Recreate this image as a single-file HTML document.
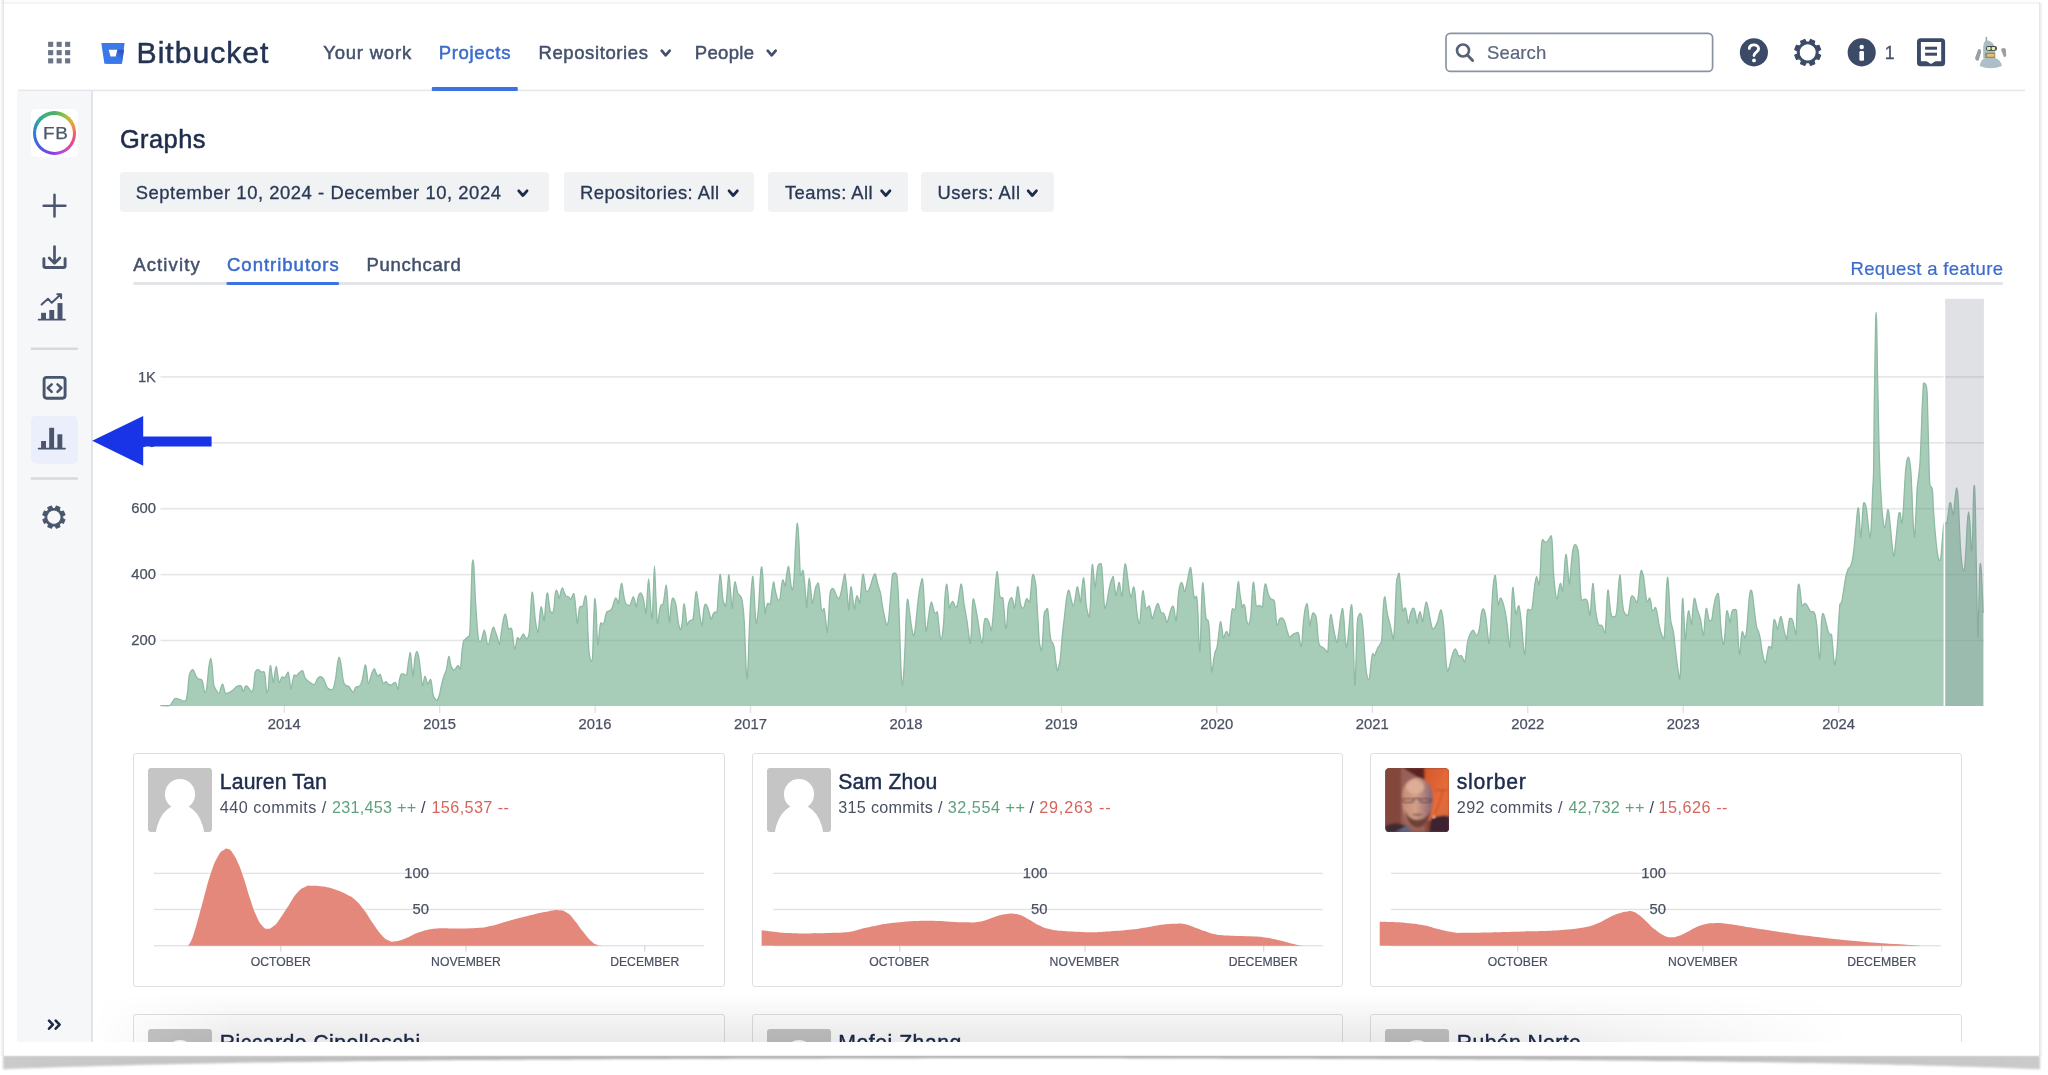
<!DOCTYPE html>
<html lang="en"><head><meta charset="utf-8"><title>Graphs - Bitbucket</title>
<style>

*{box-sizing:border-box;margin:0;padding:0}
html,body{width:2048px;height:1075px;overflow:hidden;background:#fff}
body{font-family:"Liberation Sans",Arial,Helvetica,sans-serif;position:relative}
#sheet{position:absolute;left:0;top:0;width:2048px;height:1075px;overflow:hidden;will-change:transform}
.t{position:absolute;white-space:nowrap;display:block}
.abs{position:absolute}
svg{position:absolute;overflow:visible}
.btn{position:absolute;background:#f1f2f4;border-radius:4px;height:40px;top:172px}
.card{position:absolute;border:1.6px solid #dfdfe2;border-radius:3px;background:#fff}

</style></head>
<body>
<div id="sheet">
<svg width="2048" height="100" style="left:0;top:0"><rect x="48.1" y="41.8" width="5.1" height="5.1" fill="#6c7586"/><rect x="56.6" y="41.8" width="5.1" height="5.1" fill="#6c7586"/><rect x="65.1" y="41.8" width="5.1" height="5.1" fill="#6c7586"/><rect x="48.1" y="50.1" width="5.1" height="5.1" fill="#6c7586"/><rect x="56.6" y="50.1" width="5.1" height="5.1" fill="#6c7586"/><rect x="65.1" y="50.1" width="5.1" height="5.1" fill="#6c7586"/><rect x="48.1" y="58.3" width="5.1" height="5.1" fill="#6c7586"/><rect x="56.6" y="58.3" width="5.1" height="5.1" fill="#6c7586"/><rect x="65.1" y="58.3" width="5.1" height="5.1" fill="#6c7586"/>
<defs><filter id="rbl"><feGaussianBlur stdDeviation="0.45"/></filter><linearGradient id="bbg" x1="1" y1="0.35" x2="0.45" y2="0.8"><stop offset="0" stop-color="#2a57c8"/><stop offset="0.6" stop-color="#3b78ea"/><stop offset="1" stop-color="#3b78ea"/></linearGradient></defs>
<path d="M101.3,43 L124.6,43 L121.9,63.8 L104.4,63.8 Z" fill="#3b78ea"/>
<path d="M124.1,49.7 L117.3,49.7 L115.6,56.6 L112,56.6 L106,63.8 L121.9,63.8 Z" fill="url(#bbg)"/>
<path d="M108.7,49.7 L117.3,49.7 L115.6,56.6 L110.5,56.6 Z" fill="#fff"/>
<rect x="18" y="89.6" width="2007" height="1.6" fill="#e6e7ea"/>
<rect x="431.8" y="87" width="86" height="4" rx="1" fill="#3b74e0"/>
<path d="M661.7,50.7 L665.7,55.3 L669.7,50.7" fill="none" stroke="#44516b" stroke-width="2.8" stroke-linecap="round" stroke-linejoin="round"/>
<path d="M767.7,50.7 L771.7,55.3 L775.7,50.7" fill="none" stroke="#44516b" stroke-width="2.8" stroke-linecap="round" stroke-linejoin="round"/>
<rect x="1446" y="33.4" width="266.6" height="38" rx="4.5" fill="#fff" stroke="#8b93a3" stroke-width="1.7"/>
<circle cx="1463" cy="50.5" r="6" fill="none" stroke="#56627a" stroke-width="2.6"/><path d="M1467.6,55.3 L1472.6,60.4" stroke="#56627a" stroke-width="2.9" stroke-linecap="round"/>
<circle cx="1753.9" cy="52.4" r="14.05" fill="#3b4a66"/>
<path d="M1749.3,48.6 C1749.3,43.6 1758.6,43.6 1758.6,48.8 C1758.6,52.2 1754,52 1754,55.6" fill="none" stroke="#fff" stroke-width="2.9" stroke-linecap="round"/><circle cx="1754" cy="60.4" r="1.9" fill="#fff"/>
<path transform="rotate(22.5 1807.7 52.4)" d="M1817.86,49.75L1820.85,50.09L1820.85,54.71L1817.86,55.05L1816.76,57.71L1818.63,60.07L1815.37,63.33L1813.01,61.46L1810.35,62.56L1810.01,65.55L1805.39,65.55L1805.05,62.56L1802.39,61.46L1800.03,63.33L1796.77,60.07L1798.64,57.71L1797.54,55.05L1794.55,54.71L1794.55,50.09L1797.54,49.75L1798.64,47.09L1796.77,44.73L1800.03,41.47L1802.39,43.34L1805.05,42.24L1805.39,39.25L1810.01,39.25L1810.35,42.24L1813.01,43.34L1815.37,41.47L1818.63,44.73L1816.76,47.09ZM1799.10,52.40 a8.60,8.60 0 1,0 17.20,0 a8.60,8.60 0 1,0 -17.20,0Z" fill="#3b4a66" fill-rule="evenodd" stroke="#3b4a66" stroke-width="1" stroke-linejoin="round"/>
<circle cx="1861.7" cy="52.4" r="14.05" fill="#3b4a66"/>
<circle cx="1861.7" cy="47" r="2.25" fill="#fff"/><rect x="1859.4" y="50.9" width="4.6" height="9.8" rx="1.3" fill="#fff"/>
<rect x="1917" y="38.3" width="28.1" height="28" rx="3.6" fill="#3b4a66"/>
<path d="M1920.9,41.9 H1941.2 V61.3 H1935.4 L1931,64 L1926.6,61.3 H1920.9 Z" fill="#fff"/>
<rect x="1925.1" y="46.7" width="11.9" height="3" fill="#3b4a66"/><rect x="1925.1" y="52.7" width="11.9" height="3" fill="#3b4a66"/>
<g filter="url(#rbl)">
<path d="M1979.6,66 Q1981,59 1985.4,58 L1995.2,58 Q2000.6,59.4 2002,66 Q1991,70.5 1979.6,66 Z" fill="#aebfc9"/>
<path d="M1983.2,58.4 L1983.2,47 Q1983.6,41 1987,40.3 Q1993.5,41.5 1995.2,48 L1995.2,58.4 Z" fill="#a9bbc5"/>
<rect x="1985.6" y="36.8" width="1.5" height="4.6" fill="#9aa7ad"/>
<rect x="1986" y="45.9" width="11" height="4.9" rx="2.3" fill="#3c4a3a"/>
<rect x="1987" y="46.9" width="3.6" height="3" rx="0.8" fill="#e6ecb4"/><rect x="1991.6" y="46.9" width="3.6" height="3" rx="0.8" fill="#e6ecb4"/>
<rect x="1985.2" y="52.8" width="10" height="5.2" rx="1" fill="#a58a42"/>
<rect x="1987" y="54" width="7.4" height="2.8" rx="0.8" fill="#dcc474"/>
<path d="M1978.4,49 Q1981.4,48.6 1981,52.4 L1978.6,60.4 Q1975.6,61.4 1975,58 Z" fill="#9c9fa2"/>
<path d="M2001,49.4 Q2003.4,46.8 2005.8,49 L2006.2,55.6 Q2005,58 2003.6,56.6 Z" fill="#9c9fa2"/>
</g>
</svg>
<span class="t" id="t1" style="left:136.60px;top:38.13px;font-size:30.20px;line-height:30.20px;color:#243352;letter-spacing:0.954px;-webkit-text-stroke:0.45px #243352;">Bitbucket</span>
<span class="t" id="t2" style="left:323.20px;top:44.27px;font-size:18.50px;line-height:18.50px;color:#44516b;letter-spacing:0.801px;-webkit-text-stroke:0.50px #44516b;">Your work</span>
<span class="t" id="t3" style="left:438.70px;top:44.27px;font-size:18.50px;line-height:18.50px;color:#3b6bcc;letter-spacing:0.696px;-webkit-text-stroke:0.50px #3b6bcc;">Projects</span>
<span class="t" id="t4" style="left:538.50px;top:44.27px;font-size:18.50px;line-height:18.50px;color:#44516b;letter-spacing:0.597px;-webkit-text-stroke:0.50px #44516b;">Repositories</span>
<span class="t" id="t5" style="left:694.80px;top:44.27px;font-size:18.50px;line-height:18.50px;color:#44516b;letter-spacing:0.338px;-webkit-text-stroke:0.50px #44516b;">People</span>
<span class="t" id="t6" style="left:1487.00px;top:43.88px;font-size:18.50px;line-height:18.50px;color:#5b677d;letter-spacing:0.135px;-webkit-text-stroke:0.20px #5b677d;">Search</span>
<span class="t" id="t7" style="left:1884.80px;top:44.64px;font-size:17.60px;line-height:17.60px;color:#44516b;-webkit-text-stroke:0.30px #44516b;">1</span>
<div class="abs" style="left:17.2px;top:91px;width:75.9px;height:951px;background:#f6f7f9"></div>
<div class="abs" style="left:91.1px;top:91px;width:1.9px;height:951px;background:#e2e4ea"></div>
<div class="abs" style="left:31.4px;top:108.6px;width:46.4px;height:48.2px;background:#fff;border-radius:5px"></div>
<div class="abs" style="left:33px;top:111.4px;width:43.2px;height:43.2px;border-radius:50%;background:conic-gradient(from 0deg,#4db06a 0deg,#9bc43c 35deg,#f0a63a 60deg,#ee5d6a 95deg,#e0489a 125deg,#b347e0 165deg,#8a3de8 185deg,#4a58e6 225deg,#2f7fd8 270deg,#2fa3a8 305deg,#45b076 335deg,#4db06a 360deg)"></div>
<div class="abs" style="left:36.1px;top:114.5px;width:37px;height:37px;border-radius:50%;background:#fff"></div>
<span class="t" id="t8" style="left:42.70px;top:125.23px;font-size:16.20px;line-height:16.20px;color:#4d586b;-webkit-text-stroke:0.25px #4d586b;transform:scaleX(1.17);transform-origin:0 0;letter-spacing:0.6px;">FB</span>
<svg width="100" height="1075" style="left:0;top:0">
<path d="M43.6,205.7 H65.4 M54.5,194.8 V216.6" stroke="#4a566e" stroke-width="2.5" stroke-linecap="round" fill="none"/>
<path d="M43.9,258.6 V265.9 a1.6,1.6 0 0 0 1.6,1.6 H63.5 a1.6,1.6 0 0 0 1.6,-1.6 V258.6" stroke="#4a566e" stroke-width="2.9" stroke-linecap="round" stroke-linejoin="round" fill="none"/>
<path d="M54.5,246.6 V262.6 M49.2,258 L54.5,263.2 L59.8,258" stroke="#4a566e" stroke-width="2.7" stroke-linecap="round" stroke-linejoin="round" fill="none"/>
<path d="M38.6,319.7 H65" stroke="#4a566e" stroke-width="1.8" stroke-linecap="round"/>
<rect x="41.1" y="312.8" width="4.9" height="6.4" fill="#4a566e"/><rect x="49.3" y="310" width="4.9" height="9.2" fill="#4a566e"/><rect x="57.5" y="303.1" width="5" height="16.1" fill="#4a566e"/>
<path d="M41.6,304.6 L48,298.7 L51.7,302.8 L60.4,294.8 M57.3,294.2 H61.1 V298.2" stroke="#4a566e" stroke-width="2" stroke-linecap="round" stroke-linejoin="round" fill="none"/>
<rect x="30.6" y="347.6" width="47.4" height="2.4" rx="1.2" fill="#d6d9e0"/>
<rect x="30.6" y="477.3" width="47.4" height="2.4" rx="1.2" fill="#d6d9e0"/>
<rect x="44.1" y="377.4" width="21" height="20.8" rx="2.6" stroke="#4a566e" stroke-width="2.9" fill="none"/>
<path d="M51.7,384.3 L47.8,388 L51.7,391.8 M57.5,384.3 L61.4,388 L57.5,391.8" stroke="#4a566e" stroke-width="2.5" stroke-linecap="round" stroke-linejoin="round" fill="none"/>
<rect x="31" y="415.8" width="47" height="47.9" rx="5" fill="#eaeffb"/>
<path d="M38.6,448.6 H65" stroke="#4a566e" stroke-width="1.8" stroke-linecap="round"/>
<rect x="41.1" y="441" width="4.9" height="7" fill="#4a566e"/><rect x="49.2" y="427.8" width="4.9" height="20.2" fill="#4a566e"/><rect x="57.4" y="434.3" width="4.9" height="13.7" fill="#4a566e"/>
<path transform="rotate(22.5 53.9 517.2)" d="M62.51,514.95L65.13,515.23L65.13,519.17L62.51,519.45L61.58,521.70L63.23,523.75L60.45,526.53L58.40,524.88L56.15,525.81L55.87,528.43L51.93,528.43L51.65,525.81L49.40,524.88L47.35,526.53L44.57,523.75L46.22,521.70L45.29,519.45L42.67,519.17L42.67,515.23L45.29,514.95L46.22,512.70L44.57,510.65L47.35,507.87L49.40,509.52L51.65,508.59L51.93,505.97L55.87,505.97L56.15,508.59L58.40,509.52L60.45,507.87L63.23,510.65L61.58,512.70ZM46.80,517.20 a7.10,7.10 0 1,0 14.20,0 a7.10,7.10 0 1,0 -14.20,0Z" fill="#4a566e" fill-rule="evenodd" stroke="#4a566e" stroke-width="1" stroke-linejoin="round"/>
<path d="M49,1020.7 L52.9,1024.7 L49,1028.7 M55.7,1020.7 L59.6,1024.7 L55.7,1028.7" stroke="#1d2a45" stroke-width="2.6" stroke-linecap="round" stroke-linejoin="round" fill="none"/>
</svg>
<span class="t" id="t9" style="left:119.90px;top:126.81px;font-size:25.40px;line-height:25.40px;color:#1d2b4c;letter-spacing:0.467px;-webkit-text-stroke:0.55px #1d2b4c;">Graphs</span>
<div class="btn" style="left:120.0px;width:429.2px"></div>
<div class="btn" style="left:563.6px;width:190.4px"></div>
<div class="btn" style="left:768.0px;width:139.6px"></div>
<div class="btn" style="left:921.4px;width:132.6px"></div>
<span class="t" id="t10" style="left:135.70px;top:184.06px;font-size:18.40px;line-height:18.40px;color:#2a3856;letter-spacing:0.559px;-webkit-text-stroke:0.30px #2a3856;">September 10, 2024 - December 10, 2024</span>
<span class="t" id="t11" style="left:580.00px;top:184.06px;font-size:18.40px;line-height:18.40px;color:#2a3856;letter-spacing:0.446px;-webkit-text-stroke:0.30px #2a3856;">Repositories: All</span>
<span class="t" id="t12" style="left:785.00px;top:184.06px;font-size:18.40px;line-height:18.40px;color:#2a3856;letter-spacing:0.410px;-webkit-text-stroke:0.30px #2a3856;">Teams: All</span>
<span class="t" id="t13" style="left:937.50px;top:184.06px;font-size:18.40px;line-height:18.40px;color:#2a3856;letter-spacing:0.536px;-webkit-text-stroke:0.30px #2a3856;">Users: All</span>
<svg width="2048" height="480" style="left:0;top:0">
<path d="M518.8,190.9 L522.9,195.5 L527.0,190.9" fill="none" stroke="#1d2b4c" stroke-width="2.9" stroke-linecap="round" stroke-linejoin="round"/>
<path d="M729.1,190.9 L733.2,195.5 L737.3,190.9" fill="none" stroke="#1d2b4c" stroke-width="2.9" stroke-linecap="round" stroke-linejoin="round"/>
<path d="M881.7,190.9 L885.8,195.5 L889.9,190.9" fill="none" stroke="#1d2b4c" stroke-width="2.9" stroke-linecap="round" stroke-linejoin="round"/>
<path d="M1028.2,190.9 L1032.3,195.5 L1036.4,190.9" fill="none" stroke="#1d2b4c" stroke-width="2.9" stroke-linecap="round" stroke-linejoin="round"/>
<rect x="133.3" y="282" width="1870" height="3" rx="1.5" fill="#e3e5e9"/>
<rect x="226.4" y="282" width="112.8" height="3" rx="1.5" fill="#3b74e0"/>
</svg>
<span class="t" id="t14" style="left:133.30px;top:256.47px;font-size:18.50px;line-height:18.50px;color:#44516b;letter-spacing:1.115px;-webkit-text-stroke:0.50px #44516b;">Activity</span>
<span class="t" id="t15" style="left:227.00px;top:256.47px;font-size:18.50px;line-height:18.50px;color:#3b6bcc;letter-spacing:0.994px;-webkit-text-stroke:0.50px #3b6bcc;">Contributors</span>
<span class="t" id="t16" style="left:366.50px;top:256.47px;font-size:18.50px;line-height:18.50px;color:#44516b;letter-spacing:0.731px;-webkit-text-stroke:0.50px #44516b;">Punchcard</span>
<span class="t" id="t17" style="left:1850.50px;top:260.17px;font-size:18.50px;line-height:18.50px;color:#3b6bcc;letter-spacing:0.339px;-webkit-text-stroke:0.20px #3b6bcc;">Request a feature</span>
<svg width="2048" height="760" style="left:0;top:0">
<rect x="160.5" y="376.1" width="1823.5" height="1.6" fill="#e6e6e9"/>
<rect x="160.5" y="442.0" width="1823.5" height="1.6" fill="#e6e6e9"/>
<rect x="160.5" y="507.9" width="1823.5" height="1.6" fill="#e6e6e9"/>
<rect x="160.5" y="573.8" width="1823.5" height="1.6" fill="#e6e6e9"/>
<rect x="160.5" y="639.7" width="1823.5" height="1.6" fill="#e6e6e9"/>
<path d="M160.5,705.6C161.9,705.6 167.2,706.0 169.1,705.6C170.9,705.3 170.5,704.7 171.4,703.6C172.3,702.5 173.6,699.7 174.5,698.9C175.4,698.1 175.8,698.4 176.9,698.6C177.9,698.8 179.6,699.6 180.8,700.0C182.0,700.4 183.0,701.3 183.9,701.2C184.8,701.2 185.6,701.5 186.2,699.7C186.9,697.9 187.3,694.5 187.8,690.3C188.3,686.1 188.6,678.1 189.4,674.7C190.1,671.2 191.4,670.2 192.2,669.7C193.0,669.2 193.4,670.5 194.1,671.6C194.7,672.6 195.2,674.7 195.9,675.9C196.7,677.2 197.6,678.5 198.4,679.1C199.3,679.6 200.4,678.8 201.1,679.4C201.8,679.9 202.1,680.4 202.7,682.5C203.3,684.6 204.0,691.1 204.7,692.2C205.3,693.2 205.9,693.0 206.6,688.8C207.3,684.5 208.2,672.0 208.9,666.9C209.6,661.8 210.2,658.3 210.8,658.3C211.3,658.3 211.7,662.6 212.2,666.9C212.7,671.2 213.0,680.3 213.6,684.1C214.2,687.8 215.0,688.0 215.9,689.5C216.8,691.1 218.3,693.6 219.1,693.4C219.8,693.3 220.1,690.4 220.6,688.8C221.2,687.1 221.9,683.8 222.5,683.8C223.1,683.8 223.5,687.2 224.1,688.8C224.6,690.3 224.6,692.6 225.6,693.1C226.6,693.7 228.8,692.7 230.0,692.2C231.2,691.7 232.1,690.9 233.1,690.0C234.2,689.1 235.1,687.6 236.2,686.9C237.4,686.1 239.2,685.6 240.2,685.6C241.1,685.7 241.4,686.2 241.9,687.2C242.4,688.2 242.7,691.7 243.3,691.6C243.9,691.4 244.7,687.3 245.3,686.4C246.0,685.5 246.5,685.9 247.2,686.4C247.9,686.9 248.7,688.7 249.5,689.5C250.4,690.4 251.5,692.2 252.2,691.6C252.9,690.9 253.3,688.7 253.8,685.6C254.2,682.6 254.4,675.8 255.0,673.1C255.6,670.5 256.6,670.2 257.3,669.7C258.1,669.2 258.7,669.9 259.4,670.3C260.0,670.7 260.4,671.7 261.2,672.0C262.1,672.4 263.7,670.9 264.4,672.3C265.1,673.8 265.1,677.6 265.5,680.9C265.9,684.2 266.2,690.9 266.7,692.2C267.2,693.5 267.8,692.2 268.3,688.8C268.8,685.3 269.1,675.4 269.5,671.6C269.9,667.7 270.3,665.4 270.6,665.6C271.0,665.9 271.2,670.3 271.7,673.1C272.2,675.9 272.9,682.5 273.4,682.5C274.0,682.5 274.4,675.8 274.8,673.1C275.3,670.4 275.8,666.4 276.2,666.4C276.7,666.4 277.0,670.4 277.5,673.1C278.0,675.8 278.5,681.8 279.2,682.5C279.9,683.2 281.0,677.8 281.9,677.0C282.8,676.2 283.8,678.3 284.7,677.8C285.5,677.3 286.4,674.8 287.0,673.9C287.6,673.0 287.9,671.6 288.3,672.3C288.7,673.1 288.9,675.9 289.4,678.6C289.8,681.3 290.4,688.2 290.9,688.8C291.5,689.3 292.0,684.0 292.5,681.7C293.0,679.5 293.4,676.1 294.1,675.2C294.7,674.2 295.6,676.3 296.4,675.9C297.2,675.6 297.7,674.0 298.8,673.1C299.8,672.3 301.6,670.0 302.7,670.8C303.7,671.6 304.0,676.0 305.0,677.8C306.0,679.6 307.3,680.6 308.9,681.7C310.5,682.8 312.9,685.1 314.4,684.5C315.8,684.0 316.5,679.9 317.5,678.6C318.5,677.3 319.6,676.4 320.6,676.6C321.7,676.7 322.7,677.6 323.8,679.4C324.8,681.1 325.8,685.5 326.9,687.2C327.9,688.9 329.0,689.3 330.0,689.5C331.0,689.8 332.2,690.4 333.1,688.8C334.0,687.1 334.7,683.5 335.5,679.4C336.2,675.2 336.9,667.4 337.5,663.8C338.1,660.1 338.5,657.2 339.1,657.2C339.6,657.2 340.2,659.8 340.9,663.8C341.6,667.7 342.5,677.3 343.3,680.9C344.1,684.5 344.7,684.4 345.6,685.3C346.5,686.2 347.8,685.6 348.8,686.4C349.7,687.2 350.3,689.0 351.1,690.0C351.9,691.0 352.7,692.7 353.4,692.2C354.2,691.7 354.7,688.2 355.8,687.2C356.8,686.1 358.6,687.0 359.7,685.9C360.7,684.9 361.3,683.6 362.0,680.9C362.8,678.3 363.5,672.7 364.1,670.0C364.6,667.3 365.0,664.3 365.5,665.0C366.0,665.7 366.6,670.7 367.0,673.9C367.5,677.1 367.6,683.9 368.3,684.1C369.0,684.2 370.4,677.2 371.4,674.7C372.4,672.1 373.4,669.0 374.2,668.8C375.0,668.5 375.4,671.9 376.1,673.1C376.7,674.4 377.4,676.0 378.1,676.2C378.8,676.5 379.5,673.5 380.3,674.7C381.1,675.9 382.2,682.1 383.1,683.3C384.1,684.5 385.0,681.5 385.9,681.7C386.8,681.9 387.6,683.9 388.6,684.4C389.6,684.9 390.5,685.2 391.7,684.8C392.9,684.5 394.6,681.7 395.6,682.5C396.7,683.3 397.3,690.1 398.0,689.5C398.6,689.0 399.0,681.9 399.5,679.4C400.1,676.8 400.4,675.3 401.1,674.4C401.7,673.5 402.5,673.9 403.4,673.9C404.3,674.0 405.7,676.6 406.6,674.7C407.4,672.7 407.8,665.8 408.4,662.2C409.1,658.5 409.8,652.3 410.3,652.8C410.9,653.3 411.2,661.4 411.7,665.3C412.2,669.2 412.6,677.3 413.1,676.2C413.6,675.2 414.2,663.2 414.8,659.1C415.4,654.9 416.1,651.8 416.7,651.6C417.4,651.3 418.1,654.2 418.8,657.5C419.4,660.8 420.0,666.9 420.6,671.6C421.2,676.2 421.8,684.8 422.5,685.6C423.2,686.4 424.1,676.5 425.0,676.2C425.9,676.0 426.7,683.5 427.7,684.1C428.6,684.6 429.9,677.9 430.8,679.7C431.7,681.5 432.5,691.9 433.1,695.0C433.8,698.1 434.0,697.2 434.7,698.1C435.3,699.0 436.2,701.0 437.0,700.5C437.8,699.9 438.6,697.7 439.4,695.0C440.2,692.3 440.9,687.3 441.7,684.1C442.5,680.8 443.3,677.8 444.1,675.5C444.8,673.1 445.6,673.2 446.4,670.0C447.2,666.8 448.0,657.2 448.8,656.4C449.5,655.6 450.0,663.0 450.8,665.3C451.6,667.6 452.6,669.5 453.4,670.0C454.3,670.5 455.0,669.2 455.8,668.4C456.6,667.7 457.3,665.3 458.1,665.3C458.9,665.3 459.8,670.8 460.5,668.4C461.1,666.1 461.5,655.8 462.0,651.2C462.6,646.7 463.1,643.0 463.6,641.1C464.1,639.1 464.3,640.3 465.0,639.5C465.7,638.8 467.2,637.7 468.0,636.6C468.8,635.4 469.3,638.9 469.8,632.8C470.3,626.8 470.6,611.0 471.0,600.1C471.3,589.2 471.7,574.0 472.0,567.3C472.3,560.7 472.6,559.9 472.9,559.9C473.2,559.9 473.5,560.7 473.9,567.3C474.4,574.0 474.9,590.2 475.4,600.1C476.0,610.0 476.7,620.2 477.2,626.9C477.8,633.6 478.0,638.0 478.7,640.3C479.4,642.5 480.7,641.3 481.4,640.3C482.1,639.3 482.4,636.0 482.9,634.3C483.4,632.7 483.9,630.1 484.3,630.3C484.8,630.6 485.3,633.5 485.8,635.8C486.3,638.1 486.8,642.8 487.3,644.0C487.9,645.2 488.5,644.9 489.1,643.3C489.7,641.6 490.4,637.0 491.0,634.3C491.7,631.7 492.6,627.8 493.3,627.3C494.0,626.8 494.5,629.4 495.2,631.3C496.0,633.3 497.0,636.7 497.7,638.8C498.5,640.9 499.1,645.2 499.7,644.0C500.3,642.8 500.8,635.4 501.5,631.3C502.1,627.3 502.8,622.3 503.4,619.4C504.0,616.6 504.7,614.0 505.3,614.2C505.9,614.5 506.5,618.4 507.0,620.9C507.5,623.4 507.7,627.9 508.5,629.1C509.2,630.4 510.7,627.0 511.4,628.4C512.2,629.7 512.4,633.8 512.9,637.3C513.4,640.8 514.0,648.2 514.6,649.2C515.1,650.2 515.9,645.2 516.3,643.3C516.8,641.3 516.9,638.4 517.4,637.7C517.9,637.1 518.7,639.6 519.3,639.5C520.0,639.5 520.6,638.2 521.3,637.3C521.9,636.4 522.7,633.9 523.3,633.9C524.0,633.9 524.7,636.5 525.3,637.3C525.8,638.1 526.1,639.3 526.8,638.8C527.4,638.3 528.4,637.6 529.0,634.3C529.6,631.1 529.8,625.4 530.2,619.4C530.6,613.5 531.0,603.1 531.4,598.6C531.8,594.1 532.0,591.5 532.4,592.2C532.8,592.9 533.3,598.3 533.8,603.1C534.3,607.9 534.7,616.1 535.4,620.9C536.1,625.8 537.3,631.6 537.9,632.1C538.6,632.6 538.7,627.5 539.1,623.9C539.5,620.3 539.9,613.3 540.3,610.5C540.7,607.7 541.1,606.6 541.5,607.1C541.9,607.6 542.2,611.2 542.7,613.5C543.1,615.8 543.7,621.9 544.2,620.9C544.6,619.9 545.0,611.8 545.4,607.5C545.8,603.3 546.2,598.0 546.6,595.6C546.9,593.2 547.3,592.4 547.6,593.1C548.0,593.8 548.2,597.2 548.6,600.1C549.1,603.0 549.5,608.4 550.1,610.5C550.8,612.6 551.9,613.2 552.5,612.7C553.2,612.2 553.6,610.6 554.0,607.5C554.5,604.4 554.8,597.0 555.2,594.1C555.6,591.2 556.1,590.1 556.5,590.1C557.0,590.1 557.6,592.7 558.0,594.1C558.5,595.6 558.7,599.1 559.2,598.6C559.7,598.1 560.5,592.9 561.0,591.2C561.5,589.4 562.0,587.8 562.5,587.9C563.0,588.0 563.4,590.6 564.0,591.9C564.5,593.2 565.2,595.1 565.9,595.9C566.7,596.7 567.6,596.2 568.4,596.8C569.3,597.4 570.3,599.5 571.0,599.3C571.6,599.2 572.0,596.5 572.5,595.6C573.0,594.7 573.5,592.8 573.9,593.8C574.4,594.8 574.7,598.1 575.1,601.6C575.5,605.1 575.9,611.3 576.3,615.0C576.7,618.7 577.1,624.2 577.5,623.9C577.9,623.7 578.3,616.3 578.7,613.5C579.1,610.6 579.2,608.0 579.9,606.8C580.6,605.6 582.1,607.3 582.9,606.0C583.6,604.8 583.9,601.0 584.4,599.3C584.9,597.7 585.4,594.6 585.9,595.9C586.3,597.3 586.7,601.6 587.0,607.5C587.4,613.4 587.6,624.4 587.9,631.3C588.2,638.3 588.5,644.7 588.8,649.2C589.2,653.7 589.6,656.2 590.0,658.1C590.5,660.1 591.1,661.6 591.5,661.1C592.0,660.6 592.4,661.6 592.7,655.2C593.0,648.7 593.3,631.3 593.6,622.4C593.9,613.5 594.2,605.3 594.5,601.6C594.8,597.9 594.9,598.1 595.2,600.1C595.5,602.1 596.0,607.3 596.3,613.5C596.6,619.7 596.8,632.1 597.2,637.3C597.5,642.5 597.8,645.7 598.2,644.7C598.6,643.8 599.0,634.9 599.4,631.3C599.8,627.8 600.2,624.4 600.7,623.2C601.3,622.0 602.1,624.3 602.7,624.2C603.2,624.1 603.7,624.0 604.2,622.4C604.7,620.9 605.2,616.8 605.7,615.0C606.1,613.2 606.4,612.4 607.1,611.7C607.9,611.0 609.2,611.2 610.1,610.5C611.0,609.8 611.7,609.0 612.3,607.5C613.0,606.0 613.6,603.2 614.1,601.6C614.7,600.0 615.2,598.0 615.8,597.9C616.3,597.7 617.1,600.0 617.6,600.8C618.1,601.7 618.3,604.7 618.7,603.1C619.2,601.5 619.5,594.5 620.0,591.2C620.5,587.9 621.2,583.0 621.8,583.3C622.3,583.5 622.8,589.7 623.3,592.7C623.8,595.6 624.2,598.9 624.8,600.8C625.3,602.8 625.8,603.9 626.7,604.6C627.6,605.2 629.3,605.6 630.1,604.9C631.0,604.1 631.4,601.4 631.9,600.1C632.5,598.8 632.9,596.6 633.4,596.8C633.9,597.1 634.4,599.9 634.9,601.6C635.4,603.2 635.8,607.5 636.4,606.8C636.9,606.0 637.5,599.4 638.2,597.1C638.8,594.8 639.4,593.5 640.1,593.1C640.7,592.7 641.5,593.8 642.0,594.9C642.6,595.9 643.0,597.0 643.5,599.3C644.0,601.7 644.6,606.8 645.0,609.0C645.5,611.3 645.8,615.5 646.2,612.7C646.6,610.0 647.0,598.3 647.4,592.7C647.8,587.0 648.2,578.8 648.6,578.8C649.0,578.8 649.4,587.1 649.8,592.7C650.2,598.2 650.5,607.8 651.0,612.0C651.4,616.2 651.9,620.9 652.3,617.7C652.7,614.4 653.0,601.2 653.3,592.7C653.7,584.1 654.1,566.2 654.5,566.2C654.9,566.2 655.3,584.0 655.7,592.7C656.1,601.3 656.6,612.8 656.9,618.0C657.3,623.1 657.4,624.6 657.8,623.6C658.2,622.6 658.9,615.1 659.4,612.0C660.0,608.9 660.3,606.7 660.9,605.3C661.6,603.9 662.5,605.2 663.2,603.4C663.8,601.5 664.2,597.2 664.7,594.1C665.1,591.1 665.7,584.9 666.1,584.9C666.6,584.9 666.9,589.4 667.3,594.1C667.7,598.9 668.1,608.8 668.5,613.5C668.9,618.2 669.3,623.4 669.7,622.4C670.1,621.4 670.5,611.5 670.9,607.5C671.3,603.6 671.8,599.9 672.4,598.6C673.0,597.3 673.7,598.7 674.3,599.8C674.9,600.9 675.4,602.5 676.0,605.3C676.5,608.1 677.0,613.1 677.5,616.5C677.9,619.8 678.4,623.2 678.9,625.4C679.5,627.6 680.2,630.1 680.7,629.6C681.3,629.1 681.8,626.1 682.2,622.4C682.7,618.7 683.1,610.6 683.4,607.5C683.8,604.5 684.0,603.4 684.3,604.1C684.6,604.9 685.0,608.6 685.5,612.0C685.9,615.4 686.4,623.0 687.0,624.7C687.5,626.3 688.1,622.4 688.8,621.7C689.4,620.9 690.0,620.6 690.7,620.2C691.4,619.8 692.4,621.1 692.9,619.4C693.5,617.8 693.7,614.2 694.1,610.5C694.5,606.8 694.9,600.3 695.3,597.1C695.7,594.0 696.0,591.4 696.4,591.6C696.8,591.9 697.2,595.5 697.7,598.6C698.2,601.8 698.7,606.8 699.2,610.5C699.7,614.2 700.2,618.4 700.7,620.9C701.2,623.4 701.7,627.1 702.2,625.4C702.7,623.7 703.2,614.0 703.6,610.5C704.1,607.0 704.6,605.0 705.1,604.3C705.7,603.5 706.5,605.0 707.1,606.0C707.6,607.1 708.1,608.9 708.6,610.5C709.1,612.1 709.6,614.2 710.0,615.7C710.5,617.2 710.9,619.7 711.4,619.4C711.9,619.2 712.5,615.5 713.0,614.2C713.6,613.0 714.1,612.5 714.8,612.0C715.5,611.5 716.5,614.0 717.0,611.3C717.6,608.5 717.9,600.7 718.2,595.6C718.6,590.5 718.9,584.3 719.3,580.7C719.6,577.2 719.9,574.0 720.3,574.5C720.7,575.0 721.1,579.7 721.5,583.7C721.9,587.7 722.3,595.3 722.7,598.6C723.1,602.0 723.7,602.6 724.2,603.8C724.7,605.1 725.2,607.4 725.7,606.0C726.1,604.7 726.5,599.8 726.9,595.6C727.3,591.4 727.7,584.2 728.1,580.7C728.4,577.3 728.6,574.1 728.9,575.1C729.3,576.1 729.7,582.3 730.1,586.7C730.5,591.1 731.0,598.0 731.3,601.6C731.7,605.2 732.0,609.5 732.4,608.3C732.7,607.0 733.1,598.0 733.4,594.1C733.7,590.3 734.0,587.2 734.3,585.2C734.6,583.2 734.9,581.7 735.2,581.9C735.5,582.2 735.9,584.8 736.4,586.7C736.8,588.6 737.3,592.0 737.9,593.4C738.4,594.8 739.2,594.6 739.8,595.3C740.4,596.1 740.9,596.1 741.5,597.9C742.0,599.6 742.5,602.4 742.9,606.0C743.4,609.6 743.8,613.7 744.1,619.4C744.5,625.1 744.7,632.8 745.0,640.3C745.3,647.7 745.6,657.6 745.9,664.1C746.2,670.5 746.6,678.5 747.0,679.0C747.3,679.5 747.7,674.0 748.0,667.1C748.3,660.1 748.7,646.7 749.0,637.3C749.4,627.9 749.7,618.4 750.1,610.5C750.5,602.6 750.9,594.8 751.3,589.7C751.6,584.6 751.9,582.1 752.2,580.0C752.4,577.9 752.6,575.4 752.9,577.0C753.2,578.6 753.6,583.8 754.0,589.7C754.3,595.5 754.8,606.4 755.1,612.0C755.5,617.6 755.8,622.2 756.2,623.2C756.6,624.2 757.1,621.1 757.5,618.0C757.9,614.9 758.3,610.3 758.7,604.6C759.1,598.9 759.5,589.4 759.9,583.7C760.3,578.0 760.6,573.1 760.9,570.3C761.3,567.6 761.5,566.1 761.8,567.3C762.2,568.6 762.5,572.6 762.9,577.8C763.2,583.0 763.6,592.7 763.9,598.6C764.3,604.6 764.7,612.0 765.1,613.5C765.5,615.0 765.9,609.2 766.3,607.5C766.7,605.8 767.1,603.9 767.6,603.4C768.2,602.8 769.1,604.3 769.6,604.3C770.1,604.2 770.3,605.0 770.6,603.1C771.0,601.1 771.4,595.8 771.8,592.7C772.2,589.6 772.7,586.2 773.0,584.5C773.4,582.7 773.6,581.4 773.9,582.2C774.2,583.1 774.5,586.8 775.1,589.7C775.7,592.5 776.8,597.8 777.7,599.3C778.5,600.8 779.3,601.0 779.9,598.9C780.6,596.9 780.9,590.1 781.4,586.9C781.8,583.7 782.3,580.4 782.8,579.9C783.2,579.3 783.8,582.4 784.2,583.4C784.6,584.4 784.8,587.5 785.3,586.0C785.7,584.6 786.1,577.9 786.7,574.6C787.2,571.2 787.9,566.1 788.4,566.1C789.0,566.1 789.4,571.1 789.8,574.6C790.3,578.0 790.7,584.6 791.3,586.9C791.8,589.3 792.5,591.3 793.0,588.7C793.6,586.0 794.0,579.3 794.4,571.0C794.9,562.8 795.4,547.2 795.9,539.2C796.4,531.3 796.9,523.0 797.4,523.3C797.9,523.6 798.4,533.0 798.9,541.0C799.3,548.9 799.7,565.3 800.1,571.0C800.5,576.8 800.7,575.6 801.2,575.4C801.6,575.3 802.4,569.4 802.9,570.1C803.5,570.9 803.9,575.3 804.3,579.9C804.8,584.4 805.3,593.0 805.8,597.5C806.2,602.1 806.4,608.7 806.8,607.3C807.2,605.8 807.6,593.6 808.1,588.7C808.5,583.8 808.8,578.1 809.3,578.1C809.7,578.1 810.2,584.6 810.7,588.7C811.2,592.8 811.6,601.1 812.1,602.8C812.6,604.6 813.0,601.7 813.5,599.3C814.1,596.9 814.7,591.2 815.3,588.7C815.9,586.2 816.5,585.1 817.1,584.3C817.6,583.5 818.0,582.1 818.5,583.7C818.9,585.4 819.4,589.8 819.9,594.0C820.4,598.2 820.8,606.2 821.3,609.0C821.8,611.8 822.2,610.8 822.7,610.8C823.2,610.7 823.7,607.3 824.1,608.7C824.6,610.0 825.0,614.7 825.5,618.7C826.1,622.8 826.8,633.2 827.3,632.9C827.8,632.6 828.1,623.2 828.6,617.0C829.0,610.8 829.3,600.3 829.8,595.8C830.2,591.2 830.6,590.8 831.2,589.6C831.8,588.4 832.7,588.3 833.3,588.7C834.0,589.1 834.5,590.9 835.1,592.2C835.7,593.6 836.2,595.6 836.9,596.6C837.5,597.7 838.3,598.9 839.0,598.4C839.6,598.0 840.2,596.2 840.7,594.0C841.3,591.8 842.0,588.0 842.5,585.2C843.0,582.4 843.5,579.0 843.9,577.2C844.3,575.4 844.6,572.9 845.0,574.2C845.4,575.5 845.9,580.7 846.4,585.2C846.9,589.6 847.4,596.9 847.8,601.1C848.2,605.2 848.5,610.8 848.9,609.9C849.2,609.0 849.6,599.6 849.9,595.8C850.3,591.9 850.6,587.5 851.0,586.9C851.4,586.3 851.7,589.9 852.1,592.2C852.4,594.6 852.7,598.1 853.1,601.1C853.5,604.0 854.1,609.9 854.5,609.9C854.9,609.9 855.2,603.4 855.6,601.1C856.0,598.7 856.5,596.1 857.0,595.8C857.5,595.5 858.0,598.1 858.4,599.3C858.9,600.5 859.4,604.6 859.8,602.8C860.3,601.1 860.8,593.0 861.2,588.7C861.7,584.4 862.0,579.6 862.3,577.2C862.7,574.9 863.0,573.5 863.4,574.6C863.8,575.6 864.3,580.6 864.8,583.4C865.3,586.2 865.6,590.1 866.2,591.3C866.8,592.6 867.6,591.7 868.3,590.8C869.0,589.9 869.8,587.9 870.4,586.0C871.1,584.2 871.6,581.7 872.2,579.9C872.8,578.0 873.4,575.9 874.0,574.9C874.5,574.0 874.9,573.4 875.4,574.2C875.9,575.0 876.3,577.7 876.8,579.9C877.3,582.0 877.9,584.6 878.6,586.9C879.2,589.3 880.0,590.8 880.7,594.0C881.3,597.2 881.8,602.5 882.5,606.4C883.1,610.2 883.9,613.9 884.6,617.0C885.3,620.1 886.1,624.3 886.7,624.9C887.3,625.5 887.9,623.9 888.5,620.5C889.0,617.1 889.4,610.2 889.9,604.6C890.4,599.0 890.9,591.8 891.3,586.9C891.7,582.1 892.0,577.7 892.4,575.4C892.7,573.2 892.9,573.7 893.4,573.3C893.9,573.0 894.9,572.8 895.5,573.3C896.1,573.8 896.5,573.2 897.0,576.3C897.4,579.5 897.8,585.5 898.2,592.2C898.6,599.0 898.9,608.1 899.2,617.0C899.6,625.8 899.8,635.8 900.1,645.3C900.5,654.7 900.8,666.8 901.2,673.5C901.5,680.3 901.8,685.9 902.3,685.9C902.7,685.9 903.2,680.3 903.7,673.5C904.1,666.8 904.7,654.7 905.1,645.3C905.5,635.8 905.8,624.0 906.1,617.0C906.5,609.9 906.7,605.7 907.0,602.8C907.3,599.9 907.5,598.5 907.9,599.7C908.3,600.8 908.8,605.8 909.3,609.9C909.9,614.0 910.5,620.1 911.1,624.0C911.7,628.0 912.3,632.0 912.9,633.8C913.4,635.5 913.8,636.3 914.3,634.6C914.7,633.0 915.2,628.8 915.7,624.0C916.2,619.3 916.9,611.7 917.5,606.4C918.0,601.1 918.6,596.2 919.2,592.2C919.8,588.3 920.5,584.7 921.0,582.5C921.5,580.3 922.0,577.9 922.4,579.0C922.8,580.0 923.0,582.4 923.5,588.7C923.9,595.0 924.5,609.9 924.9,617.0C925.3,624.0 925.5,629.6 925.9,631.1C926.3,632.6 926.9,628.5 927.4,625.8C927.8,623.2 928.3,618.4 928.8,615.2C929.2,612.0 929.5,609.0 930.0,606.8C930.5,604.6 931.0,602.0 931.5,602.0C932.0,602.0 932.5,605.0 933.0,606.8C933.5,608.6 933.9,611.7 934.5,612.7C935.0,613.8 935.8,613.1 936.3,613.0C936.7,613.0 937.0,610.7 937.4,612.3C937.8,613.9 938.2,618.7 938.6,622.4C939.0,626.1 939.4,631.5 939.8,634.3C940.2,637.1 940.7,639.1 941.2,639.1C941.6,639.1 942.1,637.1 942.5,634.3C942.9,631.5 943.3,628.4 943.7,622.4C944.1,616.5 944.5,604.7 944.9,598.6C945.3,592.5 945.7,588.2 946.1,586.0C946.4,583.7 946.6,583.6 947.0,585.2C947.3,586.8 947.8,591.9 948.2,595.6C948.6,599.4 948.9,606.3 949.3,607.8C949.8,609.3 950.3,605.6 950.8,604.6C951.3,603.5 951.8,601.8 952.3,601.6C952.8,601.3 953.3,602.1 953.8,603.1C954.4,604.1 955.0,607.3 955.6,607.5C956.2,607.8 957.0,606.5 957.5,604.6C958.1,602.6 958.6,598.6 959.0,595.6C959.5,592.7 960.0,588.6 960.4,586.7C960.7,584.8 960.9,583.7 961.3,584.2C961.6,584.7 962.0,586.5 962.4,589.7C962.9,592.8 963.4,599.1 963.9,603.1C964.5,607.0 965.2,610.3 965.7,613.5C966.3,616.7 966.7,618.9 967.2,622.4C967.7,625.9 968.2,630.9 968.7,634.3C969.2,637.8 969.7,643.8 970.2,643.3C970.6,642.8 971.0,637.3 971.4,631.3C971.7,625.4 972.0,612.9 972.3,607.5C972.6,602.1 972.8,599.6 973.2,598.9C973.6,598.2 974.1,600.9 974.7,603.1C975.2,605.3 975.8,608.5 976.4,612.0C977.1,615.5 977.7,619.9 978.4,623.9C979.0,627.9 979.7,632.6 980.3,635.8C980.9,639.0 981.3,643.0 981.8,643.3C982.2,643.5 982.6,640.5 983.0,637.3C983.3,634.1 983.5,627.0 983.9,623.9C984.2,620.8 984.6,619.5 985.1,618.7C985.6,617.9 986.3,618.5 986.9,618.8C987.4,619.2 987.8,619.8 988.3,620.9C988.8,622.0 989.3,623.8 989.8,625.4C990.3,627.0 990.9,631.1 991.3,630.6C991.8,630.1 992.1,626.8 992.5,622.4C993.0,618.1 993.5,611.0 994.0,604.6C994.5,598.1 995.0,588.9 995.5,583.7C995.9,578.5 996.4,575.2 996.7,573.3C997.0,571.4 997.1,571.1 997.4,572.6C997.7,574.0 998.1,578.4 998.5,582.2C998.8,586.1 999.2,593.0 999.7,595.6C1000.2,598.2 1000.9,597.4 1001.4,597.9C1002.0,598.4 1002.5,596.5 1002.9,598.6C1003.4,600.7 1003.7,606.0 1004.1,610.5C1004.5,615.0 1005.0,622.4 1005.3,625.4C1005.7,628.4 1005.9,628.9 1006.2,628.4C1006.5,627.9 1006.8,625.9 1007.1,622.4C1007.4,618.9 1007.6,611.0 1008.0,607.5C1008.3,604.1 1008.7,603.1 1009.2,601.6C1009.6,600.0 1010.2,598.9 1010.7,598.3C1011.1,597.7 1011.5,597.3 1011.9,597.9C1012.3,598.4 1012.6,599.8 1013.1,601.6C1013.5,603.3 1014.0,608.8 1014.5,608.3C1015.0,607.8 1015.6,601.8 1016.0,598.6C1016.5,595.4 1016.9,590.9 1017.2,588.9C1017.6,587.0 1017.8,585.9 1018.1,587.0C1018.5,588.1 1018.9,592.6 1019.3,595.6C1019.7,598.7 1020.2,603.2 1020.8,605.3C1021.4,607.4 1022.3,608.2 1022.9,608.3C1023.5,608.4 1023.9,607.4 1024.4,606.0C1024.9,604.7 1025.4,601.3 1025.9,600.1C1026.3,598.9 1026.6,598.5 1027.0,598.6C1027.4,598.7 1027.8,600.3 1028.2,600.8C1028.7,601.3 1029.3,603.2 1029.7,601.6C1030.2,600.0 1030.5,595.1 1030.9,591.2C1031.3,587.2 1031.7,580.5 1032.1,577.8C1032.5,575.0 1032.9,574.5 1033.3,574.5C1033.7,574.5 1034.0,575.7 1034.5,577.8C1034.9,579.8 1035.6,582.7 1036.0,586.7C1036.4,590.7 1036.5,595.6 1036.9,601.6C1037.2,607.5 1037.7,616.0 1038.1,622.4C1038.5,628.9 1038.8,636.1 1039.2,640.3C1039.6,644.5 1040.0,646.0 1040.4,647.7C1040.8,649.5 1041.2,652.4 1041.6,650.7C1042.0,649.0 1042.5,642.5 1042.8,637.3C1043.2,632.1 1043.4,623.7 1043.7,619.4C1044.0,615.2 1044.2,613.5 1044.6,612.0C1045.0,610.5 1045.6,610.7 1046.1,610.2C1046.6,609.7 1047.1,607.5 1047.6,609.0C1048.0,610.6 1048.4,615.2 1048.8,619.4C1049.2,623.7 1049.6,630.7 1050.0,634.3C1050.4,637.9 1050.7,639.5 1051.2,641.0C1051.6,642.5 1052.4,641.9 1052.9,643.3C1053.5,644.6 1053.9,646.0 1054.4,649.2C1054.9,652.4 1055.4,659.0 1055.9,662.6C1056.4,666.2 1056.9,670.3 1057.4,670.8C1057.9,671.3 1058.4,667.7 1058.9,665.6C1059.4,663.5 1059.9,662.4 1060.4,658.1C1060.9,653.9 1061.4,645.7 1061.9,640.3C1062.4,634.8 1062.9,629.9 1063.4,625.4C1063.9,620.9 1064.4,617.7 1064.8,613.5C1065.3,609.3 1065.8,603.7 1066.3,600.1C1066.8,596.5 1067.4,593.5 1067.8,591.9C1068.3,590.3 1068.6,589.9 1069.0,590.4C1069.4,590.9 1069.8,593.0 1070.2,594.9C1070.7,596.7 1071.1,599.7 1071.7,601.6C1072.2,603.4 1072.9,606.3 1073.5,606.0C1074.0,605.8 1074.5,602.8 1075.0,600.1C1075.5,597.4 1076.0,591.9 1076.5,589.7C1076.9,587.5 1077.2,586.5 1077.6,587.0C1078.0,587.5 1078.3,590.1 1078.8,592.7C1079.3,595.2 1080.1,602.8 1080.6,602.3C1081.1,601.8 1081.4,593.4 1081.8,589.7C1082.2,586.0 1082.7,581.9 1083.0,580.0C1083.3,578.1 1083.5,577.4 1083.7,578.5C1084.0,579.6 1084.4,582.6 1084.8,586.7C1085.2,590.8 1085.5,598.9 1086.0,603.1C1086.4,607.3 1086.9,609.7 1087.5,612.0C1088.0,614.3 1088.7,618.0 1089.2,616.8C1089.6,615.5 1090.0,611.1 1090.4,604.6C1090.7,598.1 1090.9,584.5 1091.3,577.8C1091.6,571.1 1092.0,564.9 1092.4,564.4C1092.8,563.9 1093.2,570.8 1093.6,574.8C1094.1,578.8 1094.6,588.2 1095.1,588.2C1095.6,588.2 1096.1,578.6 1096.6,574.8C1097.1,571.0 1097.6,567.3 1098.1,565.6C1098.6,563.8 1099.0,564.2 1099.6,564.1C1100.1,563.9 1100.9,562.4 1101.4,564.7C1101.9,567.0 1102.2,572.1 1102.6,577.8C1103.0,583.4 1103.4,593.5 1103.8,598.6C1104.2,603.7 1104.4,607.5 1104.9,608.3C1105.4,609.0 1106.1,605.7 1106.7,603.1C1107.3,600.5 1107.9,595.9 1108.5,592.7C1109.1,589.4 1109.7,586.1 1110.3,583.7C1110.9,581.4 1111.6,579.6 1112.1,578.5C1112.6,577.4 1112.9,575.9 1113.3,577.0C1113.7,578.1 1114.0,582.1 1114.5,585.2C1114.9,588.3 1115.5,594.9 1116.0,595.6C1116.5,596.4 1117.0,591.7 1117.4,589.7C1117.9,587.7 1118.3,584.8 1118.6,583.7C1119.0,582.6 1119.2,581.7 1119.5,583.0C1119.9,584.2 1120.3,589.1 1120.7,591.2C1121.2,593.3 1121.8,597.9 1122.2,595.6C1122.7,593.4 1123.0,582.6 1123.4,577.8C1123.8,572.9 1124.2,568.9 1124.6,566.6C1124.9,564.3 1125.1,563.5 1125.5,564.1C1125.8,564.7 1126.2,567.3 1126.7,570.3C1127.1,573.4 1127.7,578.5 1128.2,582.2C1128.7,586.0 1129.1,590.2 1129.7,592.7C1130.2,595.1 1130.9,597.5 1131.4,597.1C1131.9,596.7 1132.2,592.1 1132.6,590.4C1133.0,588.7 1133.4,586.6 1133.8,587.0C1134.2,587.4 1134.6,589.5 1135.0,592.7C1135.4,595.8 1135.8,601.8 1136.2,606.0C1136.6,610.3 1137.1,615.0 1137.7,618.0C1138.2,620.9 1139.0,624.7 1139.5,623.9C1140.0,623.2 1140.3,618.0 1140.7,613.5C1141.1,609.0 1141.5,601.0 1141.9,597.1C1142.3,593.3 1142.6,590.4 1143.0,590.4C1143.4,590.4 1143.8,594.3 1144.2,597.1C1144.7,600.0 1145.2,605.8 1145.7,607.5C1146.3,609.3 1146.9,607.8 1147.5,607.5C1148.1,607.3 1148.8,605.6 1149.3,606.0C1149.8,606.5 1150.0,608.4 1150.5,610.5C1151.0,612.6 1151.7,618.2 1152.3,618.7C1152.9,619.2 1153.4,615.5 1154.1,613.5C1154.7,611.5 1155.5,608.5 1156.1,606.8C1156.8,605.1 1157.4,603.2 1157.9,603.4C1158.5,603.5 1158.9,606.0 1159.4,607.5C1160.0,609.1 1160.5,611.8 1161.2,612.7C1161.9,613.7 1162.9,612.6 1163.6,613.2C1164.2,613.8 1164.5,614.9 1165.1,616.5C1165.6,618.0 1166.3,622.2 1166.9,622.4C1167.5,622.7 1168.0,619.9 1168.6,618.0C1169.3,616.0 1169.9,612.4 1170.6,610.5C1171.2,608.6 1172.0,606.8 1172.5,606.3C1173.0,605.8 1173.3,606.1 1173.7,607.5C1174.1,609.0 1174.5,612.7 1174.9,615.0C1175.3,617.2 1175.7,621.7 1176.1,620.9C1176.5,620.2 1176.9,615.0 1177.3,610.5C1177.7,606.0 1178.0,598.4 1178.5,594.1C1178.9,589.9 1179.5,587.1 1180.0,585.2C1180.5,583.3 1181.0,582.5 1181.4,582.5C1181.9,582.5 1182.4,583.6 1182.9,585.2C1183.4,586.8 1183.9,591.7 1184.4,591.9C1185.0,592.2 1185.6,589.1 1186.2,586.7C1186.8,584.3 1187.4,580.5 1188.0,577.8C1188.5,575.0 1189.0,572.0 1189.5,570.3C1189.9,568.7 1190.3,566.8 1190.7,567.8C1191.1,568.8 1191.4,572.1 1191.9,576.3C1192.3,580.4 1192.9,588.9 1193.4,592.7C1193.8,596.4 1194.3,597.9 1194.8,598.6C1195.4,599.3 1196.1,594.8 1196.6,596.8C1197.1,598.8 1197.5,604.3 1197.8,610.5C1198.2,616.8 1198.4,627.6 1198.7,634.3C1199.0,641.0 1199.3,649.2 1199.6,650.7C1199.9,652.2 1200.2,650.4 1200.5,643.3C1200.8,636.1 1201.1,617.0 1201.4,607.5C1201.7,598.1 1202.0,590.7 1202.3,586.7C1202.6,582.7 1202.7,582.2 1203.0,583.7C1203.3,585.2 1203.7,590.9 1204.1,595.6C1204.4,600.3 1204.9,608.0 1205.3,612.0C1205.7,616.0 1206.0,618.0 1206.5,619.4C1206.9,620.9 1207.7,618.9 1208.2,620.9C1208.7,622.9 1209.1,626.1 1209.4,631.3C1209.8,636.6 1210.0,645.5 1210.3,652.2C1210.7,658.9 1211.1,669.1 1211.5,671.5C1211.9,674.0 1212.3,669.3 1212.7,667.1C1213.1,664.8 1213.5,660.6 1213.9,658.1C1214.3,655.7 1214.6,653.9 1215.1,652.2C1215.6,650.4 1216.3,650.2 1216.9,647.7C1217.4,645.2 1217.9,640.8 1218.4,637.3C1218.8,633.8 1219.2,629.5 1219.5,626.9C1219.9,624.3 1220.3,621.4 1220.7,621.7C1221.1,621.9 1221.5,625.6 1221.9,628.4C1222.4,631.1 1222.9,637.2 1223.4,638.0C1224.0,638.9 1224.7,634.7 1225.2,633.6C1225.8,632.5 1226.2,631.2 1226.7,631.3C1227.2,631.5 1227.7,633.7 1228.2,634.3C1228.6,634.9 1229.0,637.1 1229.4,635.1C1229.8,633.1 1230.1,626.6 1230.6,622.4C1231.0,618.2 1231.5,612.0 1232.1,609.8C1232.6,607.6 1233.3,609.4 1233.8,609.3C1234.4,609.2 1234.9,611.1 1235.3,609.0C1235.8,607.0 1236.1,601.1 1236.5,597.1C1236.9,593.1 1237.4,587.7 1237.7,585.2C1238.1,582.7 1238.3,580.7 1238.6,581.9C1238.9,583.2 1239.4,589.4 1239.8,592.7C1240.2,595.9 1240.8,599.1 1241.2,601.6C1241.6,604.1 1241.8,607.1 1242.2,607.5C1242.7,608.0 1243.2,604.3 1243.7,604.3C1244.2,604.3 1244.6,605.0 1245.1,607.5C1245.5,610.1 1246.1,616.7 1246.5,619.4C1247.0,622.2 1247.3,623.3 1247.7,623.9C1248.2,624.5 1248.7,624.4 1249.2,623.2C1249.7,621.9 1250.3,620.8 1250.7,616.5C1251.2,612.1 1251.6,602.3 1251.9,597.1C1252.3,591.9 1252.5,587.6 1252.8,585.2C1253.1,582.8 1253.3,581.4 1253.7,582.7C1254.0,583.9 1254.5,588.9 1254.9,592.7C1255.3,596.4 1255.6,603.1 1256.1,605.3C1256.6,607.5 1257.3,606.0 1257.9,606.0C1258.4,606.0 1258.7,605.2 1259.3,605.3C1260.0,605.4 1261.0,606.7 1261.6,606.8C1262.1,606.9 1262.3,608.4 1262.6,606.0C1263.0,603.7 1263.4,596.2 1263.8,592.7C1264.2,589.1 1264.6,585.7 1265.0,584.5C1265.4,583.2 1265.7,584.0 1266.2,585.2C1266.6,586.4 1267.1,589.9 1267.7,591.9C1268.2,593.9 1268.8,595.9 1269.5,597.1C1270.1,598.4 1270.8,598.7 1271.6,599.3C1272.3,600.0 1273.6,599.0 1274.2,600.8C1274.9,602.7 1275.0,606.7 1275.4,610.5C1275.8,614.4 1276.2,621.7 1276.6,623.9C1277.1,626.1 1277.7,624.7 1278.1,623.9C1278.5,623.2 1278.7,620.4 1279.3,619.4C1279.8,618.4 1280.7,618.0 1281.4,618.0C1282.1,618.0 1282.8,618.4 1283.5,619.4C1284.1,620.4 1284.8,621.9 1285.4,623.9C1286.0,625.9 1286.7,629.1 1287.3,631.3C1288.0,633.6 1288.7,636.6 1289.4,637.3C1290.1,638.0 1290.7,636.4 1291.3,635.8C1292.0,635.3 1292.8,634.5 1293.6,634.0C1294.4,633.5 1295.5,633.0 1296.3,632.8C1297.1,632.6 1297.8,631.8 1298.3,632.8C1298.9,633.8 1299.1,636.6 1299.5,638.8C1299.9,641.0 1300.3,645.5 1300.7,646.2C1301.1,647.0 1301.5,646.7 1301.9,643.3C1302.3,639.8 1302.7,630.6 1303.1,625.4C1303.6,620.2 1304.1,615.3 1304.6,612.0C1305.1,608.7 1305.6,606.6 1306.1,605.3C1306.5,604.0 1306.9,602.9 1307.3,604.3C1307.7,605.6 1308.1,609.8 1308.5,613.5C1308.9,617.1 1309.2,625.1 1309.7,626.1C1310.1,627.1 1310.6,621.6 1311.1,619.4C1311.6,617.3 1312.1,614.5 1312.6,613.5C1313.1,612.5 1313.6,613.0 1314.1,613.5C1314.7,614.0 1315.4,614.5 1315.9,616.5C1316.4,618.4 1316.7,621.4 1317.1,625.4C1317.5,629.4 1317.8,636.9 1318.3,640.3C1318.7,643.6 1319.2,644.4 1319.8,645.5C1320.4,646.6 1321.1,646.5 1321.9,647.0C1322.6,647.5 1323.4,647.9 1324.1,648.5C1324.8,649.0 1325.4,649.9 1326.0,650.4C1326.6,650.9 1327.4,653.6 1327.8,651.4C1328.3,649.3 1328.4,642.6 1328.7,637.3C1329.1,632.0 1329.5,623.2 1329.9,619.4C1330.3,615.6 1330.7,614.3 1331.1,614.5C1331.5,614.8 1331.8,618.4 1332.3,620.9C1332.7,623.5 1333.3,627.1 1333.8,629.9C1334.3,632.6 1334.7,635.2 1335.3,637.3C1335.8,639.4 1336.5,643.0 1337.0,642.5C1337.6,642.0 1338.0,638.2 1338.5,634.3C1339.1,630.5 1339.8,623.4 1340.3,619.4C1340.9,615.5 1341.4,612.2 1341.8,610.5C1342.2,608.8 1342.4,607.5 1342.7,609.0C1343.0,610.5 1343.5,614.7 1343.9,619.4C1344.3,624.2 1344.7,632.7 1345.1,637.3C1345.5,641.9 1345.8,646.5 1346.3,647.0C1346.7,647.5 1347.3,643.9 1347.8,640.3C1348.3,636.7 1348.8,630.4 1349.2,625.4C1349.7,620.4 1350.0,613.9 1350.4,610.5C1350.8,607.1 1351.3,604.1 1351.6,604.9C1352.0,605.6 1352.2,608.3 1352.5,615.0C1352.8,621.6 1353.1,634.3 1353.4,644.7C1353.7,655.2 1354.1,670.8 1354.3,677.5C1354.6,684.2 1354.7,686.7 1354.9,684.9C1355.2,683.2 1355.5,675.0 1355.8,667.1C1356.1,659.1 1356.4,645.2 1356.7,637.3C1357.0,629.4 1357.2,623.2 1357.6,619.4C1358.0,615.7 1358.6,616.0 1359.1,615.0C1359.6,614.0 1360.1,613.2 1360.6,613.5C1361.0,613.7 1361.4,614.2 1361.7,616.5C1362.1,618.7 1362.5,622.4 1362.9,626.9C1363.3,631.3 1363.7,637.6 1364.1,643.3C1364.5,649.0 1364.9,656.2 1365.3,661.1C1365.7,666.1 1366.1,670.0 1366.5,673.0C1367.0,676.0 1367.5,678.1 1368.0,679.0C1368.5,679.8 1369.0,680.2 1369.5,678.2C1369.9,676.2 1370.3,670.7 1370.7,667.1C1371.1,663.5 1371.5,658.9 1371.9,656.7C1372.2,654.4 1372.5,653.8 1372.9,653.7C1373.4,653.6 1374.0,656.2 1374.5,655.9C1375.1,655.7 1375.5,653.6 1376.0,652.2C1376.6,650.8 1377.2,649.0 1377.8,647.7C1378.5,646.5 1379.3,646.0 1379.9,644.7C1380.6,643.5 1381.2,644.0 1381.7,640.3C1382.1,636.6 1382.3,628.4 1382.6,622.4C1382.9,616.5 1383.1,608.8 1383.5,604.6C1383.8,600.3 1384.3,597.1 1384.7,596.8C1385.1,596.6 1385.4,600.3 1385.9,603.1C1386.3,605.8 1386.8,610.5 1387.3,613.5C1387.9,616.5 1388.5,618.4 1389.1,620.9C1389.7,623.4 1390.4,625.9 1390.9,628.4C1391.5,630.9 1392.0,634.1 1392.4,635.8C1392.9,637.6 1393.2,641.0 1393.6,638.8C1394.0,636.6 1394.3,631.4 1394.8,622.4C1395.2,613.4 1395.9,592.6 1396.3,584.9C1396.8,577.3 1397.2,578.5 1397.7,576.6C1398.2,574.7 1398.7,572.2 1399.2,573.5C1399.6,574.9 1399.9,580.2 1400.4,584.9C1400.8,589.6 1401.3,597.4 1401.7,601.7C1402.1,606.0 1402.3,609.8 1402.7,610.9C1403.1,612.0 1403.9,608.7 1404.4,608.4C1404.9,608.0 1405.3,607.3 1405.7,608.7C1406.2,610.1 1406.6,614.2 1407.1,616.7C1407.5,619.3 1407.9,624.1 1408.4,623.8C1408.9,623.5 1409.5,617.4 1410.1,615.1C1410.6,612.8 1411.1,611.2 1411.7,610.0C1412.4,608.9 1413.1,607.8 1413.8,608.4C1414.4,608.9 1414.9,610.9 1415.4,613.4C1416.0,615.9 1416.6,622.9 1417.1,623.4C1417.6,624.0 1417.9,618.7 1418.4,616.7C1418.9,614.8 1419.6,611.7 1420.1,611.7C1420.6,611.7 1421.0,615.1 1421.5,616.7C1421.9,618.4 1422.3,622.9 1422.8,621.8C1423.3,620.7 1423.9,613.3 1424.5,610.0C1425.0,606.8 1425.6,602.7 1426.1,602.2C1426.7,601.6 1427.3,604.6 1427.8,606.7C1428.4,608.8 1428.9,612.1 1429.5,615.1C1430.1,618.0 1430.6,622.0 1431.2,624.3C1431.7,626.6 1432.2,628.6 1432.8,629.0C1433.5,629.4 1434.4,628.0 1435.2,626.8C1436.0,625.6 1436.8,624.0 1437.5,621.8C1438.3,619.5 1438.9,615.4 1439.5,613.4C1440.2,611.4 1440.7,609.2 1441.2,610.0C1441.8,610.9 1442.4,614.8 1442.9,618.4C1443.4,622.1 1443.8,626.8 1444.2,631.8C1444.6,636.8 1444.9,643.3 1445.2,648.6C1445.6,653.9 1445.8,659.9 1446.2,663.6C1446.6,667.4 1447.1,670.6 1447.6,671.2C1448.1,671.7 1448.6,669.1 1449.3,667.0C1449.9,664.9 1450.6,661.1 1451.3,658.6C1451.9,656.1 1452.6,653.5 1453.3,651.9C1453.9,650.3 1454.7,648.9 1455.3,648.9C1455.9,648.9 1456.3,650.7 1457.0,651.9C1457.6,653.1 1458.2,655.5 1459.0,656.1C1459.7,656.7 1460.6,655.2 1461.3,655.6C1462.0,656.0 1462.4,657.5 1463.0,658.6C1463.5,659.7 1464.2,662.5 1464.7,662.0C1465.2,661.4 1465.6,658.3 1466.0,655.3C1466.4,652.2 1466.8,646.6 1467.3,643.5C1467.8,640.5 1468.4,638.7 1469.0,636.8C1469.6,635.0 1470.4,633.8 1471.0,632.7C1471.7,631.5 1472.4,630.1 1473.0,630.1C1473.6,630.1 1474.2,631.8 1474.7,632.7C1475.2,633.5 1475.5,635.0 1476.0,635.2C1476.6,635.3 1477.4,634.9 1478.1,633.5C1478.7,632.1 1479.2,630.1 1479.7,626.8C1480.3,623.4 1480.8,616.4 1481.4,613.4C1482.0,610.4 1482.5,609.2 1483.1,608.9C1483.6,608.6 1484.2,609.6 1484.8,611.7C1485.3,613.9 1485.9,617.9 1486.4,621.8C1486.9,625.7 1487.3,631.5 1487.8,635.2C1488.2,638.8 1488.7,644.1 1489.1,643.5C1489.6,643.0 1490.0,638.0 1490.4,631.8C1490.9,625.7 1491.3,614.2 1491.8,606.7C1492.2,599.2 1492.7,591.6 1493.1,586.6C1493.6,581.6 1494.1,578.6 1494.5,576.9C1494.9,575.2 1495.1,574.4 1495.5,576.6C1495.9,578.7 1496.4,585.2 1496.8,590.0C1497.3,594.7 1497.6,603.5 1498.1,605.0C1498.7,606.6 1499.3,600.3 1499.8,599.2C1500.3,598.0 1500.6,597.6 1501.2,598.3C1501.7,599.0 1502.4,600.8 1503.2,603.4C1503.9,605.9 1504.8,609.8 1505.5,613.4C1506.2,617.0 1506.7,620.9 1507.2,625.1C1507.7,629.3 1508.1,634.9 1508.5,638.5C1509.0,642.1 1509.5,648.6 1509.9,646.9C1510.3,645.2 1510.5,636.3 1510.9,628.5C1511.2,620.7 1511.5,606.8 1511.9,600.0C1512.2,593.2 1512.5,588.3 1512.9,587.4C1513.2,586.6 1513.5,591.2 1513.9,595.0C1514.3,598.7 1514.8,606.8 1515.2,610.0C1515.6,613.3 1515.8,614.5 1516.2,614.2C1516.6,614.0 1517.1,609.8 1517.6,608.4C1518.0,607.0 1518.5,605.0 1518.9,605.9C1519.4,606.7 1519.7,609.6 1520.3,613.4C1520.8,617.2 1521.4,623.2 1521.9,628.5C1522.4,633.8 1522.8,640.7 1523.3,645.2C1523.7,649.7 1524.2,655.3 1524.6,655.3C1525.0,655.3 1525.3,650.8 1525.6,645.2C1525.9,639.6 1526.3,627.6 1526.6,621.8C1526.9,615.9 1527.1,612.0 1527.6,610.0C1528.2,608.1 1529.2,610.3 1530.0,610.0C1530.7,609.8 1531.4,610.9 1532.0,608.4C1532.6,605.9 1533.1,599.4 1533.6,595.0C1534.2,590.5 1534.8,584.7 1535.3,581.6C1535.8,578.5 1536.2,576.6 1536.7,576.6C1537.1,576.6 1537.6,580.3 1538.0,581.6C1538.4,582.8 1538.9,585.8 1539.3,584.1C1539.7,582.4 1540.0,577.5 1540.3,571.5C1540.7,565.5 1541.0,553.3 1541.3,548.1C1541.7,542.8 1541.9,541.2 1542.4,540.1C1542.8,538.9 1543.5,540.7 1544.0,541.1C1544.6,541.4 1545.1,542.2 1545.7,542.2C1546.3,542.2 1547.0,541.8 1547.7,541.1C1548.4,540.4 1549.1,538.9 1549.7,538.0C1550.3,537.2 1550.9,534.9 1551.3,536.0C1551.8,537.2 1552.0,539.1 1552.3,544.7C1552.7,550.4 1553.0,562.9 1553.3,569.9C1553.7,576.8 1554.2,582.1 1554.7,586.6C1555.1,591.1 1555.6,594.7 1556.0,596.7C1556.5,598.6 1556.9,599.4 1557.4,598.3C1557.8,597.2 1558.2,592.5 1558.7,590.0C1559.2,587.4 1559.9,583.5 1560.4,583.3C1560.9,583.0 1561.3,587.0 1561.7,588.3C1562.1,589.5 1562.3,593.0 1562.7,590.8C1563.1,588.6 1563.7,580.0 1564.1,574.9C1564.5,569.7 1564.7,563.2 1565.1,559.8C1565.4,556.4 1565.9,553.6 1566.2,554.5C1566.6,555.3 1567.0,560.6 1567.4,564.8C1567.8,569.1 1568.4,576.8 1568.8,579.9C1569.1,583.0 1569.4,585.5 1569.8,583.3C1570.1,581.0 1570.7,571.5 1571.1,566.5C1571.5,561.5 1572.0,556.5 1572.4,553.1C1572.9,549.8 1573.3,547.8 1573.8,546.4C1574.2,545.0 1574.6,544.7 1575.1,544.7C1575.6,544.7 1576.2,545.0 1576.8,546.4C1577.3,547.8 1578.0,549.2 1578.5,553.1C1578.9,557.0 1579.1,563.4 1579.5,569.9C1579.8,576.3 1580.1,586.7 1580.5,591.6C1580.8,596.6 1581.0,598.3 1581.5,599.7C1582.0,601.0 1582.8,599.8 1583.5,599.7C1584.2,599.6 1584.8,598.8 1585.5,599.2C1586.2,599.5 1587.0,599.9 1587.5,601.7C1588.1,603.5 1588.4,607.8 1588.8,610.0C1589.3,612.3 1589.8,616.5 1590.2,615.1C1590.6,613.7 1590.9,606.1 1591.2,601.7C1591.5,597.2 1591.9,591.3 1592.2,588.3C1592.5,585.3 1592.9,582.6 1593.2,583.8C1593.5,584.9 1593.8,590.6 1594.2,595.0C1594.6,599.4 1595.0,605.9 1595.5,610.0C1596.0,614.2 1596.7,617.6 1597.2,620.1C1597.8,622.6 1598.3,624.3 1598.9,625.1C1599.5,626.0 1600.3,624.8 1600.9,625.1C1601.5,625.4 1602.1,625.8 1602.6,626.8C1603.1,627.8 1603.5,630.1 1603.9,631.0C1604.4,631.8 1604.9,634.5 1605.3,631.8C1605.6,629.2 1605.9,621.2 1606.3,615.1C1606.6,608.9 1606.9,599.1 1607.3,595.0C1607.6,590.8 1607.9,589.5 1608.3,590.3C1608.6,591.1 1608.9,596.4 1609.3,600.0C1609.7,603.6 1610.2,609.0 1610.6,611.7C1611.1,614.5 1611.4,615.6 1612.0,616.4C1612.5,617.2 1613.3,617.0 1614.0,616.7C1614.6,616.5 1615.4,617.0 1616.0,615.1C1616.5,613.1 1616.9,610.0 1617.3,605.0C1617.8,600.0 1618.2,590.0 1618.7,584.9C1619.1,579.9 1619.6,574.6 1620.0,574.6C1620.4,574.6 1620.6,580.4 1621.0,584.9C1621.4,589.5 1621.9,597.4 1622.3,601.7C1622.8,606.0 1623.1,608.8 1623.7,610.9C1624.2,613.0 1625.0,613.5 1625.7,614.2C1626.4,615.0 1627.4,616.4 1628.0,615.4C1628.6,614.4 1628.9,611.4 1629.4,608.4C1629.9,605.4 1630.5,599.6 1631.0,597.5C1631.5,595.4 1631.9,595.8 1632.4,595.8C1632.9,595.8 1633.5,596.7 1634.1,597.5C1634.6,598.3 1635.2,600.0 1635.7,600.8C1636.2,601.7 1636.6,603.5 1637.1,602.5C1637.5,601.5 1638.0,599.0 1638.4,595.0C1638.9,590.9 1639.3,582.3 1639.8,578.2C1640.2,574.2 1640.6,571.7 1641.1,570.7C1641.5,569.7 1642.0,571.1 1642.4,572.4C1642.9,573.6 1643.3,575.3 1643.8,578.2C1644.2,581.2 1644.7,586.3 1645.1,590.0C1645.6,593.6 1646.0,598.0 1646.5,600.0C1646.9,602.0 1647.3,602.0 1647.8,601.7C1648.3,601.3 1649.0,598.0 1649.5,598.0C1650.0,598.0 1650.4,599.7 1650.8,601.7C1651.3,603.7 1651.6,608.7 1652.1,610.0C1652.6,611.4 1653.3,610.5 1653.8,610.0C1654.4,609.6 1654.9,607.0 1655.5,607.5C1656.1,608.1 1656.6,610.7 1657.2,613.4C1657.7,616.0 1658.3,620.5 1658.8,623.4C1659.4,626.4 1659.9,628.7 1660.5,631.0C1661.1,633.2 1661.9,635.7 1662.5,636.8C1663.1,638.0 1663.8,640.2 1664.2,637.7C1664.6,635.2 1664.9,628.9 1665.2,621.8C1665.5,614.7 1665.9,602.0 1666.2,595.0C1666.5,588.0 1666.9,582.6 1667.2,579.9C1667.5,577.2 1667.6,576.6 1667.9,578.6C1668.2,580.5 1668.6,586.1 1668.9,591.6C1669.2,597.2 1669.6,606.7 1669.9,611.7C1670.2,616.7 1670.5,619.0 1670.9,621.8C1671.3,624.6 1672.1,626.2 1672.6,628.5C1673.1,630.7 1673.5,631.8 1673.9,635.2C1674.4,638.5 1674.7,644.1 1675.3,648.6C1675.8,653.0 1676.4,657.8 1676.9,662.0C1677.5,666.1 1678.1,670.9 1678.6,673.7C1679.1,676.5 1679.5,681.2 1679.9,678.7C1680.3,676.2 1680.7,668.1 1680.9,658.6C1681.2,649.1 1681.4,631.3 1681.6,621.8C1681.8,612.3 1682.1,605.3 1682.3,601.7C1682.5,598.0 1682.7,597.5 1683.0,600.0C1683.2,602.5 1683.6,610.3 1684.0,616.7C1684.3,623.2 1684.6,635.4 1685.0,638.5C1685.3,641.6 1685.6,638.0 1686.0,635.2C1686.3,632.4 1686.6,625.4 1687.0,621.8C1687.3,618.1 1687.6,615.2 1688.0,613.4C1688.3,611.6 1688.6,610.4 1689.0,611.2C1689.4,612.1 1689.9,616.2 1690.3,618.4C1690.8,620.6 1691.3,625.4 1691.7,624.3C1692.1,623.2 1692.3,615.5 1692.7,611.7C1693.0,608.0 1693.3,603.9 1693.7,601.7C1694.0,599.4 1694.3,598.0 1694.7,598.3C1695.1,598.6 1695.6,601.4 1696.0,603.4C1696.5,605.3 1696.9,608.2 1697.4,610.0C1697.9,611.9 1698.5,612.6 1699.0,614.2C1699.6,615.9 1700.2,617.7 1700.7,620.1C1701.2,622.5 1701.5,626.0 1702.0,628.5C1702.5,631.0 1703.2,636.8 1703.7,635.2C1704.2,633.5 1704.6,622.9 1705.0,618.4C1705.4,614.0 1705.9,609.2 1706.3,608.4C1706.8,607.5 1707.2,611.5 1707.7,613.4C1708.1,615.3 1708.3,618.7 1709.0,619.8C1709.7,620.8 1711.0,621.7 1711.7,619.8C1712.4,617.9 1712.8,611.9 1713.4,608.4C1714.0,604.8 1714.8,600.6 1715.4,598.3C1716.0,596.0 1716.6,595.2 1717.1,594.5C1717.6,593.8 1718.0,592.7 1718.4,594.1C1718.8,595.6 1719.0,598.2 1719.4,603.4C1719.8,608.5 1720.3,619.3 1720.7,625.1C1721.2,631.0 1721.6,635.3 1722.1,638.5C1722.6,641.7 1723.3,645.5 1723.8,644.4C1724.3,643.3 1724.6,637.0 1725.1,631.8C1725.5,626.7 1726.0,616.8 1726.4,613.4C1726.8,610.0 1727.0,610.7 1727.4,611.2C1727.8,611.8 1728.3,614.8 1728.8,616.7C1729.2,618.6 1729.7,623.2 1730.1,622.6C1730.6,622.1 1731.0,615.5 1731.5,613.4C1731.9,611.3 1732.2,610.7 1732.8,610.0C1733.4,609.4 1734.2,609.6 1734.8,609.7C1735.4,609.9 1736.0,608.3 1736.5,610.9C1736.9,613.5 1737.2,619.4 1737.5,625.1C1737.8,630.8 1738.1,640.3 1738.5,645.2C1738.9,650.1 1739.4,655.5 1739.8,654.4C1740.3,653.3 1740.8,642.3 1741.2,638.5C1741.6,634.7 1741.8,632.5 1742.2,631.8C1742.6,631.1 1743.1,633.4 1743.5,634.3C1744.0,635.3 1744.4,638.1 1744.9,637.7C1745.4,637.3 1746.0,635.6 1746.5,631.8C1747.0,628.1 1747.4,620.7 1747.9,615.1C1748.3,609.5 1748.8,602.4 1749.2,598.3C1749.7,594.3 1750.1,591.9 1750.5,590.8C1751.0,589.7 1751.4,590.1 1751.9,591.6C1752.3,593.2 1752.7,596.1 1753.2,600.0C1753.7,603.9 1754.3,610.6 1754.9,615.1C1755.5,619.5 1756.0,624.0 1756.6,626.8C1757.2,629.6 1758.0,629.9 1758.6,631.8C1759.2,633.8 1759.7,635.4 1760.3,638.5C1760.8,641.6 1761.4,646.9 1761.9,650.2C1762.5,653.6 1763.0,656.5 1763.6,658.6C1764.2,660.7 1765.1,663.4 1765.6,662.8C1766.2,662.2 1766.5,657.9 1767.0,655.3C1767.5,652.6 1768.1,648.2 1768.6,646.9C1769.2,645.5 1769.8,647.1 1770.3,647.2C1770.8,647.4 1771.3,649.7 1771.6,647.7C1772.0,645.7 1772.3,639.5 1772.6,635.2C1773.0,630.8 1773.3,624.3 1773.7,621.8C1774.0,619.2 1774.3,619.5 1774.7,619.8C1775.0,620.0 1775.6,621.9 1776.0,623.4C1776.4,625.0 1776.9,629.0 1777.3,629.3C1777.8,629.6 1778.2,626.9 1778.7,625.1C1779.1,623.3 1779.6,619.8 1780.0,618.4C1780.4,617.0 1780.6,616.2 1781.0,616.7C1781.4,617.3 1781.9,619.5 1782.4,621.8C1782.9,624.0 1783.5,627.6 1784.0,630.1C1784.6,632.7 1785.3,635.2 1785.7,636.8C1786.2,638.5 1786.3,641.3 1786.7,639.9C1787.1,638.5 1787.6,631.9 1788.1,628.5C1788.5,625.0 1788.9,620.9 1789.4,619.3C1789.8,617.6 1790.2,618.3 1790.7,618.4C1791.2,618.5 1791.9,618.6 1792.4,619.8C1792.9,620.9 1793.3,623.1 1793.7,625.1C1794.2,627.1 1794.7,630.4 1795.1,631.8C1795.5,633.2 1795.8,636.3 1796.1,633.5C1796.4,630.7 1796.5,621.5 1796.8,615.1C1797.0,608.7 1797.2,600.0 1797.4,595.0C1797.7,590.0 1798.1,586.5 1798.4,584.9C1798.8,583.4 1799.1,584.4 1799.4,585.8C1799.8,587.2 1800.1,590.4 1800.4,593.3C1800.8,596.2 1801.1,601.3 1801.5,603.4C1801.8,605.4 1802.3,605.9 1802.8,605.9C1803.3,605.9 1803.9,603.6 1804.5,603.4C1805.0,603.1 1805.6,603.6 1806.1,604.2C1806.7,604.7 1807.3,605.7 1807.8,606.7C1808.4,607.7 1808.9,609.2 1809.5,610.0C1810.0,610.9 1810.5,611.4 1811.2,611.7C1811.8,612.0 1812.8,611.2 1813.5,611.7C1814.2,612.3 1814.6,612.6 1815.2,615.1C1815.7,617.6 1816.4,621.8 1816.9,626.8C1817.4,631.8 1817.7,639.8 1818.2,645.2C1818.6,650.7 1819.1,658.9 1819.5,659.4C1819.9,660.0 1820.2,654.8 1820.5,648.6C1820.9,642.3 1821.2,627.5 1821.5,621.8C1821.9,616.0 1822.2,615.5 1822.5,614.2C1822.9,613.0 1823.2,613.5 1823.6,614.2C1823.9,614.9 1824.4,616.6 1824.9,618.4C1825.4,620.2 1826.0,622.9 1826.6,625.1C1827.1,627.4 1827.7,630.3 1828.2,631.8C1828.8,633.4 1829.4,633.8 1829.9,634.3C1830.5,634.9 1831.1,633.4 1831.6,635.2C1832.0,637.0 1832.2,641.0 1832.6,645.2C1833.0,649.4 1833.5,657.1 1833.9,660.3C1834.3,663.5 1834.5,665.0 1834.9,664.5C1835.3,663.9 1835.8,660.7 1836.3,656.9C1836.7,653.2 1837.2,647.7 1837.6,641.9C1838.0,636.0 1838.3,627.4 1838.6,621.8C1839.0,616.2 1839.4,611.3 1839.6,608.4C1839.9,605.4 1839.6,605.1 1840.0,604.0C1840.4,602.9 1841.2,604.0 1841.8,601.7C1842.4,599.5 1842.9,594.7 1843.6,590.6C1844.2,586.5 1845.1,580.7 1845.8,577.2C1846.5,573.6 1847.2,571.2 1848.0,569.4C1848.9,567.5 1850.0,567.7 1850.7,566.0C1851.5,564.3 1851.9,562.7 1852.5,559.3C1853.1,556.0 1853.7,551.5 1854.3,545.9C1854.9,540.3 1855.5,532.1 1856.1,525.8C1856.7,519.6 1857.3,510.3 1857.9,508.4C1858.4,506.5 1858.8,509.9 1859.2,514.7C1859.6,519.4 1860.1,535.1 1860.5,537.0C1861.0,538.8 1861.4,531.0 1861.9,525.8C1862.3,520.6 1862.8,509.5 1863.2,505.7C1863.7,501.9 1864.0,502.7 1864.6,503.0C1865.1,503.4 1865.7,504.5 1866.3,508.0C1866.9,511.4 1867.5,518.6 1868.1,523.6C1868.7,528.6 1869.4,537.7 1869.9,538.1C1870.4,538.5 1870.8,533.4 1871.3,525.8C1871.7,518.2 1872.2,501.5 1872.6,492.3C1873.0,483.2 1873.3,484.2 1873.6,470.8C1873.9,457.5 1874.0,428.5 1874.2,412.2C1874.4,395.9 1874.5,387.8 1874.8,373.1C1875.0,358.5 1875.3,334.5 1875.6,324.3C1875.8,314.1 1875.9,312.2 1876.1,312.2C1876.3,312.2 1876.5,314.1 1876.7,324.3C1877.0,334.5 1877.2,358.5 1877.5,373.1C1877.8,387.8 1878.0,397.6 1878.3,412.2C1878.6,426.9 1879.0,447.0 1879.5,461.0C1879.9,475.1 1880.5,487.1 1881.1,496.8C1881.6,506.5 1882.3,513.9 1882.9,519.1C1883.5,524.3 1884.1,528.0 1884.7,528.0C1885.2,528.0 1885.9,522.2 1886.4,519.1C1887.0,516.1 1887.3,510.5 1887.8,509.7C1888.2,509.0 1888.6,510.9 1889.1,514.7C1889.6,518.4 1890.3,526.6 1890.9,532.5C1891.5,538.5 1892.2,546.5 1892.7,550.4C1893.2,554.3 1893.5,557.4 1894.0,556.0C1894.6,554.5 1895.2,546.8 1895.8,541.4C1896.4,536.0 1897.1,528.2 1897.6,523.6C1898.1,518.9 1898.5,515.2 1898.9,513.5C1899.4,511.9 1899.8,511.9 1900.3,513.5C1900.7,515.2 1901.2,523.4 1901.6,523.6C1902.1,523.8 1902.5,519.9 1903.0,514.7C1903.4,509.4 1903.9,499.6 1904.3,492.3C1904.7,485.0 1905.2,476.0 1905.6,470.8C1906.1,465.6 1906.4,463.3 1906.8,461.0C1907.3,458.8 1907.9,456.8 1908.4,457.1C1908.9,457.5 1909.5,460.1 1909.9,463.0C1910.4,465.9 1910.8,469.8 1911.1,474.7C1911.4,479.6 1911.5,484.2 1911.9,492.3C1912.2,500.5 1912.8,516.1 1913.2,523.6C1913.7,531.0 1914.1,538.5 1914.6,537.0C1915.0,535.5 1915.5,522.8 1915.9,514.7C1916.4,506.5 1916.6,495.8 1917.2,487.9C1917.9,479.9 1919.1,474.3 1919.7,466.9C1920.3,459.5 1920.5,452.6 1920.9,443.5C1921.3,434.4 1921.7,421.7 1922.0,412.2C1922.4,402.8 1922.9,391.6 1923.2,386.8C1923.5,382.0 1923.5,383.6 1924.0,383.3C1924.5,383.0 1925.4,383.7 1926.0,385.3C1926.5,386.8 1926.8,386.9 1927.1,392.7C1927.5,398.5 1927.6,410.3 1927.9,420.0C1928.2,429.8 1928.4,441.5 1928.7,451.3C1928.9,461.0 1929.2,472.9 1929.5,478.6C1929.7,484.4 1929.7,483.7 1930.2,485.6C1930.7,487.5 1931.8,485.3 1932.4,490.1C1933.0,494.9 1933.2,506.8 1933.8,514.7C1934.3,522.5 1935.0,530.7 1935.6,537.0C1936.2,543.3 1936.7,548.7 1937.3,552.6C1937.9,556.5 1938.5,559.7 1939.1,560.4C1939.7,561.2 1940.4,560.2 1940.9,557.1C1941.4,553.9 1941.8,546.7 1942.3,541.4C1942.7,536.2 1943.1,529.0 1943.6,525.8C1944.0,522.7 1944.4,522.8 1944.9,522.5C1945.5,522.1 1946.2,524.9 1946.7,523.6C1947.2,522.3 1947.6,517.8 1948.1,514.7C1948.5,511.5 1949.0,506.5 1949.4,504.6C1949.8,502.7 1950.3,502.1 1950.7,503.0C1951.2,504.0 1951.6,508.3 1952.1,510.2C1952.5,512.1 1953.0,516.1 1953.4,514.7C1953.9,513.2 1954.3,505.4 1954.8,501.3C1955.2,497.2 1955.7,492.1 1956.1,490.1C1956.5,488.0 1956.6,487.1 1957.0,489.0C1957.4,490.8 1957.9,494.0 1958.3,501.3C1958.8,508.5 1959.2,523.6 1959.7,532.5C1960.1,541.4 1960.5,548.7 1961.0,554.8C1961.5,561.0 1962.2,567.1 1962.8,569.4C1963.4,571.6 1964.1,571.4 1964.6,568.2C1965.1,565.1 1965.5,557.8 1965.9,550.4C1966.4,542.9 1966.8,530.0 1967.3,523.6C1967.7,517.2 1968.2,512.0 1968.6,512.0C1969.0,512.0 1969.5,517.2 1969.9,523.6C1970.4,530.0 1970.8,548.1 1971.3,550.4C1971.7,552.6 1972.2,545.9 1972.6,537.0C1973.0,528.0 1973.2,505.4 1973.5,496.8C1973.8,488.2 1974.1,484.1 1974.4,485.6C1974.7,487.1 1975.0,493.4 1975.3,505.7C1975.6,518.0 1975.9,542.2 1976.2,559.3C1976.5,576.4 1976.8,595.4 1977.1,608.4C1977.4,621.4 1977.7,638.2 1978.0,637.4C1978.3,636.7 1978.6,615.5 1978.9,604.0C1979.2,592.4 1979.5,574.7 1979.8,568.2C1980.1,561.7 1980.4,563.8 1980.7,564.9C1981.0,566.0 1981.3,569.9 1981.5,574.9C1981.8,580.0 1982.2,588.7 1982.4,595.0C1982.7,601.4 1983.0,609.9 1983.1,612.9L1983.1,706.0L160.5,706.0Z" fill="rgba(79,155,113,0.5)" stroke="none"/>
<path d="M160.5,705.6C161.9,705.6 167.2,706.0 169.1,705.6C170.9,705.3 170.5,704.7 171.4,703.6C172.3,702.5 173.6,699.7 174.5,698.9C175.4,698.1 175.8,698.4 176.9,698.6C177.9,698.8 179.6,699.6 180.8,700.0C182.0,700.4 183.0,701.3 183.9,701.2C184.8,701.2 185.6,701.5 186.2,699.7C186.9,697.9 187.3,694.5 187.8,690.3C188.3,686.1 188.6,678.1 189.4,674.7C190.1,671.2 191.4,670.2 192.2,669.7C193.0,669.2 193.4,670.5 194.1,671.6C194.7,672.6 195.2,674.7 195.9,675.9C196.7,677.2 197.6,678.5 198.4,679.1C199.3,679.6 200.4,678.8 201.1,679.4C201.8,679.9 202.1,680.4 202.7,682.5C203.3,684.6 204.0,691.1 204.7,692.2C205.3,693.2 205.9,693.0 206.6,688.8C207.3,684.5 208.2,672.0 208.9,666.9C209.6,661.8 210.2,658.3 210.8,658.3C211.3,658.3 211.7,662.6 212.2,666.9C212.7,671.2 213.0,680.3 213.6,684.1C214.2,687.8 215.0,688.0 215.9,689.5C216.8,691.1 218.3,693.6 219.1,693.4C219.8,693.3 220.1,690.4 220.6,688.8C221.2,687.1 221.9,683.8 222.5,683.8C223.1,683.8 223.5,687.2 224.1,688.8C224.6,690.3 224.6,692.6 225.6,693.1C226.6,693.7 228.8,692.7 230.0,692.2C231.2,691.7 232.1,690.9 233.1,690.0C234.2,689.1 235.1,687.6 236.2,686.9C237.4,686.1 239.2,685.6 240.2,685.6C241.1,685.7 241.4,686.2 241.9,687.2C242.4,688.2 242.7,691.7 243.3,691.6C243.9,691.4 244.7,687.3 245.3,686.4C246.0,685.5 246.5,685.9 247.2,686.4C247.9,686.9 248.7,688.7 249.5,689.5C250.4,690.4 251.5,692.2 252.2,691.6C252.9,690.9 253.3,688.7 253.8,685.6C254.2,682.6 254.4,675.8 255.0,673.1C255.6,670.5 256.6,670.2 257.3,669.7C258.1,669.2 258.7,669.9 259.4,670.3C260.0,670.7 260.4,671.7 261.2,672.0C262.1,672.4 263.7,670.9 264.4,672.3C265.1,673.8 265.1,677.6 265.5,680.9C265.9,684.2 266.2,690.9 266.7,692.2C267.2,693.5 267.8,692.2 268.3,688.8C268.8,685.3 269.1,675.4 269.5,671.6C269.9,667.7 270.3,665.4 270.6,665.6C271.0,665.9 271.2,670.3 271.7,673.1C272.2,675.9 272.9,682.5 273.4,682.5C274.0,682.5 274.4,675.8 274.8,673.1C275.3,670.4 275.8,666.4 276.2,666.4C276.7,666.4 277.0,670.4 277.5,673.1C278.0,675.8 278.5,681.8 279.2,682.5C279.9,683.2 281.0,677.8 281.9,677.0C282.8,676.2 283.8,678.3 284.7,677.8C285.5,677.3 286.4,674.8 287.0,673.9C287.6,673.0 287.9,671.6 288.3,672.3C288.7,673.1 288.9,675.9 289.4,678.6C289.8,681.3 290.4,688.2 290.9,688.8C291.5,689.3 292.0,684.0 292.5,681.7C293.0,679.5 293.4,676.1 294.1,675.2C294.7,674.2 295.6,676.3 296.4,675.9C297.2,675.6 297.7,674.0 298.8,673.1C299.8,672.3 301.6,670.0 302.7,670.8C303.7,671.6 304.0,676.0 305.0,677.8C306.0,679.6 307.3,680.6 308.9,681.7C310.5,682.8 312.9,685.1 314.4,684.5C315.8,684.0 316.5,679.9 317.5,678.6C318.5,677.3 319.6,676.4 320.6,676.6C321.7,676.7 322.7,677.6 323.8,679.4C324.8,681.1 325.8,685.5 326.9,687.2C327.9,688.9 329.0,689.3 330.0,689.5C331.0,689.8 332.2,690.4 333.1,688.8C334.0,687.1 334.7,683.5 335.5,679.4C336.2,675.2 336.9,667.4 337.5,663.8C338.1,660.1 338.5,657.2 339.1,657.2C339.6,657.2 340.2,659.8 340.9,663.8C341.6,667.7 342.5,677.3 343.3,680.9C344.1,684.5 344.7,684.4 345.6,685.3C346.5,686.2 347.8,685.6 348.8,686.4C349.7,687.2 350.3,689.0 351.1,690.0C351.9,691.0 352.7,692.7 353.4,692.2C354.2,691.7 354.7,688.2 355.8,687.2C356.8,686.1 358.6,687.0 359.7,685.9C360.7,684.9 361.3,683.6 362.0,680.9C362.8,678.3 363.5,672.7 364.1,670.0C364.6,667.3 365.0,664.3 365.5,665.0C366.0,665.7 366.6,670.7 367.0,673.9C367.5,677.1 367.6,683.9 368.3,684.1C369.0,684.2 370.4,677.2 371.4,674.7C372.4,672.1 373.4,669.0 374.2,668.8C375.0,668.5 375.4,671.9 376.1,673.1C376.7,674.4 377.4,676.0 378.1,676.2C378.8,676.5 379.5,673.5 380.3,674.7C381.1,675.9 382.2,682.1 383.1,683.3C384.1,684.5 385.0,681.5 385.9,681.7C386.8,681.9 387.6,683.9 388.6,684.4C389.6,684.9 390.5,685.2 391.7,684.8C392.9,684.5 394.6,681.7 395.6,682.5C396.7,683.3 397.3,690.1 398.0,689.5C398.6,689.0 399.0,681.9 399.5,679.4C400.1,676.8 400.4,675.3 401.1,674.4C401.7,673.5 402.5,673.9 403.4,673.9C404.3,674.0 405.7,676.6 406.6,674.7C407.4,672.7 407.8,665.8 408.4,662.2C409.1,658.5 409.8,652.3 410.3,652.8C410.9,653.3 411.2,661.4 411.7,665.3C412.2,669.2 412.6,677.3 413.1,676.2C413.6,675.2 414.2,663.2 414.8,659.1C415.4,654.9 416.1,651.8 416.7,651.6C417.4,651.3 418.1,654.2 418.8,657.5C419.4,660.8 420.0,666.9 420.6,671.6C421.2,676.2 421.8,684.8 422.5,685.6C423.2,686.4 424.1,676.5 425.0,676.2C425.9,676.0 426.7,683.5 427.7,684.1C428.6,684.6 429.9,677.9 430.8,679.7C431.7,681.5 432.5,691.9 433.1,695.0C433.8,698.1 434.0,697.2 434.7,698.1C435.3,699.0 436.2,701.0 437.0,700.5C437.8,699.9 438.6,697.7 439.4,695.0C440.2,692.3 440.9,687.3 441.7,684.1C442.5,680.8 443.3,677.8 444.1,675.5C444.8,673.1 445.6,673.2 446.4,670.0C447.2,666.8 448.0,657.2 448.8,656.4C449.5,655.6 450.0,663.0 450.8,665.3C451.6,667.6 452.6,669.5 453.4,670.0C454.3,670.5 455.0,669.2 455.8,668.4C456.6,667.7 457.3,665.3 458.1,665.3C458.9,665.3 459.8,670.8 460.5,668.4C461.1,666.1 461.5,655.8 462.0,651.2C462.6,646.7 463.1,643.0 463.6,641.1C464.1,639.1 464.3,640.3 465.0,639.5C465.7,638.8 467.2,637.7 468.0,636.6C468.8,635.4 469.3,638.9 469.8,632.8C470.3,626.8 470.6,611.0 471.0,600.1C471.3,589.2 471.7,574.0 472.0,567.3C472.3,560.7 472.6,559.9 472.9,559.9C473.2,559.9 473.5,560.7 473.9,567.3C474.4,574.0 474.9,590.2 475.4,600.1C476.0,610.0 476.7,620.2 477.2,626.9C477.8,633.6 478.0,638.0 478.7,640.3C479.4,642.5 480.7,641.3 481.4,640.3C482.1,639.3 482.4,636.0 482.9,634.3C483.4,632.7 483.9,630.1 484.3,630.3C484.8,630.6 485.3,633.5 485.8,635.8C486.3,638.1 486.8,642.8 487.3,644.0C487.9,645.2 488.5,644.9 489.1,643.3C489.7,641.6 490.4,637.0 491.0,634.3C491.7,631.7 492.6,627.8 493.3,627.3C494.0,626.8 494.5,629.4 495.2,631.3C496.0,633.3 497.0,636.7 497.7,638.8C498.5,640.9 499.1,645.2 499.7,644.0C500.3,642.8 500.8,635.4 501.5,631.3C502.1,627.3 502.8,622.3 503.4,619.4C504.0,616.6 504.7,614.0 505.3,614.2C505.9,614.5 506.5,618.4 507.0,620.9C507.5,623.4 507.7,627.9 508.5,629.1C509.2,630.4 510.7,627.0 511.4,628.4C512.2,629.7 512.4,633.8 512.9,637.3C513.4,640.8 514.0,648.2 514.6,649.2C515.1,650.2 515.9,645.2 516.3,643.3C516.8,641.3 516.9,638.4 517.4,637.7C517.9,637.1 518.7,639.6 519.3,639.5C520.0,639.5 520.6,638.2 521.3,637.3C521.9,636.4 522.7,633.9 523.3,633.9C524.0,633.9 524.7,636.5 525.3,637.3C525.8,638.1 526.1,639.3 526.8,638.8C527.4,638.3 528.4,637.6 529.0,634.3C529.6,631.1 529.8,625.4 530.2,619.4C530.6,613.5 531.0,603.1 531.4,598.6C531.8,594.1 532.0,591.5 532.4,592.2C532.8,592.9 533.3,598.3 533.8,603.1C534.3,607.9 534.7,616.1 535.4,620.9C536.1,625.8 537.3,631.6 537.9,632.1C538.6,632.6 538.7,627.5 539.1,623.9C539.5,620.3 539.9,613.3 540.3,610.5C540.7,607.7 541.1,606.6 541.5,607.1C541.9,607.6 542.2,611.2 542.7,613.5C543.1,615.8 543.7,621.9 544.2,620.9C544.6,619.9 545.0,611.8 545.4,607.5C545.8,603.3 546.2,598.0 546.6,595.6C546.9,593.2 547.3,592.4 547.6,593.1C548.0,593.8 548.2,597.2 548.6,600.1C549.1,603.0 549.5,608.4 550.1,610.5C550.8,612.6 551.9,613.2 552.5,612.7C553.2,612.2 553.6,610.6 554.0,607.5C554.5,604.4 554.8,597.0 555.2,594.1C555.6,591.2 556.1,590.1 556.5,590.1C557.0,590.1 557.6,592.7 558.0,594.1C558.5,595.6 558.7,599.1 559.2,598.6C559.7,598.1 560.5,592.9 561.0,591.2C561.5,589.4 562.0,587.8 562.5,587.9C563.0,588.0 563.4,590.6 564.0,591.9C564.5,593.2 565.2,595.1 565.9,595.9C566.7,596.7 567.6,596.2 568.4,596.8C569.3,597.4 570.3,599.5 571.0,599.3C571.6,599.2 572.0,596.5 572.5,595.6C573.0,594.7 573.5,592.8 573.9,593.8C574.4,594.8 574.7,598.1 575.1,601.6C575.5,605.1 575.9,611.3 576.3,615.0C576.7,618.7 577.1,624.2 577.5,623.9C577.9,623.7 578.3,616.3 578.7,613.5C579.1,610.6 579.2,608.0 579.9,606.8C580.6,605.6 582.1,607.3 582.9,606.0C583.6,604.8 583.9,601.0 584.4,599.3C584.9,597.7 585.4,594.6 585.9,595.9C586.3,597.3 586.7,601.6 587.0,607.5C587.4,613.4 587.6,624.4 587.9,631.3C588.2,638.3 588.5,644.7 588.8,649.2C589.2,653.7 589.6,656.2 590.0,658.1C590.5,660.1 591.1,661.6 591.5,661.1C592.0,660.6 592.4,661.6 592.7,655.2C593.0,648.7 593.3,631.3 593.6,622.4C593.9,613.5 594.2,605.3 594.5,601.6C594.8,597.9 594.9,598.1 595.2,600.1C595.5,602.1 596.0,607.3 596.3,613.5C596.6,619.7 596.8,632.1 597.2,637.3C597.5,642.5 597.8,645.7 598.2,644.7C598.6,643.8 599.0,634.9 599.4,631.3C599.8,627.8 600.2,624.4 600.7,623.2C601.3,622.0 602.1,624.3 602.7,624.2C603.2,624.1 603.7,624.0 604.2,622.4C604.7,620.9 605.2,616.8 605.7,615.0C606.1,613.2 606.4,612.4 607.1,611.7C607.9,611.0 609.2,611.2 610.1,610.5C611.0,609.8 611.7,609.0 612.3,607.5C613.0,606.0 613.6,603.2 614.1,601.6C614.7,600.0 615.2,598.0 615.8,597.9C616.3,597.7 617.1,600.0 617.6,600.8C618.1,601.7 618.3,604.7 618.7,603.1C619.2,601.5 619.5,594.5 620.0,591.2C620.5,587.9 621.2,583.0 621.8,583.3C622.3,583.5 622.8,589.7 623.3,592.7C623.8,595.6 624.2,598.9 624.8,600.8C625.3,602.8 625.8,603.9 626.7,604.6C627.6,605.2 629.3,605.6 630.1,604.9C631.0,604.1 631.4,601.4 631.9,600.1C632.5,598.8 632.9,596.6 633.4,596.8C633.9,597.1 634.4,599.9 634.9,601.6C635.4,603.2 635.8,607.5 636.4,606.8C636.9,606.0 637.5,599.4 638.2,597.1C638.8,594.8 639.4,593.5 640.1,593.1C640.7,592.7 641.5,593.8 642.0,594.9C642.6,595.9 643.0,597.0 643.5,599.3C644.0,601.7 644.6,606.8 645.0,609.0C645.5,611.3 645.8,615.5 646.2,612.7C646.6,610.0 647.0,598.3 647.4,592.7C647.8,587.0 648.2,578.8 648.6,578.8C649.0,578.8 649.4,587.1 649.8,592.7C650.2,598.2 650.5,607.8 651.0,612.0C651.4,616.2 651.9,620.9 652.3,617.7C652.7,614.4 653.0,601.2 653.3,592.7C653.7,584.1 654.1,566.2 654.5,566.2C654.9,566.2 655.3,584.0 655.7,592.7C656.1,601.3 656.6,612.8 656.9,618.0C657.3,623.1 657.4,624.6 657.8,623.6C658.2,622.6 658.9,615.1 659.4,612.0C660.0,608.9 660.3,606.7 660.9,605.3C661.6,603.9 662.5,605.2 663.2,603.4C663.8,601.5 664.2,597.2 664.7,594.1C665.1,591.1 665.7,584.9 666.1,584.9C666.6,584.9 666.9,589.4 667.3,594.1C667.7,598.9 668.1,608.8 668.5,613.5C668.9,618.2 669.3,623.4 669.7,622.4C670.1,621.4 670.5,611.5 670.9,607.5C671.3,603.6 671.8,599.9 672.4,598.6C673.0,597.3 673.7,598.7 674.3,599.8C674.9,600.9 675.4,602.5 676.0,605.3C676.5,608.1 677.0,613.1 677.5,616.5C677.9,619.8 678.4,623.2 678.9,625.4C679.5,627.6 680.2,630.1 680.7,629.6C681.3,629.1 681.8,626.1 682.2,622.4C682.7,618.7 683.1,610.6 683.4,607.5C683.8,604.5 684.0,603.4 684.3,604.1C684.6,604.9 685.0,608.6 685.5,612.0C685.9,615.4 686.4,623.0 687.0,624.7C687.5,626.3 688.1,622.4 688.8,621.7C689.4,620.9 690.0,620.6 690.7,620.2C691.4,619.8 692.4,621.1 692.9,619.4C693.5,617.8 693.7,614.2 694.1,610.5C694.5,606.8 694.9,600.3 695.3,597.1C695.7,594.0 696.0,591.4 696.4,591.6C696.8,591.9 697.2,595.5 697.7,598.6C698.2,601.8 698.7,606.8 699.2,610.5C699.7,614.2 700.2,618.4 700.7,620.9C701.2,623.4 701.7,627.1 702.2,625.4C702.7,623.7 703.2,614.0 703.6,610.5C704.1,607.0 704.6,605.0 705.1,604.3C705.7,603.5 706.5,605.0 707.1,606.0C707.6,607.1 708.1,608.9 708.6,610.5C709.1,612.1 709.6,614.2 710.0,615.7C710.5,617.2 710.9,619.7 711.4,619.4C711.9,619.2 712.5,615.5 713.0,614.2C713.6,613.0 714.1,612.5 714.8,612.0C715.5,611.5 716.5,614.0 717.0,611.3C717.6,608.5 717.9,600.7 718.2,595.6C718.6,590.5 718.9,584.3 719.3,580.7C719.6,577.2 719.9,574.0 720.3,574.5C720.7,575.0 721.1,579.7 721.5,583.7C721.9,587.7 722.3,595.3 722.7,598.6C723.1,602.0 723.7,602.6 724.2,603.8C724.7,605.1 725.2,607.4 725.7,606.0C726.1,604.7 726.5,599.8 726.9,595.6C727.3,591.4 727.7,584.2 728.1,580.7C728.4,577.3 728.6,574.1 728.9,575.1C729.3,576.1 729.7,582.3 730.1,586.7C730.5,591.1 731.0,598.0 731.3,601.6C731.7,605.2 732.0,609.5 732.4,608.3C732.7,607.0 733.1,598.0 733.4,594.1C733.7,590.3 734.0,587.2 734.3,585.2C734.6,583.2 734.9,581.7 735.2,581.9C735.5,582.2 735.9,584.8 736.4,586.7C736.8,588.6 737.3,592.0 737.9,593.4C738.4,594.8 739.2,594.6 739.8,595.3C740.4,596.1 740.9,596.1 741.5,597.9C742.0,599.6 742.5,602.4 742.9,606.0C743.4,609.6 743.8,613.7 744.1,619.4C744.5,625.1 744.7,632.8 745.0,640.3C745.3,647.7 745.6,657.6 745.9,664.1C746.2,670.5 746.6,678.5 747.0,679.0C747.3,679.5 747.7,674.0 748.0,667.1C748.3,660.1 748.7,646.7 749.0,637.3C749.4,627.9 749.7,618.4 750.1,610.5C750.5,602.6 750.9,594.8 751.3,589.7C751.6,584.6 751.9,582.1 752.2,580.0C752.4,577.9 752.6,575.4 752.9,577.0C753.2,578.6 753.6,583.8 754.0,589.7C754.3,595.5 754.8,606.4 755.1,612.0C755.5,617.6 755.8,622.2 756.2,623.2C756.6,624.2 757.1,621.1 757.5,618.0C757.9,614.9 758.3,610.3 758.7,604.6C759.1,598.9 759.5,589.4 759.9,583.7C760.3,578.0 760.6,573.1 760.9,570.3C761.3,567.6 761.5,566.1 761.8,567.3C762.2,568.6 762.5,572.6 762.9,577.8C763.2,583.0 763.6,592.7 763.9,598.6C764.3,604.6 764.7,612.0 765.1,613.5C765.5,615.0 765.9,609.2 766.3,607.5C766.7,605.8 767.1,603.9 767.6,603.4C768.2,602.8 769.1,604.3 769.6,604.3C770.1,604.2 770.3,605.0 770.6,603.1C771.0,601.1 771.4,595.8 771.8,592.7C772.2,589.6 772.7,586.2 773.0,584.5C773.4,582.7 773.6,581.4 773.9,582.2C774.2,583.1 774.5,586.8 775.1,589.7C775.7,592.5 776.8,597.8 777.7,599.3C778.5,600.8 779.3,601.0 779.9,598.9C780.6,596.9 780.9,590.1 781.4,586.9C781.8,583.7 782.3,580.4 782.8,579.9C783.2,579.3 783.8,582.4 784.2,583.4C784.6,584.4 784.8,587.5 785.3,586.0C785.7,584.6 786.1,577.9 786.7,574.6C787.2,571.2 787.9,566.1 788.4,566.1C789.0,566.1 789.4,571.1 789.8,574.6C790.3,578.0 790.7,584.6 791.3,586.9C791.8,589.3 792.5,591.3 793.0,588.7C793.6,586.0 794.0,579.3 794.4,571.0C794.9,562.8 795.4,547.2 795.9,539.2C796.4,531.3 796.9,523.0 797.4,523.3C797.9,523.6 798.4,533.0 798.9,541.0C799.3,548.9 799.7,565.3 800.1,571.0C800.5,576.8 800.7,575.6 801.2,575.4C801.6,575.3 802.4,569.4 802.9,570.1C803.5,570.9 803.9,575.3 804.3,579.9C804.8,584.4 805.3,593.0 805.8,597.5C806.2,602.1 806.4,608.7 806.8,607.3C807.2,605.8 807.6,593.6 808.1,588.7C808.5,583.8 808.8,578.1 809.3,578.1C809.7,578.1 810.2,584.6 810.7,588.7C811.2,592.8 811.6,601.1 812.1,602.8C812.6,604.6 813.0,601.7 813.5,599.3C814.1,596.9 814.7,591.2 815.3,588.7C815.9,586.2 816.5,585.1 817.1,584.3C817.6,583.5 818.0,582.1 818.5,583.7C818.9,585.4 819.4,589.8 819.9,594.0C820.4,598.2 820.8,606.2 821.3,609.0C821.8,611.8 822.2,610.8 822.7,610.8C823.2,610.7 823.7,607.3 824.1,608.7C824.6,610.0 825.0,614.7 825.5,618.7C826.1,622.8 826.8,633.2 827.3,632.9C827.8,632.6 828.1,623.2 828.6,617.0C829.0,610.8 829.3,600.3 829.8,595.8C830.2,591.2 830.6,590.8 831.2,589.6C831.8,588.4 832.7,588.3 833.3,588.7C834.0,589.1 834.5,590.9 835.1,592.2C835.7,593.6 836.2,595.6 836.9,596.6C837.5,597.7 838.3,598.9 839.0,598.4C839.6,598.0 840.2,596.2 840.7,594.0C841.3,591.8 842.0,588.0 842.5,585.2C843.0,582.4 843.5,579.0 843.9,577.2C844.3,575.4 844.6,572.9 845.0,574.2C845.4,575.5 845.9,580.7 846.4,585.2C846.9,589.6 847.4,596.9 847.8,601.1C848.2,605.2 848.5,610.8 848.9,609.9C849.2,609.0 849.6,599.6 849.9,595.8C850.3,591.9 850.6,587.5 851.0,586.9C851.4,586.3 851.7,589.9 852.1,592.2C852.4,594.6 852.7,598.1 853.1,601.1C853.5,604.0 854.1,609.9 854.5,609.9C854.9,609.9 855.2,603.4 855.6,601.1C856.0,598.7 856.5,596.1 857.0,595.8C857.5,595.5 858.0,598.1 858.4,599.3C858.9,600.5 859.4,604.6 859.8,602.8C860.3,601.1 860.8,593.0 861.2,588.7C861.7,584.4 862.0,579.6 862.3,577.2C862.7,574.9 863.0,573.5 863.4,574.6C863.8,575.6 864.3,580.6 864.8,583.4C865.3,586.2 865.6,590.1 866.2,591.3C866.8,592.6 867.6,591.7 868.3,590.8C869.0,589.9 869.8,587.9 870.4,586.0C871.1,584.2 871.6,581.7 872.2,579.9C872.8,578.0 873.4,575.9 874.0,574.9C874.5,574.0 874.9,573.4 875.4,574.2C875.9,575.0 876.3,577.7 876.8,579.9C877.3,582.0 877.9,584.6 878.6,586.9C879.2,589.3 880.0,590.8 880.7,594.0C881.3,597.2 881.8,602.5 882.5,606.4C883.1,610.2 883.9,613.9 884.6,617.0C885.3,620.1 886.1,624.3 886.7,624.9C887.3,625.5 887.9,623.9 888.5,620.5C889.0,617.1 889.4,610.2 889.9,604.6C890.4,599.0 890.9,591.8 891.3,586.9C891.7,582.1 892.0,577.7 892.4,575.4C892.7,573.2 892.9,573.7 893.4,573.3C893.9,573.0 894.9,572.8 895.5,573.3C896.1,573.8 896.5,573.2 897.0,576.3C897.4,579.5 897.8,585.5 898.2,592.2C898.6,599.0 898.9,608.1 899.2,617.0C899.6,625.8 899.8,635.8 900.1,645.3C900.5,654.7 900.8,666.8 901.2,673.5C901.5,680.3 901.8,685.9 902.3,685.9C902.7,685.9 903.2,680.3 903.7,673.5C904.1,666.8 904.7,654.7 905.1,645.3C905.5,635.8 905.8,624.0 906.1,617.0C906.5,609.9 906.7,605.7 907.0,602.8C907.3,599.9 907.5,598.5 907.9,599.7C908.3,600.8 908.8,605.8 909.3,609.9C909.9,614.0 910.5,620.1 911.1,624.0C911.7,628.0 912.3,632.0 912.9,633.8C913.4,635.5 913.8,636.3 914.3,634.6C914.7,633.0 915.2,628.8 915.7,624.0C916.2,619.3 916.9,611.7 917.5,606.4C918.0,601.1 918.6,596.2 919.2,592.2C919.8,588.3 920.5,584.7 921.0,582.5C921.5,580.3 922.0,577.9 922.4,579.0C922.8,580.0 923.0,582.4 923.5,588.7C923.9,595.0 924.5,609.9 924.9,617.0C925.3,624.0 925.5,629.6 925.9,631.1C926.3,632.6 926.9,628.5 927.4,625.8C927.8,623.2 928.3,618.4 928.8,615.2C929.2,612.0 929.5,609.0 930.0,606.8C930.5,604.6 931.0,602.0 931.5,602.0C932.0,602.0 932.5,605.0 933.0,606.8C933.5,608.6 933.9,611.7 934.5,612.7C935.0,613.8 935.8,613.1 936.3,613.0C936.7,613.0 937.0,610.7 937.4,612.3C937.8,613.9 938.2,618.7 938.6,622.4C939.0,626.1 939.4,631.5 939.8,634.3C940.2,637.1 940.7,639.1 941.2,639.1C941.6,639.1 942.1,637.1 942.5,634.3C942.9,631.5 943.3,628.4 943.7,622.4C944.1,616.5 944.5,604.7 944.9,598.6C945.3,592.5 945.7,588.2 946.1,586.0C946.4,583.7 946.6,583.6 947.0,585.2C947.3,586.8 947.8,591.9 948.2,595.6C948.6,599.4 948.9,606.3 949.3,607.8C949.8,609.3 950.3,605.6 950.8,604.6C951.3,603.5 951.8,601.8 952.3,601.6C952.8,601.3 953.3,602.1 953.8,603.1C954.4,604.1 955.0,607.3 955.6,607.5C956.2,607.8 957.0,606.5 957.5,604.6C958.1,602.6 958.6,598.6 959.0,595.6C959.5,592.7 960.0,588.6 960.4,586.7C960.7,584.8 960.9,583.7 961.3,584.2C961.6,584.7 962.0,586.5 962.4,589.7C962.9,592.8 963.4,599.1 963.9,603.1C964.5,607.0 965.2,610.3 965.7,613.5C966.3,616.7 966.7,618.9 967.2,622.4C967.7,625.9 968.2,630.9 968.7,634.3C969.2,637.8 969.7,643.8 970.2,643.3C970.6,642.8 971.0,637.3 971.4,631.3C971.7,625.4 972.0,612.9 972.3,607.5C972.6,602.1 972.8,599.6 973.2,598.9C973.6,598.2 974.1,600.9 974.7,603.1C975.2,605.3 975.8,608.5 976.4,612.0C977.1,615.5 977.7,619.9 978.4,623.9C979.0,627.9 979.7,632.6 980.3,635.8C980.9,639.0 981.3,643.0 981.8,643.3C982.2,643.5 982.6,640.5 983.0,637.3C983.3,634.1 983.5,627.0 983.9,623.9C984.2,620.8 984.6,619.5 985.1,618.7C985.6,617.9 986.3,618.5 986.9,618.8C987.4,619.2 987.8,619.8 988.3,620.9C988.8,622.0 989.3,623.8 989.8,625.4C990.3,627.0 990.9,631.1 991.3,630.6C991.8,630.1 992.1,626.8 992.5,622.4C993.0,618.1 993.5,611.0 994.0,604.6C994.5,598.1 995.0,588.9 995.5,583.7C995.9,578.5 996.4,575.2 996.7,573.3C997.0,571.4 997.1,571.1 997.4,572.6C997.7,574.0 998.1,578.4 998.5,582.2C998.8,586.1 999.2,593.0 999.7,595.6C1000.2,598.2 1000.9,597.4 1001.4,597.9C1002.0,598.4 1002.5,596.5 1002.9,598.6C1003.4,600.7 1003.7,606.0 1004.1,610.5C1004.5,615.0 1005.0,622.4 1005.3,625.4C1005.7,628.4 1005.9,628.9 1006.2,628.4C1006.5,627.9 1006.8,625.9 1007.1,622.4C1007.4,618.9 1007.6,611.0 1008.0,607.5C1008.3,604.1 1008.7,603.1 1009.2,601.6C1009.6,600.0 1010.2,598.9 1010.7,598.3C1011.1,597.7 1011.5,597.3 1011.9,597.9C1012.3,598.4 1012.6,599.8 1013.1,601.6C1013.5,603.3 1014.0,608.8 1014.5,608.3C1015.0,607.8 1015.6,601.8 1016.0,598.6C1016.5,595.4 1016.9,590.9 1017.2,588.9C1017.6,587.0 1017.8,585.9 1018.1,587.0C1018.5,588.1 1018.9,592.6 1019.3,595.6C1019.7,598.7 1020.2,603.2 1020.8,605.3C1021.4,607.4 1022.3,608.2 1022.9,608.3C1023.5,608.4 1023.9,607.4 1024.4,606.0C1024.9,604.7 1025.4,601.3 1025.9,600.1C1026.3,598.9 1026.6,598.5 1027.0,598.6C1027.4,598.7 1027.8,600.3 1028.2,600.8C1028.7,601.3 1029.3,603.2 1029.7,601.6C1030.2,600.0 1030.5,595.1 1030.9,591.2C1031.3,587.2 1031.7,580.5 1032.1,577.8C1032.5,575.0 1032.9,574.5 1033.3,574.5C1033.7,574.5 1034.0,575.7 1034.5,577.8C1034.9,579.8 1035.6,582.7 1036.0,586.7C1036.4,590.7 1036.5,595.6 1036.9,601.6C1037.2,607.5 1037.7,616.0 1038.1,622.4C1038.5,628.9 1038.8,636.1 1039.2,640.3C1039.6,644.5 1040.0,646.0 1040.4,647.7C1040.8,649.5 1041.2,652.4 1041.6,650.7C1042.0,649.0 1042.5,642.5 1042.8,637.3C1043.2,632.1 1043.4,623.7 1043.7,619.4C1044.0,615.2 1044.2,613.5 1044.6,612.0C1045.0,610.5 1045.6,610.7 1046.1,610.2C1046.6,609.7 1047.1,607.5 1047.6,609.0C1048.0,610.6 1048.4,615.2 1048.8,619.4C1049.2,623.7 1049.6,630.7 1050.0,634.3C1050.4,637.9 1050.7,639.5 1051.2,641.0C1051.6,642.5 1052.4,641.9 1052.9,643.3C1053.5,644.6 1053.9,646.0 1054.4,649.2C1054.9,652.4 1055.4,659.0 1055.9,662.6C1056.4,666.2 1056.9,670.3 1057.4,670.8C1057.9,671.3 1058.4,667.7 1058.9,665.6C1059.4,663.5 1059.9,662.4 1060.4,658.1C1060.9,653.9 1061.4,645.7 1061.9,640.3C1062.4,634.8 1062.9,629.9 1063.4,625.4C1063.9,620.9 1064.4,617.7 1064.8,613.5C1065.3,609.3 1065.8,603.7 1066.3,600.1C1066.8,596.5 1067.4,593.5 1067.8,591.9C1068.3,590.3 1068.6,589.9 1069.0,590.4C1069.4,590.9 1069.8,593.0 1070.2,594.9C1070.7,596.7 1071.1,599.7 1071.7,601.6C1072.2,603.4 1072.9,606.3 1073.5,606.0C1074.0,605.8 1074.5,602.8 1075.0,600.1C1075.5,597.4 1076.0,591.9 1076.5,589.7C1076.9,587.5 1077.2,586.5 1077.6,587.0C1078.0,587.5 1078.3,590.1 1078.8,592.7C1079.3,595.2 1080.1,602.8 1080.6,602.3C1081.1,601.8 1081.4,593.4 1081.8,589.7C1082.2,586.0 1082.7,581.9 1083.0,580.0C1083.3,578.1 1083.5,577.4 1083.7,578.5C1084.0,579.6 1084.4,582.6 1084.8,586.7C1085.2,590.8 1085.5,598.9 1086.0,603.1C1086.4,607.3 1086.9,609.7 1087.5,612.0C1088.0,614.3 1088.7,618.0 1089.2,616.8C1089.6,615.5 1090.0,611.1 1090.4,604.6C1090.7,598.1 1090.9,584.5 1091.3,577.8C1091.6,571.1 1092.0,564.9 1092.4,564.4C1092.8,563.9 1093.2,570.8 1093.6,574.8C1094.1,578.8 1094.6,588.2 1095.1,588.2C1095.6,588.2 1096.1,578.6 1096.6,574.8C1097.1,571.0 1097.6,567.3 1098.1,565.6C1098.6,563.8 1099.0,564.2 1099.6,564.1C1100.1,563.9 1100.9,562.4 1101.4,564.7C1101.9,567.0 1102.2,572.1 1102.6,577.8C1103.0,583.4 1103.4,593.5 1103.8,598.6C1104.2,603.7 1104.4,607.5 1104.9,608.3C1105.4,609.0 1106.1,605.7 1106.7,603.1C1107.3,600.5 1107.9,595.9 1108.5,592.7C1109.1,589.4 1109.7,586.1 1110.3,583.7C1110.9,581.4 1111.6,579.6 1112.1,578.5C1112.6,577.4 1112.9,575.9 1113.3,577.0C1113.7,578.1 1114.0,582.1 1114.5,585.2C1114.9,588.3 1115.5,594.9 1116.0,595.6C1116.5,596.4 1117.0,591.7 1117.4,589.7C1117.9,587.7 1118.3,584.8 1118.6,583.7C1119.0,582.6 1119.2,581.7 1119.5,583.0C1119.9,584.2 1120.3,589.1 1120.7,591.2C1121.2,593.3 1121.8,597.9 1122.2,595.6C1122.7,593.4 1123.0,582.6 1123.4,577.8C1123.8,572.9 1124.2,568.9 1124.6,566.6C1124.9,564.3 1125.1,563.5 1125.5,564.1C1125.8,564.7 1126.2,567.3 1126.7,570.3C1127.1,573.4 1127.7,578.5 1128.2,582.2C1128.7,586.0 1129.1,590.2 1129.7,592.7C1130.2,595.1 1130.9,597.5 1131.4,597.1C1131.9,596.7 1132.2,592.1 1132.6,590.4C1133.0,588.7 1133.4,586.6 1133.8,587.0C1134.2,587.4 1134.6,589.5 1135.0,592.7C1135.4,595.8 1135.8,601.8 1136.2,606.0C1136.6,610.3 1137.1,615.0 1137.7,618.0C1138.2,620.9 1139.0,624.7 1139.5,623.9C1140.0,623.2 1140.3,618.0 1140.7,613.5C1141.1,609.0 1141.5,601.0 1141.9,597.1C1142.3,593.3 1142.6,590.4 1143.0,590.4C1143.4,590.4 1143.8,594.3 1144.2,597.1C1144.7,600.0 1145.2,605.8 1145.7,607.5C1146.3,609.3 1146.9,607.8 1147.5,607.5C1148.1,607.3 1148.8,605.6 1149.3,606.0C1149.8,606.5 1150.0,608.4 1150.5,610.5C1151.0,612.6 1151.7,618.2 1152.3,618.7C1152.9,619.2 1153.4,615.5 1154.1,613.5C1154.7,611.5 1155.5,608.5 1156.1,606.8C1156.8,605.1 1157.4,603.2 1157.9,603.4C1158.5,603.5 1158.9,606.0 1159.4,607.5C1160.0,609.1 1160.5,611.8 1161.2,612.7C1161.9,613.7 1162.9,612.6 1163.6,613.2C1164.2,613.8 1164.5,614.9 1165.1,616.5C1165.6,618.0 1166.3,622.2 1166.9,622.4C1167.5,622.7 1168.0,619.9 1168.6,618.0C1169.3,616.0 1169.9,612.4 1170.6,610.5C1171.2,608.6 1172.0,606.8 1172.5,606.3C1173.0,605.8 1173.3,606.1 1173.7,607.5C1174.1,609.0 1174.5,612.7 1174.9,615.0C1175.3,617.2 1175.7,621.7 1176.1,620.9C1176.5,620.2 1176.9,615.0 1177.3,610.5C1177.7,606.0 1178.0,598.4 1178.5,594.1C1178.9,589.9 1179.5,587.1 1180.0,585.2C1180.5,583.3 1181.0,582.5 1181.4,582.5C1181.9,582.5 1182.4,583.6 1182.9,585.2C1183.4,586.8 1183.9,591.7 1184.4,591.9C1185.0,592.2 1185.6,589.1 1186.2,586.7C1186.8,584.3 1187.4,580.5 1188.0,577.8C1188.5,575.0 1189.0,572.0 1189.5,570.3C1189.9,568.7 1190.3,566.8 1190.7,567.8C1191.1,568.8 1191.4,572.1 1191.9,576.3C1192.3,580.4 1192.9,588.9 1193.4,592.7C1193.8,596.4 1194.3,597.9 1194.8,598.6C1195.4,599.3 1196.1,594.8 1196.6,596.8C1197.1,598.8 1197.5,604.3 1197.8,610.5C1198.2,616.8 1198.4,627.6 1198.7,634.3C1199.0,641.0 1199.3,649.2 1199.6,650.7C1199.9,652.2 1200.2,650.4 1200.5,643.3C1200.8,636.1 1201.1,617.0 1201.4,607.5C1201.7,598.1 1202.0,590.7 1202.3,586.7C1202.6,582.7 1202.7,582.2 1203.0,583.7C1203.3,585.2 1203.7,590.9 1204.1,595.6C1204.4,600.3 1204.9,608.0 1205.3,612.0C1205.7,616.0 1206.0,618.0 1206.5,619.4C1206.9,620.9 1207.7,618.9 1208.2,620.9C1208.7,622.9 1209.1,626.1 1209.4,631.3C1209.8,636.6 1210.0,645.5 1210.3,652.2C1210.7,658.9 1211.1,669.1 1211.5,671.5C1211.9,674.0 1212.3,669.3 1212.7,667.1C1213.1,664.8 1213.5,660.6 1213.9,658.1C1214.3,655.7 1214.6,653.9 1215.1,652.2C1215.6,650.4 1216.3,650.2 1216.9,647.7C1217.4,645.2 1217.9,640.8 1218.4,637.3C1218.8,633.8 1219.2,629.5 1219.5,626.9C1219.9,624.3 1220.3,621.4 1220.7,621.7C1221.1,621.9 1221.5,625.6 1221.9,628.4C1222.4,631.1 1222.9,637.2 1223.4,638.0C1224.0,638.9 1224.7,634.7 1225.2,633.6C1225.8,632.5 1226.2,631.2 1226.7,631.3C1227.2,631.5 1227.7,633.7 1228.2,634.3C1228.6,634.9 1229.0,637.1 1229.4,635.1C1229.8,633.1 1230.1,626.6 1230.6,622.4C1231.0,618.2 1231.5,612.0 1232.1,609.8C1232.6,607.6 1233.3,609.4 1233.8,609.3C1234.4,609.2 1234.9,611.1 1235.3,609.0C1235.8,607.0 1236.1,601.1 1236.5,597.1C1236.9,593.1 1237.4,587.7 1237.7,585.2C1238.1,582.7 1238.3,580.7 1238.6,581.9C1238.9,583.2 1239.4,589.4 1239.8,592.7C1240.2,595.9 1240.8,599.1 1241.2,601.6C1241.6,604.1 1241.8,607.1 1242.2,607.5C1242.7,608.0 1243.2,604.3 1243.7,604.3C1244.2,604.3 1244.6,605.0 1245.1,607.5C1245.5,610.1 1246.1,616.7 1246.5,619.4C1247.0,622.2 1247.3,623.3 1247.7,623.9C1248.2,624.5 1248.7,624.4 1249.2,623.2C1249.7,621.9 1250.3,620.8 1250.7,616.5C1251.2,612.1 1251.6,602.3 1251.9,597.1C1252.3,591.9 1252.5,587.6 1252.8,585.2C1253.1,582.8 1253.3,581.4 1253.7,582.7C1254.0,583.9 1254.5,588.9 1254.9,592.7C1255.3,596.4 1255.6,603.1 1256.1,605.3C1256.6,607.5 1257.3,606.0 1257.9,606.0C1258.4,606.0 1258.7,605.2 1259.3,605.3C1260.0,605.4 1261.0,606.7 1261.6,606.8C1262.1,606.9 1262.3,608.4 1262.6,606.0C1263.0,603.7 1263.4,596.2 1263.8,592.7C1264.2,589.1 1264.6,585.7 1265.0,584.5C1265.4,583.2 1265.7,584.0 1266.2,585.2C1266.6,586.4 1267.1,589.9 1267.7,591.9C1268.2,593.9 1268.8,595.9 1269.5,597.1C1270.1,598.4 1270.8,598.7 1271.6,599.3C1272.3,600.0 1273.6,599.0 1274.2,600.8C1274.9,602.7 1275.0,606.7 1275.4,610.5C1275.8,614.4 1276.2,621.7 1276.6,623.9C1277.1,626.1 1277.7,624.7 1278.1,623.9C1278.5,623.2 1278.7,620.4 1279.3,619.4C1279.8,618.4 1280.7,618.0 1281.4,618.0C1282.1,618.0 1282.8,618.4 1283.5,619.4C1284.1,620.4 1284.8,621.9 1285.4,623.9C1286.0,625.9 1286.7,629.1 1287.3,631.3C1288.0,633.6 1288.7,636.6 1289.4,637.3C1290.1,638.0 1290.7,636.4 1291.3,635.8C1292.0,635.3 1292.8,634.5 1293.6,634.0C1294.4,633.5 1295.5,633.0 1296.3,632.8C1297.1,632.6 1297.8,631.8 1298.3,632.8C1298.9,633.8 1299.1,636.6 1299.5,638.8C1299.9,641.0 1300.3,645.5 1300.7,646.2C1301.1,647.0 1301.5,646.7 1301.9,643.3C1302.3,639.8 1302.7,630.6 1303.1,625.4C1303.6,620.2 1304.1,615.3 1304.6,612.0C1305.1,608.7 1305.6,606.6 1306.1,605.3C1306.5,604.0 1306.9,602.9 1307.3,604.3C1307.7,605.6 1308.1,609.8 1308.5,613.5C1308.9,617.1 1309.2,625.1 1309.7,626.1C1310.1,627.1 1310.6,621.6 1311.1,619.4C1311.6,617.3 1312.1,614.5 1312.6,613.5C1313.1,612.5 1313.6,613.0 1314.1,613.5C1314.7,614.0 1315.4,614.5 1315.9,616.5C1316.4,618.4 1316.7,621.4 1317.1,625.4C1317.5,629.4 1317.8,636.9 1318.3,640.3C1318.7,643.6 1319.2,644.4 1319.8,645.5C1320.4,646.6 1321.1,646.5 1321.9,647.0C1322.6,647.5 1323.4,647.9 1324.1,648.5C1324.8,649.0 1325.4,649.9 1326.0,650.4C1326.6,650.9 1327.4,653.6 1327.8,651.4C1328.3,649.3 1328.4,642.6 1328.7,637.3C1329.1,632.0 1329.5,623.2 1329.9,619.4C1330.3,615.6 1330.7,614.3 1331.1,614.5C1331.5,614.8 1331.8,618.4 1332.3,620.9C1332.7,623.5 1333.3,627.1 1333.8,629.9C1334.3,632.6 1334.7,635.2 1335.3,637.3C1335.8,639.4 1336.5,643.0 1337.0,642.5C1337.6,642.0 1338.0,638.2 1338.5,634.3C1339.1,630.5 1339.8,623.4 1340.3,619.4C1340.9,615.5 1341.4,612.2 1341.8,610.5C1342.2,608.8 1342.4,607.5 1342.7,609.0C1343.0,610.5 1343.5,614.7 1343.9,619.4C1344.3,624.2 1344.7,632.7 1345.1,637.3C1345.5,641.9 1345.8,646.5 1346.3,647.0C1346.7,647.5 1347.3,643.9 1347.8,640.3C1348.3,636.7 1348.8,630.4 1349.2,625.4C1349.7,620.4 1350.0,613.9 1350.4,610.5C1350.8,607.1 1351.3,604.1 1351.6,604.9C1352.0,605.6 1352.2,608.3 1352.5,615.0C1352.8,621.6 1353.1,634.3 1353.4,644.7C1353.7,655.2 1354.1,670.8 1354.3,677.5C1354.6,684.2 1354.7,686.7 1354.9,684.9C1355.2,683.2 1355.5,675.0 1355.8,667.1C1356.1,659.1 1356.4,645.2 1356.7,637.3C1357.0,629.4 1357.2,623.2 1357.6,619.4C1358.0,615.7 1358.6,616.0 1359.1,615.0C1359.6,614.0 1360.1,613.2 1360.6,613.5C1361.0,613.7 1361.4,614.2 1361.7,616.5C1362.1,618.7 1362.5,622.4 1362.9,626.9C1363.3,631.3 1363.7,637.6 1364.1,643.3C1364.5,649.0 1364.9,656.2 1365.3,661.1C1365.7,666.1 1366.1,670.0 1366.5,673.0C1367.0,676.0 1367.5,678.1 1368.0,679.0C1368.5,679.8 1369.0,680.2 1369.5,678.2C1369.9,676.2 1370.3,670.7 1370.7,667.1C1371.1,663.5 1371.5,658.9 1371.9,656.7C1372.2,654.4 1372.5,653.8 1372.9,653.7C1373.4,653.6 1374.0,656.2 1374.5,655.9C1375.1,655.7 1375.5,653.6 1376.0,652.2C1376.6,650.8 1377.2,649.0 1377.8,647.7C1378.5,646.5 1379.3,646.0 1379.9,644.7C1380.6,643.5 1381.2,644.0 1381.7,640.3C1382.1,636.6 1382.3,628.4 1382.6,622.4C1382.9,616.5 1383.1,608.8 1383.5,604.6C1383.8,600.3 1384.3,597.1 1384.7,596.8C1385.1,596.6 1385.4,600.3 1385.9,603.1C1386.3,605.8 1386.8,610.5 1387.3,613.5C1387.9,616.5 1388.5,618.4 1389.1,620.9C1389.7,623.4 1390.4,625.9 1390.9,628.4C1391.5,630.9 1392.0,634.1 1392.4,635.8C1392.9,637.6 1393.2,641.0 1393.6,638.8C1394.0,636.6 1394.3,631.4 1394.8,622.4C1395.2,613.4 1395.9,592.6 1396.3,584.9C1396.8,577.3 1397.2,578.5 1397.7,576.6C1398.2,574.7 1398.7,572.2 1399.2,573.5C1399.6,574.9 1399.9,580.2 1400.4,584.9C1400.8,589.6 1401.3,597.4 1401.7,601.7C1402.1,606.0 1402.3,609.8 1402.7,610.9C1403.1,612.0 1403.9,608.7 1404.4,608.4C1404.9,608.0 1405.3,607.3 1405.7,608.7C1406.2,610.1 1406.6,614.2 1407.1,616.7C1407.5,619.3 1407.9,624.1 1408.4,623.8C1408.9,623.5 1409.5,617.4 1410.1,615.1C1410.6,612.8 1411.1,611.2 1411.7,610.0C1412.4,608.9 1413.1,607.8 1413.8,608.4C1414.4,608.9 1414.9,610.9 1415.4,613.4C1416.0,615.9 1416.6,622.9 1417.1,623.4C1417.6,624.0 1417.9,618.7 1418.4,616.7C1418.9,614.8 1419.6,611.7 1420.1,611.7C1420.6,611.7 1421.0,615.1 1421.5,616.7C1421.9,618.4 1422.3,622.9 1422.8,621.8C1423.3,620.7 1423.9,613.3 1424.5,610.0C1425.0,606.8 1425.6,602.7 1426.1,602.2C1426.7,601.6 1427.3,604.6 1427.8,606.7C1428.4,608.8 1428.9,612.1 1429.5,615.1C1430.1,618.0 1430.6,622.0 1431.2,624.3C1431.7,626.6 1432.2,628.6 1432.8,629.0C1433.5,629.4 1434.4,628.0 1435.2,626.8C1436.0,625.6 1436.8,624.0 1437.5,621.8C1438.3,619.5 1438.9,615.4 1439.5,613.4C1440.2,611.4 1440.7,609.2 1441.2,610.0C1441.8,610.9 1442.4,614.8 1442.9,618.4C1443.4,622.1 1443.8,626.8 1444.2,631.8C1444.6,636.8 1444.9,643.3 1445.2,648.6C1445.6,653.9 1445.8,659.9 1446.2,663.6C1446.6,667.4 1447.1,670.6 1447.6,671.2C1448.1,671.7 1448.6,669.1 1449.3,667.0C1449.9,664.9 1450.6,661.1 1451.3,658.6C1451.9,656.1 1452.6,653.5 1453.3,651.9C1453.9,650.3 1454.7,648.9 1455.3,648.9C1455.9,648.9 1456.3,650.7 1457.0,651.9C1457.6,653.1 1458.2,655.5 1459.0,656.1C1459.7,656.7 1460.6,655.2 1461.3,655.6C1462.0,656.0 1462.4,657.5 1463.0,658.6C1463.5,659.7 1464.2,662.5 1464.7,662.0C1465.2,661.4 1465.6,658.3 1466.0,655.3C1466.4,652.2 1466.8,646.6 1467.3,643.5C1467.8,640.5 1468.4,638.7 1469.0,636.8C1469.6,635.0 1470.4,633.8 1471.0,632.7C1471.7,631.5 1472.4,630.1 1473.0,630.1C1473.6,630.1 1474.2,631.8 1474.7,632.7C1475.2,633.5 1475.5,635.0 1476.0,635.2C1476.6,635.3 1477.4,634.9 1478.1,633.5C1478.7,632.1 1479.2,630.1 1479.7,626.8C1480.3,623.4 1480.8,616.4 1481.4,613.4C1482.0,610.4 1482.5,609.2 1483.1,608.9C1483.6,608.6 1484.2,609.6 1484.8,611.7C1485.3,613.9 1485.9,617.9 1486.4,621.8C1486.9,625.7 1487.3,631.5 1487.8,635.2C1488.2,638.8 1488.7,644.1 1489.1,643.5C1489.6,643.0 1490.0,638.0 1490.4,631.8C1490.9,625.7 1491.3,614.2 1491.8,606.7C1492.2,599.2 1492.7,591.6 1493.1,586.6C1493.6,581.6 1494.1,578.6 1494.5,576.9C1494.9,575.2 1495.1,574.4 1495.5,576.6C1495.9,578.7 1496.4,585.2 1496.8,590.0C1497.3,594.7 1497.6,603.5 1498.1,605.0C1498.7,606.6 1499.3,600.3 1499.8,599.2C1500.3,598.0 1500.6,597.6 1501.2,598.3C1501.7,599.0 1502.4,600.8 1503.2,603.4C1503.9,605.9 1504.8,609.8 1505.5,613.4C1506.2,617.0 1506.7,620.9 1507.2,625.1C1507.7,629.3 1508.1,634.9 1508.5,638.5C1509.0,642.1 1509.5,648.6 1509.9,646.9C1510.3,645.2 1510.5,636.3 1510.9,628.5C1511.2,620.7 1511.5,606.8 1511.9,600.0C1512.2,593.2 1512.5,588.3 1512.9,587.4C1513.2,586.6 1513.5,591.2 1513.9,595.0C1514.3,598.7 1514.8,606.8 1515.2,610.0C1515.6,613.3 1515.8,614.5 1516.2,614.2C1516.6,614.0 1517.1,609.8 1517.6,608.4C1518.0,607.0 1518.5,605.0 1518.9,605.9C1519.4,606.7 1519.7,609.6 1520.3,613.4C1520.8,617.2 1521.4,623.2 1521.9,628.5C1522.4,633.8 1522.8,640.7 1523.3,645.2C1523.7,649.7 1524.2,655.3 1524.6,655.3C1525.0,655.3 1525.3,650.8 1525.6,645.2C1525.9,639.6 1526.3,627.6 1526.6,621.8C1526.9,615.9 1527.1,612.0 1527.6,610.0C1528.2,608.1 1529.2,610.3 1530.0,610.0C1530.7,609.8 1531.4,610.9 1532.0,608.4C1532.6,605.9 1533.1,599.4 1533.6,595.0C1534.2,590.5 1534.8,584.7 1535.3,581.6C1535.8,578.5 1536.2,576.6 1536.7,576.6C1537.1,576.6 1537.6,580.3 1538.0,581.6C1538.4,582.8 1538.9,585.8 1539.3,584.1C1539.7,582.4 1540.0,577.5 1540.3,571.5C1540.7,565.5 1541.0,553.3 1541.3,548.1C1541.7,542.8 1541.9,541.2 1542.4,540.1C1542.8,538.9 1543.5,540.7 1544.0,541.1C1544.6,541.4 1545.1,542.2 1545.7,542.2C1546.3,542.2 1547.0,541.8 1547.7,541.1C1548.4,540.4 1549.1,538.9 1549.7,538.0C1550.3,537.2 1550.9,534.9 1551.3,536.0C1551.8,537.2 1552.0,539.1 1552.3,544.7C1552.7,550.4 1553.0,562.9 1553.3,569.9C1553.7,576.8 1554.2,582.1 1554.7,586.6C1555.1,591.1 1555.6,594.7 1556.0,596.7C1556.5,598.6 1556.9,599.4 1557.4,598.3C1557.8,597.2 1558.2,592.5 1558.7,590.0C1559.2,587.4 1559.9,583.5 1560.4,583.3C1560.9,583.0 1561.3,587.0 1561.7,588.3C1562.1,589.5 1562.3,593.0 1562.7,590.8C1563.1,588.6 1563.7,580.0 1564.1,574.9C1564.5,569.7 1564.7,563.2 1565.1,559.8C1565.4,556.4 1565.9,553.6 1566.2,554.5C1566.6,555.3 1567.0,560.6 1567.4,564.8C1567.8,569.1 1568.4,576.8 1568.8,579.9C1569.1,583.0 1569.4,585.5 1569.8,583.3C1570.1,581.0 1570.7,571.5 1571.1,566.5C1571.5,561.5 1572.0,556.5 1572.4,553.1C1572.9,549.8 1573.3,547.8 1573.8,546.4C1574.2,545.0 1574.6,544.7 1575.1,544.7C1575.6,544.7 1576.2,545.0 1576.8,546.4C1577.3,547.8 1578.0,549.2 1578.5,553.1C1578.9,557.0 1579.1,563.4 1579.5,569.9C1579.8,576.3 1580.1,586.7 1580.5,591.6C1580.8,596.6 1581.0,598.3 1581.5,599.7C1582.0,601.0 1582.8,599.8 1583.5,599.7C1584.2,599.6 1584.8,598.8 1585.5,599.2C1586.2,599.5 1587.0,599.9 1587.5,601.7C1588.1,603.5 1588.4,607.8 1588.8,610.0C1589.3,612.3 1589.8,616.5 1590.2,615.1C1590.6,613.7 1590.9,606.1 1591.2,601.7C1591.5,597.2 1591.9,591.3 1592.2,588.3C1592.5,585.3 1592.9,582.6 1593.2,583.8C1593.5,584.9 1593.8,590.6 1594.2,595.0C1594.6,599.4 1595.0,605.9 1595.5,610.0C1596.0,614.2 1596.7,617.6 1597.2,620.1C1597.8,622.6 1598.3,624.3 1598.9,625.1C1599.5,626.0 1600.3,624.8 1600.9,625.1C1601.5,625.4 1602.1,625.8 1602.6,626.8C1603.1,627.8 1603.5,630.1 1603.9,631.0C1604.4,631.8 1604.9,634.5 1605.3,631.8C1605.6,629.2 1605.9,621.2 1606.3,615.1C1606.6,608.9 1606.9,599.1 1607.3,595.0C1607.6,590.8 1607.9,589.5 1608.3,590.3C1608.6,591.1 1608.9,596.4 1609.3,600.0C1609.7,603.6 1610.2,609.0 1610.6,611.7C1611.1,614.5 1611.4,615.6 1612.0,616.4C1612.5,617.2 1613.3,617.0 1614.0,616.7C1614.6,616.5 1615.4,617.0 1616.0,615.1C1616.5,613.1 1616.9,610.0 1617.3,605.0C1617.8,600.0 1618.2,590.0 1618.7,584.9C1619.1,579.9 1619.6,574.6 1620.0,574.6C1620.4,574.6 1620.6,580.4 1621.0,584.9C1621.4,589.5 1621.9,597.4 1622.3,601.7C1622.8,606.0 1623.1,608.8 1623.7,610.9C1624.2,613.0 1625.0,613.5 1625.7,614.2C1626.4,615.0 1627.4,616.4 1628.0,615.4C1628.6,614.4 1628.9,611.4 1629.4,608.4C1629.9,605.4 1630.5,599.6 1631.0,597.5C1631.5,595.4 1631.9,595.8 1632.4,595.8C1632.9,595.8 1633.5,596.7 1634.1,597.5C1634.6,598.3 1635.2,600.0 1635.7,600.8C1636.2,601.7 1636.6,603.5 1637.1,602.5C1637.5,601.5 1638.0,599.0 1638.4,595.0C1638.9,590.9 1639.3,582.3 1639.8,578.2C1640.2,574.2 1640.6,571.7 1641.1,570.7C1641.5,569.7 1642.0,571.1 1642.4,572.4C1642.9,573.6 1643.3,575.3 1643.8,578.2C1644.2,581.2 1644.7,586.3 1645.1,590.0C1645.6,593.6 1646.0,598.0 1646.5,600.0C1646.9,602.0 1647.3,602.0 1647.8,601.7C1648.3,601.3 1649.0,598.0 1649.5,598.0C1650.0,598.0 1650.4,599.7 1650.8,601.7C1651.3,603.7 1651.6,608.7 1652.1,610.0C1652.6,611.4 1653.3,610.5 1653.8,610.0C1654.4,609.6 1654.9,607.0 1655.5,607.5C1656.1,608.1 1656.6,610.7 1657.2,613.4C1657.7,616.0 1658.3,620.5 1658.8,623.4C1659.4,626.4 1659.9,628.7 1660.5,631.0C1661.1,633.2 1661.9,635.7 1662.5,636.8C1663.1,638.0 1663.8,640.2 1664.2,637.7C1664.6,635.2 1664.9,628.9 1665.2,621.8C1665.5,614.7 1665.9,602.0 1666.2,595.0C1666.5,588.0 1666.9,582.6 1667.2,579.9C1667.5,577.2 1667.6,576.6 1667.9,578.6C1668.2,580.5 1668.6,586.1 1668.9,591.6C1669.2,597.2 1669.6,606.7 1669.9,611.7C1670.2,616.7 1670.5,619.0 1670.9,621.8C1671.3,624.6 1672.1,626.2 1672.6,628.5C1673.1,630.7 1673.5,631.8 1673.9,635.2C1674.4,638.5 1674.7,644.1 1675.3,648.6C1675.8,653.0 1676.4,657.8 1676.9,662.0C1677.5,666.1 1678.1,670.9 1678.6,673.7C1679.1,676.5 1679.5,681.2 1679.9,678.7C1680.3,676.2 1680.7,668.1 1680.9,658.6C1681.2,649.1 1681.4,631.3 1681.6,621.8C1681.8,612.3 1682.1,605.3 1682.3,601.7C1682.5,598.0 1682.7,597.5 1683.0,600.0C1683.2,602.5 1683.6,610.3 1684.0,616.7C1684.3,623.2 1684.6,635.4 1685.0,638.5C1685.3,641.6 1685.6,638.0 1686.0,635.2C1686.3,632.4 1686.6,625.4 1687.0,621.8C1687.3,618.1 1687.6,615.2 1688.0,613.4C1688.3,611.6 1688.6,610.4 1689.0,611.2C1689.4,612.1 1689.9,616.2 1690.3,618.4C1690.8,620.6 1691.3,625.4 1691.7,624.3C1692.1,623.2 1692.3,615.5 1692.7,611.7C1693.0,608.0 1693.3,603.9 1693.7,601.7C1694.0,599.4 1694.3,598.0 1694.7,598.3C1695.1,598.6 1695.6,601.4 1696.0,603.4C1696.5,605.3 1696.9,608.2 1697.4,610.0C1697.9,611.9 1698.5,612.6 1699.0,614.2C1699.6,615.9 1700.2,617.7 1700.7,620.1C1701.2,622.5 1701.5,626.0 1702.0,628.5C1702.5,631.0 1703.2,636.8 1703.7,635.2C1704.2,633.5 1704.6,622.9 1705.0,618.4C1705.4,614.0 1705.9,609.2 1706.3,608.4C1706.8,607.5 1707.2,611.5 1707.7,613.4C1708.1,615.3 1708.3,618.7 1709.0,619.8C1709.7,620.8 1711.0,621.7 1711.7,619.8C1712.4,617.9 1712.8,611.9 1713.4,608.4C1714.0,604.8 1714.8,600.6 1715.4,598.3C1716.0,596.0 1716.6,595.2 1717.1,594.5C1717.6,593.8 1718.0,592.7 1718.4,594.1C1718.8,595.6 1719.0,598.2 1719.4,603.4C1719.8,608.5 1720.3,619.3 1720.7,625.1C1721.2,631.0 1721.6,635.3 1722.1,638.5C1722.6,641.7 1723.3,645.5 1723.8,644.4C1724.3,643.3 1724.6,637.0 1725.1,631.8C1725.5,626.7 1726.0,616.8 1726.4,613.4C1726.8,610.0 1727.0,610.7 1727.4,611.2C1727.8,611.8 1728.3,614.8 1728.8,616.7C1729.2,618.6 1729.7,623.2 1730.1,622.6C1730.6,622.1 1731.0,615.5 1731.5,613.4C1731.9,611.3 1732.2,610.7 1732.8,610.0C1733.4,609.4 1734.2,609.6 1734.8,609.7C1735.4,609.9 1736.0,608.3 1736.5,610.9C1736.9,613.5 1737.2,619.4 1737.5,625.1C1737.8,630.8 1738.1,640.3 1738.5,645.2C1738.9,650.1 1739.4,655.5 1739.8,654.4C1740.3,653.3 1740.8,642.3 1741.2,638.5C1741.6,634.7 1741.8,632.5 1742.2,631.8C1742.6,631.1 1743.1,633.4 1743.5,634.3C1744.0,635.3 1744.4,638.1 1744.9,637.7C1745.4,637.3 1746.0,635.6 1746.5,631.8C1747.0,628.1 1747.4,620.7 1747.9,615.1C1748.3,609.5 1748.8,602.4 1749.2,598.3C1749.7,594.3 1750.1,591.9 1750.5,590.8C1751.0,589.7 1751.4,590.1 1751.9,591.6C1752.3,593.2 1752.7,596.1 1753.2,600.0C1753.7,603.9 1754.3,610.6 1754.9,615.1C1755.5,619.5 1756.0,624.0 1756.6,626.8C1757.2,629.6 1758.0,629.9 1758.6,631.8C1759.2,633.8 1759.7,635.4 1760.3,638.5C1760.8,641.6 1761.4,646.9 1761.9,650.2C1762.5,653.6 1763.0,656.5 1763.6,658.6C1764.2,660.7 1765.1,663.4 1765.6,662.8C1766.2,662.2 1766.5,657.9 1767.0,655.3C1767.5,652.6 1768.1,648.2 1768.6,646.9C1769.2,645.5 1769.8,647.1 1770.3,647.2C1770.8,647.4 1771.3,649.7 1771.6,647.7C1772.0,645.7 1772.3,639.5 1772.6,635.2C1773.0,630.8 1773.3,624.3 1773.7,621.8C1774.0,619.2 1774.3,619.5 1774.7,619.8C1775.0,620.0 1775.6,621.9 1776.0,623.4C1776.4,625.0 1776.9,629.0 1777.3,629.3C1777.8,629.6 1778.2,626.9 1778.7,625.1C1779.1,623.3 1779.6,619.8 1780.0,618.4C1780.4,617.0 1780.6,616.2 1781.0,616.7C1781.4,617.3 1781.9,619.5 1782.4,621.8C1782.9,624.0 1783.5,627.6 1784.0,630.1C1784.6,632.7 1785.3,635.2 1785.7,636.8C1786.2,638.5 1786.3,641.3 1786.7,639.9C1787.1,638.5 1787.6,631.9 1788.1,628.5C1788.5,625.0 1788.9,620.9 1789.4,619.3C1789.8,617.6 1790.2,618.3 1790.7,618.4C1791.2,618.5 1791.9,618.6 1792.4,619.8C1792.9,620.9 1793.3,623.1 1793.7,625.1C1794.2,627.1 1794.7,630.4 1795.1,631.8C1795.5,633.2 1795.8,636.3 1796.1,633.5C1796.4,630.7 1796.5,621.5 1796.8,615.1C1797.0,608.7 1797.2,600.0 1797.4,595.0C1797.7,590.0 1798.1,586.5 1798.4,584.9C1798.8,583.4 1799.1,584.4 1799.4,585.8C1799.8,587.2 1800.1,590.4 1800.4,593.3C1800.8,596.2 1801.1,601.3 1801.5,603.4C1801.8,605.4 1802.3,605.9 1802.8,605.9C1803.3,605.9 1803.9,603.6 1804.5,603.4C1805.0,603.1 1805.6,603.6 1806.1,604.2C1806.7,604.7 1807.3,605.7 1807.8,606.7C1808.4,607.7 1808.9,609.2 1809.5,610.0C1810.0,610.9 1810.5,611.4 1811.2,611.7C1811.8,612.0 1812.8,611.2 1813.5,611.7C1814.2,612.3 1814.6,612.6 1815.2,615.1C1815.7,617.6 1816.4,621.8 1816.9,626.8C1817.4,631.8 1817.7,639.8 1818.2,645.2C1818.6,650.7 1819.1,658.9 1819.5,659.4C1819.9,660.0 1820.2,654.8 1820.5,648.6C1820.9,642.3 1821.2,627.5 1821.5,621.8C1821.9,616.0 1822.2,615.5 1822.5,614.2C1822.9,613.0 1823.2,613.5 1823.6,614.2C1823.9,614.9 1824.4,616.6 1824.9,618.4C1825.4,620.2 1826.0,622.9 1826.6,625.1C1827.1,627.4 1827.7,630.3 1828.2,631.8C1828.8,633.4 1829.4,633.8 1829.9,634.3C1830.5,634.9 1831.1,633.4 1831.6,635.2C1832.0,637.0 1832.2,641.0 1832.6,645.2C1833.0,649.4 1833.5,657.1 1833.9,660.3C1834.3,663.5 1834.5,665.0 1834.9,664.5C1835.3,663.9 1835.8,660.7 1836.3,656.9C1836.7,653.2 1837.2,647.7 1837.6,641.9C1838.0,636.0 1838.3,627.4 1838.6,621.8C1839.0,616.2 1839.4,611.3 1839.6,608.4C1839.9,605.4 1839.6,605.1 1840.0,604.0C1840.4,602.9 1841.2,604.0 1841.8,601.7C1842.4,599.5 1842.9,594.7 1843.6,590.6C1844.2,586.5 1845.1,580.7 1845.8,577.2C1846.5,573.6 1847.2,571.2 1848.0,569.4C1848.9,567.5 1850.0,567.7 1850.7,566.0C1851.5,564.3 1851.9,562.7 1852.5,559.3C1853.1,556.0 1853.7,551.5 1854.3,545.9C1854.9,540.3 1855.5,532.1 1856.1,525.8C1856.7,519.6 1857.3,510.3 1857.9,508.4C1858.4,506.5 1858.8,509.9 1859.2,514.7C1859.6,519.4 1860.1,535.1 1860.5,537.0C1861.0,538.8 1861.4,531.0 1861.9,525.8C1862.3,520.6 1862.8,509.5 1863.2,505.7C1863.7,501.9 1864.0,502.7 1864.6,503.0C1865.1,503.4 1865.7,504.5 1866.3,508.0C1866.9,511.4 1867.5,518.6 1868.1,523.6C1868.7,528.6 1869.4,537.7 1869.9,538.1C1870.4,538.5 1870.8,533.4 1871.3,525.8C1871.7,518.2 1872.2,501.5 1872.6,492.3C1873.0,483.2 1873.3,484.2 1873.6,470.8C1873.9,457.5 1874.0,428.5 1874.2,412.2C1874.4,395.9 1874.5,387.8 1874.8,373.1C1875.0,358.5 1875.3,334.5 1875.6,324.3C1875.8,314.1 1875.9,312.2 1876.1,312.2C1876.3,312.2 1876.5,314.1 1876.7,324.3C1877.0,334.5 1877.2,358.5 1877.5,373.1C1877.8,387.8 1878.0,397.6 1878.3,412.2C1878.6,426.9 1879.0,447.0 1879.5,461.0C1879.9,475.1 1880.5,487.1 1881.1,496.8C1881.6,506.5 1882.3,513.9 1882.9,519.1C1883.5,524.3 1884.1,528.0 1884.7,528.0C1885.2,528.0 1885.9,522.2 1886.4,519.1C1887.0,516.1 1887.3,510.5 1887.8,509.7C1888.2,509.0 1888.6,510.9 1889.1,514.7C1889.6,518.4 1890.3,526.6 1890.9,532.5C1891.5,538.5 1892.2,546.5 1892.7,550.4C1893.2,554.3 1893.5,557.4 1894.0,556.0C1894.6,554.5 1895.2,546.8 1895.8,541.4C1896.4,536.0 1897.1,528.2 1897.6,523.6C1898.1,518.9 1898.5,515.2 1898.9,513.5C1899.4,511.9 1899.8,511.9 1900.3,513.5C1900.7,515.2 1901.2,523.4 1901.6,523.6C1902.1,523.8 1902.5,519.9 1903.0,514.7C1903.4,509.4 1903.9,499.6 1904.3,492.3C1904.7,485.0 1905.2,476.0 1905.6,470.8C1906.1,465.6 1906.4,463.3 1906.8,461.0C1907.3,458.8 1907.9,456.8 1908.4,457.1C1908.9,457.5 1909.5,460.1 1909.9,463.0C1910.4,465.9 1910.8,469.8 1911.1,474.7C1911.4,479.6 1911.5,484.2 1911.9,492.3C1912.2,500.5 1912.8,516.1 1913.2,523.6C1913.7,531.0 1914.1,538.5 1914.6,537.0C1915.0,535.5 1915.5,522.8 1915.9,514.7C1916.4,506.5 1916.6,495.8 1917.2,487.9C1917.9,479.9 1919.1,474.3 1919.7,466.9C1920.3,459.5 1920.5,452.6 1920.9,443.5C1921.3,434.4 1921.7,421.7 1922.0,412.2C1922.4,402.8 1922.9,391.6 1923.2,386.8C1923.5,382.0 1923.5,383.6 1924.0,383.3C1924.5,383.0 1925.4,383.7 1926.0,385.3C1926.5,386.8 1926.8,386.9 1927.1,392.7C1927.5,398.5 1927.6,410.3 1927.9,420.0C1928.2,429.8 1928.4,441.5 1928.7,451.3C1928.9,461.0 1929.2,472.9 1929.5,478.6C1929.7,484.4 1929.7,483.7 1930.2,485.6C1930.7,487.5 1931.8,485.3 1932.4,490.1C1933.0,494.9 1933.2,506.8 1933.8,514.7C1934.3,522.5 1935.0,530.7 1935.6,537.0C1936.2,543.3 1936.7,548.7 1937.3,552.6C1937.9,556.5 1938.5,559.7 1939.1,560.4C1939.7,561.2 1940.4,560.2 1940.9,557.1C1941.4,553.9 1941.8,546.7 1942.3,541.4C1942.7,536.2 1943.1,529.0 1943.6,525.8C1944.0,522.7 1944.4,522.8 1944.9,522.5C1945.5,522.1 1946.2,524.9 1946.7,523.6C1947.2,522.3 1947.6,517.8 1948.1,514.7C1948.5,511.5 1949.0,506.5 1949.4,504.6C1949.8,502.7 1950.3,502.1 1950.7,503.0C1951.2,504.0 1951.6,508.3 1952.1,510.2C1952.5,512.1 1953.0,516.1 1953.4,514.7C1953.9,513.2 1954.3,505.4 1954.8,501.3C1955.2,497.2 1955.7,492.1 1956.1,490.1C1956.5,488.0 1956.6,487.1 1957.0,489.0C1957.4,490.8 1957.9,494.0 1958.3,501.3C1958.8,508.5 1959.2,523.6 1959.7,532.5C1960.1,541.4 1960.5,548.7 1961.0,554.8C1961.5,561.0 1962.2,567.1 1962.8,569.4C1963.4,571.6 1964.1,571.4 1964.6,568.2C1965.1,565.1 1965.5,557.8 1965.9,550.4C1966.4,542.9 1966.8,530.0 1967.3,523.6C1967.7,517.2 1968.2,512.0 1968.6,512.0C1969.0,512.0 1969.5,517.2 1969.9,523.6C1970.4,530.0 1970.8,548.1 1971.3,550.4C1971.7,552.6 1972.2,545.9 1972.6,537.0C1973.0,528.0 1973.2,505.4 1973.5,496.8C1973.8,488.2 1974.1,484.1 1974.4,485.6C1974.7,487.1 1975.0,493.4 1975.3,505.7C1975.6,518.0 1975.9,542.2 1976.2,559.3C1976.5,576.4 1976.8,595.4 1977.1,608.4C1977.4,621.4 1977.7,638.2 1978.0,637.4C1978.3,636.7 1978.6,615.5 1978.9,604.0C1979.2,592.4 1979.5,574.7 1979.8,568.2C1980.1,561.7 1980.4,563.8 1980.7,564.9C1981.0,566.0 1981.3,569.9 1981.5,574.9C1981.8,580.0 1982.2,588.7 1982.4,595.0C1982.7,601.4 1983.0,609.9 1983.1,612.9" fill="none" stroke="#8fbaa4" stroke-width="1.3" stroke-linejoin="round"/>
<rect x="283.6" y="706" width="1.3" height="7" fill="#e0e1e6"/>
<rect x="439.0" y="706" width="1.3" height="7" fill="#e0e1e6"/>
<rect x="594.5" y="706" width="1.3" height="7" fill="#e0e1e6"/>
<rect x="749.9" y="706" width="1.3" height="7" fill="#e0e1e6"/>
<rect x="905.4" y="706" width="1.3" height="7" fill="#e0e1e6"/>
<rect x="1060.8" y="706" width="1.3" height="7" fill="#e0e1e6"/>
<rect x="1216.2" y="706" width="1.3" height="7" fill="#e0e1e6"/>
<rect x="1371.7" y="706" width="1.3" height="7" fill="#e0e1e6"/>
<rect x="1527.1" y="706" width="1.3" height="7" fill="#e0e1e6"/>
<rect x="1682.6" y="706" width="1.3" height="7" fill="#e0e1e6"/>
<rect x="1838.0" y="706" width="1.3" height="7" fill="#e0e1e6"/>
<rect x="1944.6" y="298.8" width="39.3" height="407.2" fill="rgba(122,128,146,0.24)"/>
<rect x="1943.6" y="298.8" width="1.6" height="407.2" fill="#fff"/>
</svg>
<span class="t" id="t18" style="right:1892.00px;top:369.52px;font-size:14.80px;line-height:14.80px;color:#4a5163;-webkit-text-stroke:0.25px #4a5163;">1K</span>
<span class="t" id="t19" style="right:1892.00px;top:435.42px;font-size:14.80px;line-height:14.80px;color:#4a5163;-webkit-text-stroke:0.25px #4a5163;">800</span>
<span class="t" id="t20" style="right:1892.00px;top:501.32px;font-size:14.80px;line-height:14.80px;color:#4a5163;-webkit-text-stroke:0.25px #4a5163;">600</span>
<span class="t" id="t21" style="right:1892.00px;top:567.22px;font-size:14.80px;line-height:14.80px;color:#4a5163;-webkit-text-stroke:0.25px #4a5163;">400</span>
<span class="t" id="t22" style="right:1892.00px;top:633.12px;font-size:14.80px;line-height:14.80px;color:#4a5163;-webkit-text-stroke:0.25px #4a5163;">200</span>
<span class="t" id="t23" style="left:284.20px;transform:translateX(-50%);top:716.72px;font-size:14.80px;line-height:14.80px;color:#4a5163;-webkit-text-stroke:0.25px #4a5163;">2014</span>
<span class="t" id="t24" style="left:439.64px;transform:translateX(-50%);top:716.72px;font-size:14.80px;line-height:14.80px;color:#4a5163;-webkit-text-stroke:0.25px #4a5163;">2015</span>
<span class="t" id="t25" style="left:595.08px;transform:translateX(-50%);top:716.72px;font-size:14.80px;line-height:14.80px;color:#4a5163;-webkit-text-stroke:0.25px #4a5163;">2016</span>
<span class="t" id="t26" style="left:750.52px;transform:translateX(-50%);top:716.72px;font-size:14.80px;line-height:14.80px;color:#4a5163;-webkit-text-stroke:0.25px #4a5163;">2017</span>
<span class="t" id="t27" style="left:905.96px;transform:translateX(-50%);top:716.72px;font-size:14.80px;line-height:14.80px;color:#4a5163;-webkit-text-stroke:0.25px #4a5163;">2018</span>
<span class="t" id="t28" style="left:1061.40px;transform:translateX(-50%);top:716.72px;font-size:14.80px;line-height:14.80px;color:#4a5163;-webkit-text-stroke:0.25px #4a5163;">2019</span>
<span class="t" id="t29" style="left:1216.84px;transform:translateX(-50%);top:716.72px;font-size:14.80px;line-height:14.80px;color:#4a5163;-webkit-text-stroke:0.25px #4a5163;">2020</span>
<span class="t" id="t30" style="left:1372.28px;transform:translateX(-50%);top:716.72px;font-size:14.80px;line-height:14.80px;color:#4a5163;-webkit-text-stroke:0.25px #4a5163;">2021</span>
<span class="t" id="t31" style="left:1527.72px;transform:translateX(-50%);top:716.72px;font-size:14.80px;line-height:14.80px;color:#4a5163;-webkit-text-stroke:0.25px #4a5163;">2022</span>
<span class="t" id="t32" style="left:1683.16px;transform:translateX(-50%);top:716.72px;font-size:14.80px;line-height:14.80px;color:#4a5163;-webkit-text-stroke:0.25px #4a5163;">2023</span>
<span class="t" id="t33" style="left:1838.60px;transform:translateX(-50%);top:716.72px;font-size:14.80px;line-height:14.80px;color:#4a5163;-webkit-text-stroke:0.25px #4a5163;">2024</span>
<svg width="230" height="480" style="left:0;top:0"><path d="M92.2,440.8 L143.2,416 L143.2,436.6 L211.6,436.6 L211.6,446.4 L143.2,446.4 L143.2,465.8 Z" fill="#1934e6"/></svg>
<div class="abs" style="left:93px;top:740px;width:1940px;height:301.6px;overflow:hidden">
<div class="card" style="left:40.2px;top:13.0px;width:591.6px;height:233.8px"></div>
<svg width="64" height="64" viewBox="0 0 64 64" style="left:55.0px;top:28.0px;overflow:hidden"><rect width="64" height="64" rx="3.2" fill="#c5c5c5"/><clipPath id="ac1804"><rect width="64" height="64" rx="3.2"/></clipPath><g clip-path="url(#ac1804)"><circle cx="32" cy="26.2" r="15.1" fill="#fff"/><ellipse cx="32" cy="70" rx="24.4" ry="33.5" fill="#fff"/></g></svg>
<span class="t" id="t34" style="left:126.80px;top:31.48px;font-size:21.20px;line-height:21.20px;color:#1d2b4c;letter-spacing:0.151px;-webkit-text-stroke:0.45px #1d2b4c;">Lauren Tan</span>
<span class="t" id="t35" style="left:126.80px;top:58.83px;font-size:16.20px;line-height:16.20px;color:#4a5163;letter-spacing:0.478px;">440 commits /</span>
<span class="t" id="t36" style="left:239.10px;top:58.83px;font-size:16.20px;line-height:16.20px;color:#5da27c;letter-spacing:0.231px;">231,453 ++</span>
<span class="t" id="t37" style="left:328.00px;top:58.83px;font-size:16.20px;line-height:16.20px;color:#3a4257;">/</span>
<span class="t" id="t38" style="left:338.40px;top:58.83px;font-size:16.20px;line-height:16.20px;color:#d5655c;letter-spacing:0.411px;">156,537 --</span>
<svg width="591" height="234" style="left:41.0px;top:13.0px"><rect x="20" y="119.7" width="549.8" height="1.3" fill="#e0e2e6"/><rect x="20" y="155.8" width="549.8" height="1.3" fill="#e0e2e6"/><rect x="20" y="192.1" width="549.8" height="1.3" fill="#e0e2e6"/><rect x="146.2" y="192.7" width="1.2" height="6" fill="#d4d7dc"/><rect x="331.4" y="192.7" width="1.2" height="6" fill="#d4d7dc"/><rect x="510.1" y="192.7" width="1.2" height="6" fill="#d4d7dc"/><path d="M51.7,192.7C52.8,191.9 53.3,194.9 56.1,189.8C58.8,184.7 58.4,185.0 61.9,173.7C65.4,162.4 65.3,161.4 69.2,147.3C73.1,133.3 72.7,132.7 76.6,120.9C80.5,109.2 80.4,109.8 83.9,103.4C87.4,97.0 87.0,98.9 89.8,96.9C92.5,95.0 91.8,95.3 94.1,96.0C96.5,96.8 95.8,95.9 98.5,99.9C101.3,103.8 101.3,103.5 104.4,110.7C107.5,117.9 107.1,117.4 110.3,126.8C113.4,136.2 113.0,136.5 116.1,145.8C119.2,155.2 118.9,154.9 122.0,162.0C125.1,169.0 124.7,168.5 127.8,172.2C131.0,175.9 130.6,175.5 133.7,175.7C136.8,176.0 136.4,175.6 139.6,173.1C142.7,170.6 141.5,171.7 145.4,166.4C149.3,161.0 149.5,160.2 154.2,153.2C158.9,146.1 158.3,145.2 163.0,140.0C167.7,134.8 167.9,135.5 171.8,133.5C175.7,131.6 173.0,132.7 177.6,132.7C182.3,132.7 183.1,132.5 189.4,133.5C195.6,134.6 194.8,134.4 201.1,136.5C207.3,138.6 207.3,138.6 212.8,141.5C218.3,144.3 216.9,143.0 221.6,147.3C226.3,151.6 225.7,151.3 230.4,157.6C235.1,163.8 234.5,164.1 239.2,170.8C243.9,177.4 243.7,177.9 248.0,182.5C252.3,187.0 251.8,186.2 255.3,187.7C258.8,189.3 256.8,189.0 261.1,188.3C265.4,187.7 265.5,187.6 271.4,185.4C277.3,183.2 276.9,182.5 283.1,180.1C289.4,177.8 289.4,177.9 294.8,176.6C300.3,175.4 297.4,175.8 303.6,175.4C309.9,175.1 308.1,175.5 318.3,175.4C328.4,175.4 331.5,175.8 341.7,175.1C351.9,174.5 347.0,175.2 356.4,173.1C365.7,171.0 365.9,170.2 376.9,167.2C387.8,164.3 387.2,164.4 397.4,162.0C407.5,159.5 407.5,159.4 414.9,158.2C422.4,156.9 420.5,156.9 425.2,157.3C429.9,157.7 428.6,157.2 432.5,159.6C436.4,162.0 435.6,161.4 439.8,166.4C444.1,171.3 443.9,172.2 448.6,178.1C453.3,183.9 453.1,184.5 457.4,188.3C461.7,192.2 462.0,191.3 464.8,192.4C467.5,193.6 466.9,192.6 467.7,192.7Z" fill="rgba(227,126,113,0.92)"/></svg>
<span class="t" id="t39" style="right:1604.00px;top:126.02px;font-size:14.80px;line-height:14.80px;color:#4a5163;-webkit-text-stroke:0.25px #4a5163;">100</span>
<span class="t" id="t40" style="right:1604.00px;top:162.12px;font-size:14.80px;line-height:14.80px;color:#4a5163;-webkit-text-stroke:0.25px #4a5163;">50</span>
<span class="t" id="t41" style="left:187.80px;transform:translateX(-50%);top:215.83px;font-size:12.20px;line-height:12.20px;color:#4a5163;-webkit-text-stroke:0.20px #4a5163;">OCTOBER</span>
<span class="t" id="t42" style="left:373.00px;transform:translateX(-50%);top:215.83px;font-size:12.20px;line-height:12.20px;color:#4a5163;-webkit-text-stroke:0.20px #4a5163;">NOVEMBER</span>
<span class="t" id="t43" style="left:551.70px;transform:translateX(-50%);top:215.83px;font-size:12.20px;line-height:12.20px;color:#4a5163;-webkit-text-stroke:0.20px #4a5163;">DECEMBER</span>
<div class="card" style="left:658.7px;top:13.0px;width:591.6px;height:233.8px"></div>
<svg width="64" height="64" viewBox="0 0 64 64" style="left:673.5px;top:28.0px;overflow:hidden"><rect width="64" height="64" rx="3.2" fill="#c5c5c5"/><clipPath id="ac6133"><rect width="64" height="64" rx="3.2"/></clipPath><g clip-path="url(#ac6133)"><circle cx="32" cy="26.2" r="15.1" fill="#fff"/><ellipse cx="32" cy="70" rx="24.4" ry="33.5" fill="#fff"/></g></svg>
<span class="t" id="t44" style="left:745.30px;top:31.48px;font-size:21.20px;line-height:21.20px;color:#1d2b4c;letter-spacing:0.179px;-webkit-text-stroke:0.45px #1d2b4c;">Sam Zhou</span>
<span class="t" id="t45" style="left:745.30px;top:58.83px;font-size:16.20px;line-height:16.20px;color:#4a5163;letter-spacing:0.278px;">315 commits /</span>
<span class="t" id="t46" style="left:854.80px;top:58.83px;font-size:16.20px;line-height:16.20px;color:#5da27c;letter-spacing:0.522px;">32,554 ++</span>
<span class="t" id="t47" style="left:936.50px;top:58.83px;font-size:16.20px;line-height:16.20px;color:#3a4257;">/</span>
<span class="t" id="t48" style="left:946.20px;top:58.83px;font-size:16.20px;line-height:16.20px;color:#d5655c;letter-spacing:0.825px;">29,263 --</span>
<svg width="591" height="234" style="left:659.5px;top:13.0px"><rect x="20" y="119.7" width="549.8" height="1.3" fill="#e0e2e6"/><rect x="20" y="155.8" width="549.8" height="1.3" fill="#e0e2e6"/><rect x="20" y="192.1" width="549.8" height="1.3" fill="#e0e2e6"/><rect x="146.2" y="192.7" width="1.2" height="6" fill="#d4d7dc"/><rect x="331.4" y="192.7" width="1.2" height="6" fill="#d4d7dc"/><rect x="510.1" y="192.7" width="1.2" height="6" fill="#d4d7dc"/><path d="M8.6,192.7 L8.6,177.2 L8.6,177.2C11.9,177.6 13.8,177.9 20.9,178.7C28.1,179.4 26.2,179.7 35.6,180.1C45.0,180.6 44.4,180.5 56.1,180.4C67.8,180.3 68.6,180.3 79.5,179.8C90.5,179.4 88.5,179.9 97.1,178.7C105.7,177.4 103.9,176.9 111.8,175.1C119.6,173.3 117.8,173.4 126.4,171.9C135.0,170.4 134.6,170.6 144.0,169.6C153.4,168.6 153.0,168.6 161.6,168.1C170.2,167.6 167.6,167.7 176.2,167.8C184.8,167.9 184.4,168.0 193.8,168.4C203.2,168.8 203.2,169.1 211.4,169.3C219.6,169.4 218.3,169.8 224.6,169.0C230.8,168.2 229.3,168.0 234.8,166.4C240.3,164.7 240.0,164.2 245.1,162.8C250.1,161.4 249.6,161.6 253.8,161.1C258.1,160.5 257.3,160.4 261.2,160.8C265.1,161.2 264.6,161.1 268.5,162.5C272.4,164.0 271.1,163.8 275.8,166.4C280.5,168.9 280.6,169.6 286.1,172.2C291.5,174.8 289.7,174.5 296.3,176.0C303.0,177.6 302.4,177.3 311.0,178.1C319.6,178.9 320.0,178.6 328.6,179.0C337.1,179.3 334.6,179.5 343.2,179.2C351.8,179.0 351.4,178.8 360.8,178.1C370.2,177.4 369.0,177.7 378.4,176.6C387.7,175.5 387.3,175.3 395.9,174.0C404.5,172.6 403.6,172.5 410.6,171.6C417.6,170.8 416.8,170.9 422.3,170.8C427.8,170.6 426.4,170.3 431.1,171.0C435.8,171.8 434.4,171.8 439.9,173.7C445.4,175.6 445.4,176.0 451.6,178.1C457.9,180.2 456.3,180.3 463.3,181.6C470.4,182.8 469.4,182.3 478.0,182.8C486.6,183.2 487.0,183.0 495.5,183.3C504.1,183.7 502.4,183.3 510.2,184.2C518.0,185.2 517.0,185.1 524.8,186.9C532.7,188.6 532.9,189.1 539.5,190.7C546.1,192.2 547.0,192.2 549.7,192.7Z" fill="rgba(227,126,113,0.92)"/></svg>
<span class="t" id="t49" style="right:985.50px;top:126.02px;font-size:14.80px;line-height:14.80px;color:#4a5163;-webkit-text-stroke:0.25px #4a5163;">100</span>
<span class="t" id="t50" style="right:985.50px;top:162.12px;font-size:14.80px;line-height:14.80px;color:#4a5163;-webkit-text-stroke:0.25px #4a5163;">50</span>
<span class="t" id="t51" style="left:806.30px;transform:translateX(-50%);top:215.83px;font-size:12.20px;line-height:12.20px;color:#4a5163;-webkit-text-stroke:0.20px #4a5163;">OCTOBER</span>
<span class="t" id="t52" style="left:991.50px;transform:translateX(-50%);top:215.83px;font-size:12.20px;line-height:12.20px;color:#4a5163;-webkit-text-stroke:0.20px #4a5163;">NOVEMBER</span>
<span class="t" id="t53" style="left:1170.20px;transform:translateX(-50%);top:215.83px;font-size:12.20px;line-height:12.20px;color:#4a5163;-webkit-text-stroke:0.20px #4a5163;">DECEMBER</span>
<div class="card" style="left:1277.2px;top:13.0px;width:591.6px;height:233.8px"></div>
<svg width="64.4" height="64.2" viewBox="0 0 64 64" style="left:1292.0px;top:28.0px;overflow:hidden"><defs><clipPath id="pcl"><rect width="64" height="64" rx="4.2"/></clipPath><filter id="pbl" x="-10%" y="-10%" width="120%" height="120%"><feGaussianBlur stdDeviation="1.1"/></filter><filter id="pbl2" x="-10%" y="-10%" width="120%" height="120%"><feGaussianBlur stdDeviation="2"/></filter><linearGradient id="por" x1="0" x2="1" y1="0" y2="1"><stop offset="0" stop-color="#d4552a"/><stop offset="0.6" stop-color="#e66c38"/><stop offset="1" stop-color="#d86a3e"/></linearGradient><linearGradient id="pfc" x1="0" x2="1" y1="0" y2="0"><stop offset="0" stop-color="#c48c76"/><stop offset="0.45" stop-color="#d3a089"/><stop offset="0.8" stop-color="#a87a78"/><stop offset="1" stop-color="#806482"/></linearGradient></defs><g clip-path="url(#pcl)"><rect width="64" height="64" fill="#86483a"/><g filter="url(#pbl)"><rect x="0" y="0" width="17" height="64" fill="#83473a"/><path d="M16,0 L40,0 L40,64 L16,64 Z" fill="#9a6058"/><path d="M18,0 H40 V14 Z" fill="#5a2420"/><rect x="38" y="0" width="26" height="52" fill="url(#por)"/><rect x="37" y="0" width="2.2" height="20" fill="#5a2018"/><path d="M50,22 L62,22 M58,22 L50,46" stroke="#c24e26" stroke-width="1.2" fill="none"/><path d="M46,50 Q56,46 64,48 V64 H44 Z" fill="#3c2430"/><path d="M0,58 Q10,52 22,58 L26,64 H0 Z" fill="#3e2c34"/><path d="M10,64 L22,57 L27,64 Z" fill="#5e6680"/></g><g filter="url(#pbl)"><path d="M32,9.6 C41,9.6 46.6,17 47,27 C47.4,38 46,47 42,53 C39,58 35,59.6 32,59.6 C28,59.6 24,57 21.4,52 C17.6,45 16.6,36 17,27 C17.4,17 23,9.6 32,9.6 Z" fill="url(#pfc)"/><ellipse cx="30" cy="19" rx="9" ry="7" fill="#e2b29a" opacity="0.8"/><path d="M19.4,42 C21,54 26,59.6 32,59.6 C38,59.6 43.6,55 45.6,42 C42,50 37,51.6 32,51.6 C27,51.6 22.6,49 19.4,42 Z" fill="#6e4238"/><path d="M26,46.4 Q32,49.4 38,46.4 Q32,44.6 26,46.4 Z" fill="#8a5648"/></g><path d="M17.4,30.6 H28.4 M34.6,30.6 H45.6 M28.4,30.6 Q31.5,29.4 34.6,30.6 M17.4,30.6 V33.4 Q22.6,36 28.4,33.4 V30.6 M34.6,30.6 V33.4 Q40,36 45.6,33.4 V30.6" stroke="#4a3434" stroke-width="1.1" fill="none" opacity="0.8" filter="url(#pbl)"/><circle cx="48.8" cy="49" r="1.2" fill="#f4eee8" filter="url(#pbl)"/></g></svg>
<span class="t" id="t54" style="left:1363.80px;top:31.48px;font-size:21.20px;line-height:21.20px;color:#1d2b4c;letter-spacing:0.689px;-webkit-text-stroke:0.45px #1d2b4c;">slorber</span>
<span class="t" id="t55" style="left:1363.80px;top:58.83px;font-size:16.20px;line-height:16.20px;color:#4a5163;letter-spacing:0.411px;">292 commits /</span>
<span class="t" id="t56" style="left:1475.50px;top:58.83px;font-size:16.20px;line-height:16.20px;color:#5da27c;letter-spacing:0.372px;">42,732 ++</span>
<span class="t" id="t57" style="left:1556.60px;top:58.83px;font-size:16.20px;line-height:16.20px;color:#3a4257;">/</span>
<span class="t" id="t58" style="left:1565.40px;top:58.83px;font-size:16.20px;line-height:16.20px;color:#d5655c;letter-spacing:0.538px;">15,626 --</span>
<svg width="591" height="234" style="left:1278.0px;top:13.0px"><rect x="20" y="119.7" width="549.8" height="1.3" fill="#e0e2e6"/><rect x="20" y="155.8" width="549.8" height="1.3" fill="#e0e2e6"/><rect x="20" y="192.1" width="549.8" height="1.3" fill="#e0e2e6"/><rect x="146.2" y="192.7" width="1.2" height="6" fill="#d4d7dc"/><rect x="331.4" y="192.7" width="1.2" height="6" fill="#d4d7dc"/><rect x="510.1" y="192.7" width="1.2" height="6" fill="#d4d7dc"/><path d="M8.7,192.7 L8.7,168.7 L8.7,168.7C11.8,168.8 13.4,168.7 20.4,169.0C27.5,169.3 26.5,169.0 35.1,169.9C43.7,170.7 44.1,170.6 52.7,172.2C61.3,173.9 59.5,174.1 67.3,176.0C75.1,177.9 74.9,178.2 82.0,179.2C89.0,180.3 85.1,179.8 93.7,179.8C102.3,179.9 100.9,179.9 114.2,179.5C127.5,179.2 127.9,179.1 143.5,178.7C159.1,178.3 158.7,178.6 172.8,178.1C186.8,177.5 185.3,177.6 196.2,176.6C207.2,175.6 206.0,175.8 213.8,174.3C221.6,172.7 219.3,173.3 225.5,170.8C231.8,168.3 231.4,167.6 237.2,164.9C243.1,162.2 242.4,162.2 247.5,160.5C252.6,158.8 252.4,158.9 256.3,158.4C260.2,158.0 259.0,157.8 262.1,158.7C265.3,159.7 264.5,159.4 268.0,162.0C271.5,164.5 271.0,164.5 275.3,168.4C279.6,172.3 279.4,172.9 284.1,176.6C288.8,180.4 288.6,180.4 292.9,182.5C297.2,184.5 296.3,184.1 300.2,184.2C304.1,184.4 303.3,184.5 307.5,183.1C311.8,181.6 311.6,181.3 316.3,179.0C321.0,176.6 320.4,176.3 325.1,174.3C329.8,172.2 329.2,172.4 333.9,171.3C338.6,170.2 336.5,170.2 342.7,170.2C349.0,170.1 348.0,169.9 357.4,171.0C366.7,172.1 364.6,172.2 377.9,174.3C391.1,176.3 391.5,176.4 407.2,178.7C422.8,180.9 420.8,180.7 436.5,182.8C452.1,184.8 450.1,184.6 465.8,186.3C481.4,187.9 479.4,187.7 495.0,188.9C510.7,190.2 510.3,190.0 524.3,191.0C538.4,191.9 540.0,192.0 547.8,192.4C553.6,192.9 552.1,192.6 553.6,192.7Z" fill="rgba(227,126,113,0.92)"/></svg>
<span class="t" id="t59" style="right:367.00px;top:126.02px;font-size:14.80px;line-height:14.80px;color:#4a5163;-webkit-text-stroke:0.25px #4a5163;">100</span>
<span class="t" id="t60" style="right:367.00px;top:162.12px;font-size:14.80px;line-height:14.80px;color:#4a5163;-webkit-text-stroke:0.25px #4a5163;">50</span>
<span class="t" id="t61" style="left:1424.80px;transform:translateX(-50%);top:215.83px;font-size:12.20px;line-height:12.20px;color:#4a5163;-webkit-text-stroke:0.20px #4a5163;">OCTOBER</span>
<span class="t" id="t62" style="left:1610.00px;transform:translateX(-50%);top:215.83px;font-size:12.20px;line-height:12.20px;color:#4a5163;-webkit-text-stroke:0.20px #4a5163;">NOVEMBER</span>
<span class="t" id="t63" style="left:1788.70px;transform:translateX(-50%);top:215.83px;font-size:12.20px;line-height:12.20px;color:#4a5163;-webkit-text-stroke:0.20px #4a5163;">DECEMBER</span>
<div class="card" style="left:40.2px;top:273.9px;width:591.6px;height:233.8px"></div>
<svg width="64" height="64" viewBox="0 0 64 64" style="left:55.0px;top:289.0px;overflow:hidden"><rect width="64" height="64" rx="3.2" fill="#c5c5c5"/><clipPath id="ac2065"><rect width="64" height="64" rx="3.2"/></clipPath><g clip-path="url(#ac2065)"><circle cx="32" cy="26.2" r="15.1" fill="#fff"/><ellipse cx="32" cy="70" rx="24.4" ry="33.5" fill="#fff"/></g></svg>
<span class="t" id="t64" style="left:126.80px;top:292.48px;font-size:21.20px;line-height:21.20px;color:#1d2b4c;letter-spacing:0.450px;-webkit-text-stroke:0.45px #1d2b4c;">Riccardo Cipolleschi</span>
<div class="card" style="left:658.7px;top:273.9px;width:591.6px;height:233.8px"></div>
<svg width="64" height="64" viewBox="0 0 64 64" style="left:673.5px;top:289.0px;overflow:hidden"><rect width="64" height="64" rx="3.2" fill="#c5c5c5"/><clipPath id="ac6394"><rect width="64" height="64" rx="3.2"/></clipPath><g clip-path="url(#ac6394)"><circle cx="32" cy="26.2" r="15.1" fill="#fff"/><ellipse cx="32" cy="70" rx="24.4" ry="33.5" fill="#fff"/></g></svg>
<span class="t" id="t65" style="left:745.30px;top:292.48px;font-size:21.20px;line-height:21.20px;color:#1d2b4c;letter-spacing:0.522px;-webkit-text-stroke:0.45px #1d2b4c;">Mofei Zhang</span>
<div class="card" style="left:1277.2px;top:273.9px;width:591.6px;height:233.8px"></div>
<svg width="64" height="64" viewBox="0 0 64 64" style="left:1292.0px;top:289.0px;overflow:hidden"><rect width="64" height="64" rx="3.2" fill="#c5c5c5"/><clipPath id="ac10724"><rect width="64" height="64" rx="3.2"/></clipPath><g clip-path="url(#ac10724)"><circle cx="32" cy="26.2" r="15.1" fill="#fff"/><ellipse cx="32" cy="70" rx="24.4" ry="33.5" fill="#fff"/></g></svg>
<span class="t" id="t66" style="left:1363.80px;top:292.48px;font-size:21.20px;line-height:21.20px;color:#1d2b4c;letter-spacing:0.386px;-webkit-text-stroke:0.45px #1d2b4c;">Rubén Norte</span>
</div>
<div class="abs" style="left:93px;top:993px;width:1760px;height:48.7px;background:linear-gradient(to right,rgba(0,0,0,0) 0,rgba(0,0,0,1) 8%,rgba(0,0,0,1) 80%,rgba(0,0,0,0) 100%);-webkit-mask-image:linear-gradient(to bottom,rgba(0,0,0,0),rgba(0,0,0,0.085));mask-image:linear-gradient(to bottom,rgba(0,0,0,0),rgba(0,0,0,0.085))"></div>
<div class="abs" style="left:0;top:0;width:4px;height:1056px;background:linear-gradient(to right,rgba(120,120,120,0),rgba(120,120,120,0.2))"></div>
<div class="abs" style="left:2039px;top:3px;width:4px;height:1053px;background:linear-gradient(to left,rgba(120,120,120,0),rgba(120,120,120,0.2))"></div>
<div class="abs" style="left:3px;top:0;width:2037px;height:3.5px;background:linear-gradient(to bottom,rgba(120,120,120,0),rgba(120,120,120,0.10))"></div>
<svg width="2048" height="1075" style="left:0;top:0"><defs><linearGradient id="shg" x1="0" x2="1" y1="0" y2="0"><stop offset="0" stop-color="#cacaca"/><stop offset="0.12" stop-color="#c2c2c2"/><stop offset="0.35" stop-color="#a6a6a6"/><stop offset="0.5" stop-color="#9c9c9c"/><stop offset="0.65" stop-color="#a6a6a6"/><stop offset="0.88" stop-color="#c2c2c2"/><stop offset="1" stop-color="#cacaca"/></linearGradient><filter id="shb" x="-1%" y="-50%" width="102%" height="200%"><feGaussianBlur stdDeviation="1.1"/></filter></defs><path d="M3,1055.6 L2040,1055.6 L2040.0,1069.2 L2031.0,1068.9 L2019.0,1068.4 L2007.0,1068.0 L1995.0,1067.6 L1983.0,1067.2 L1971.0,1066.8 L1959.0,1066.5 L1947.0,1066.1 L1935.0,1065.8 L1923.0,1065.5 L1911.0,1065.1 L1899.0,1064.9 L1887.0,1064.6 L1875.0,1064.3 L1863.0,1064.0 L1851.0,1063.8 L1839.0,1063.5 L1827.0,1063.3 L1815.0,1063.1 L1803.0,1062.9 L1791.0,1062.7 L1779.0,1062.5 L1767.0,1062.3 L1755.0,1062.1 L1743.0,1061.9 L1731.0,1061.7 L1719.0,1061.6 L1707.0,1061.4 L1695.0,1061.3 L1683.0,1061.1 L1671.0,1061.0 L1659.0,1060.9 L1647.0,1060.7 L1635.0,1060.6 L1623.0,1060.5 L1611.0,1060.4 L1599.0,1060.3 L1587.0,1060.2 L1575.0,1060.1 L1563.0,1060.0 L1551.0,1059.9 L1539.0,1059.8 L1527.0,1059.7 L1515.0,1059.6 L1503.0,1059.5 L1491.0,1059.5 L1479.0,1059.4 L1467.0,1059.3 L1455.0,1059.3 L1443.0,1059.2 L1431.0,1059.1 L1419.0,1059.1 L1407.0,1059.0 L1395.0,1059.0 L1383.0,1058.9 L1371.0,1058.8 L1359.0,1058.8 L1347.0,1058.8 L1335.0,1058.7 L1323.0,1058.7 L1311.0,1058.6 L1299.0,1058.6 L1287.0,1058.5 L1275.0,1058.5 L1263.0,1058.5 L1251.0,1058.4 L1239.0,1058.4 L1227.0,1058.4 L1215.0,1058.3 L1203.0,1058.3 L1191.0,1058.3 L1179.0,1058.3 L1167.0,1058.2 L1155.0,1058.2 L1143.0,1058.2 L1131.0,1058.2 L1119.0,1058.1 L1107.0,1058.1 L1095.0,1058.1 L1083.0,1058.1 L1071.0,1058.1 L1059.0,1058.0 L1047.0,1058.0 L1035.0,1058.0 L1023.0,1058.0 L1011.0,1058.0 L999.0,1058.0 L987.0,1058.0 L975.0,1058.1 L963.0,1058.1 L951.0,1058.1 L939.0,1058.1 L927.0,1058.1 L915.0,1058.2 L903.0,1058.2 L891.0,1058.2 L879.0,1058.2 L867.0,1058.3 L855.0,1058.3 L843.0,1058.3 L831.0,1058.3 L819.0,1058.4 L807.0,1058.4 L795.0,1058.4 L783.0,1058.5 L771.0,1058.5 L759.0,1058.5 L747.0,1058.6 L735.0,1058.6 L723.0,1058.7 L711.0,1058.7 L699.0,1058.7 L687.0,1058.8 L675.0,1058.8 L663.0,1058.9 L651.0,1058.9 L639.0,1059.0 L627.0,1059.0 L615.0,1059.1 L603.0,1059.2 L591.0,1059.2 L579.0,1059.3 L567.0,1059.4 L555.0,1059.4 L543.0,1059.5 L531.0,1059.6 L519.0,1059.7 L507.0,1059.8 L495.0,1059.9 L483.0,1059.9 L471.0,1060.0 L459.0,1060.1 L447.0,1060.2 L435.0,1060.3 L423.0,1060.5 L411.0,1060.6 L399.0,1060.7 L387.0,1060.8 L375.0,1061.0 L363.0,1061.1 L351.0,1061.2 L339.0,1061.4 L327.0,1061.5 L315.0,1061.7 L303.0,1061.9 L291.0,1062.0 L279.0,1062.2 L267.0,1062.4 L255.0,1062.6 L243.0,1062.8 L231.0,1063.0 L219.0,1063.2 L207.0,1063.5 L195.0,1063.7 L183.0,1064.0 L171.0,1064.2 L159.0,1064.5 L147.0,1064.8 L135.0,1065.1 L123.0,1065.4 L111.0,1065.7 L99.0,1066.0 L87.0,1066.4 L75.0,1066.7 L63.0,1067.1 L51.0,1067.5 L39.0,1067.9 L27.0,1068.3 L15.0,1068.7 L3.0,1069.2Z" fill="url(#shg)" filter="url(#shb)"/><rect x="4" y="1050" width="2035" height="5.6" fill="#fff"/></svg>
</div>
</body></html>
